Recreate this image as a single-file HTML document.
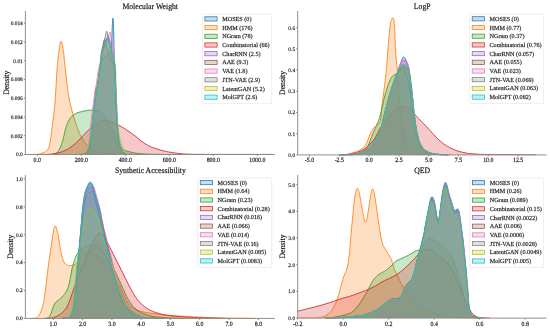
<!DOCTYPE html><html><head><meta charset="utf-8"><style>html,body{margin:0;padding:0;background:#fff;}svg{display:block;}</style></head><body>
<svg width="550" height="329" viewBox="0 0 550 329">
<defs><filter id="gs" x="0" y="0" width="1" height="1"><feColorMatrix type="identity"/></filter></defs>
<rect width="550" height="329" fill="#fff"/>
<clipPath id="c0"><rect x="25.40" y="-9.10" width="249.60" height="164.10"/></clipPath>
<g clip-path="url(#c0)">
<path d="M80.00,154.50 L80.00,154.50 C80.67,154.45 82.83,154.57 84.00,154.20 C85.17,153.83 86.07,153.67 87.00,152.30 C87.93,150.93 88.87,149.55 89.60,146.00 C90.33,142.45 90.83,135.83 91.40,131.00 C91.97,126.17 92.50,121.50 93.00,117.00 C93.50,112.50 94.05,107.67 94.40,104.00 C94.75,100.33 94.93,97.53 95.10,95.00 C95.27,92.47 95.12,90.03 95.40,88.80 C95.68,87.57 96.30,89.07 96.80,87.60 C97.30,86.13 97.90,82.93 98.40,80.00 C98.90,77.07 99.28,73.00 99.80,70.00 C100.32,67.00 100.80,64.17 101.50,62.00 C102.20,59.83 103.00,58.08 104.00,57.00 C105.00,55.92 106.42,56.33 107.50,55.50 C108.58,54.67 109.80,54.25 110.50,52.00 C111.20,49.75 111.42,46.00 111.70,42.00 C111.98,38.00 112.02,31.97 112.20,28.00 C112.38,24.03 112.60,18.87 112.80,18.20 C113.00,17.53 113.23,20.70 113.40,24.00 C113.57,27.30 113.67,32.83 113.80,38.00 C113.93,43.17 114.03,49.67 114.20,55.00 C114.37,60.33 114.62,65.83 114.80,70.00 C114.98,74.17 115.08,75.00 115.30,80.00 C115.52,85.00 115.77,92.50 116.10,100.00 C116.43,107.50 116.87,118.33 117.30,125.00 C117.73,131.67 118.00,135.83 118.70,140.00 C119.40,144.17 120.62,147.83 121.50,150.00 C122.38,152.17 122.92,152.28 124.00,153.00 C125.08,153.72 126.33,154.05 128.00,154.30 C129.67,154.55 133.00,154.47 134.00,154.50 L134.00,154.50 Z" fill="#1f77b4" fill-opacity="0.250" stroke="none"/>
<path d="M80.00,154.50 C80.67,154.45 82.83,154.57 84.00,154.20 C85.17,153.83 86.07,153.67 87.00,152.30 C87.93,150.93 88.87,149.55 89.60,146.00 C90.33,142.45 90.83,135.83 91.40,131.00 C91.97,126.17 92.50,121.50 93.00,117.00 C93.50,112.50 94.05,107.67 94.40,104.00 C94.75,100.33 94.93,97.53 95.10,95.00 C95.27,92.47 95.12,90.03 95.40,88.80 C95.68,87.57 96.30,89.07 96.80,87.60 C97.30,86.13 97.90,82.93 98.40,80.00 C98.90,77.07 99.28,73.00 99.80,70.00 C100.32,67.00 100.80,64.17 101.50,62.00 C102.20,59.83 103.00,58.08 104.00,57.00 C105.00,55.92 106.42,56.33 107.50,55.50 C108.58,54.67 109.80,54.25 110.50,52.00 C111.20,49.75 111.42,46.00 111.70,42.00 C111.98,38.00 112.02,31.97 112.20,28.00 C112.38,24.03 112.60,18.87 112.80,18.20 C113.00,17.53 113.23,20.70 113.40,24.00 C113.57,27.30 113.67,32.83 113.80,38.00 C113.93,43.17 114.03,49.67 114.20,55.00 C114.37,60.33 114.62,65.83 114.80,70.00 C114.98,74.17 115.08,75.00 115.30,80.00 C115.52,85.00 115.77,92.50 116.10,100.00 C116.43,107.50 116.87,118.33 117.30,125.00 C117.73,131.67 118.00,135.83 118.70,140.00 C119.40,144.17 120.62,147.83 121.50,150.00 C122.38,152.17 122.92,152.28 124.00,153.00 C125.08,153.72 126.33,154.05 128.00,154.30 C129.67,154.55 133.00,154.47 134.00,154.50" fill="none" stroke="#1f77b4" stroke-width="0.85" stroke-linejoin="round"/>
<path d="M28.00,154.50 L28.00,154.50 C28.83,154.48 31.27,154.45 33.00,154.40 C34.73,154.35 36.90,154.40 38.40,154.20 C39.90,154.00 40.82,153.60 42.00,153.20 C43.18,152.80 44.63,152.30 45.50,151.80 C46.37,151.30 46.62,151.00 47.20,150.20 C47.78,149.40 48.45,148.70 49.00,147.00 C49.55,145.30 50.03,142.83 50.50,140.00 C50.97,137.17 51.37,133.33 51.80,130.00 C52.23,126.67 52.68,123.33 53.10,120.00 C53.52,116.67 53.95,113.33 54.30,110.00 C54.65,106.67 54.90,104.17 55.20,100.00 C55.50,95.83 55.80,90.00 56.10,85.00 C56.40,80.00 56.67,74.50 57.00,70.00 C57.33,65.50 57.75,61.33 58.10,58.00 C58.45,54.67 58.77,52.33 59.10,50.00 C59.43,47.67 59.80,45.45 60.10,44.00 C60.40,42.55 60.60,41.47 60.90,41.30 C61.20,41.13 61.58,42.05 61.90,43.00 C62.22,43.95 62.50,45.33 62.80,47.00 C63.10,48.67 63.37,50.17 63.70,53.00 C64.03,55.83 64.40,60.17 64.80,64.00 C65.20,67.83 65.65,72.00 66.10,76.00 C66.55,80.00 66.95,84.00 67.50,88.00 C68.05,92.00 68.68,96.33 69.40,100.00 C70.12,103.67 70.87,106.50 71.80,110.00 C72.73,113.50 73.88,117.50 75.00,121.00 C76.12,124.50 77.33,128.08 78.50,131.00 C79.67,133.92 80.83,136.42 82.00,138.50 C83.17,140.58 84.42,142.12 85.50,143.50 C86.58,144.88 87.25,145.77 88.50,146.80 C89.75,147.83 91.08,148.80 93.00,149.70 C94.92,150.60 97.17,151.52 100.00,152.20 C102.83,152.88 105.83,153.43 110.00,153.80 C114.17,154.17 120.00,154.28 125.00,154.40 C130.00,154.52 137.50,154.48 140.00,154.50 L140.00,154.50 Z" fill="#ff7f0e" fill-opacity="0.250" stroke="none"/>
<path d="M28.00,154.50 C28.83,154.48 31.27,154.45 33.00,154.40 C34.73,154.35 36.90,154.40 38.40,154.20 C39.90,154.00 40.82,153.60 42.00,153.20 C43.18,152.80 44.63,152.30 45.50,151.80 C46.37,151.30 46.62,151.00 47.20,150.20 C47.78,149.40 48.45,148.70 49.00,147.00 C49.55,145.30 50.03,142.83 50.50,140.00 C50.97,137.17 51.37,133.33 51.80,130.00 C52.23,126.67 52.68,123.33 53.10,120.00 C53.52,116.67 53.95,113.33 54.30,110.00 C54.65,106.67 54.90,104.17 55.20,100.00 C55.50,95.83 55.80,90.00 56.10,85.00 C56.40,80.00 56.67,74.50 57.00,70.00 C57.33,65.50 57.75,61.33 58.10,58.00 C58.45,54.67 58.77,52.33 59.10,50.00 C59.43,47.67 59.80,45.45 60.10,44.00 C60.40,42.55 60.60,41.47 60.90,41.30 C61.20,41.13 61.58,42.05 61.90,43.00 C62.22,43.95 62.50,45.33 62.80,47.00 C63.10,48.67 63.37,50.17 63.70,53.00 C64.03,55.83 64.40,60.17 64.80,64.00 C65.20,67.83 65.65,72.00 66.10,76.00 C66.55,80.00 66.95,84.00 67.50,88.00 C68.05,92.00 68.68,96.33 69.40,100.00 C70.12,103.67 70.87,106.50 71.80,110.00 C72.73,113.50 73.88,117.50 75.00,121.00 C76.12,124.50 77.33,128.08 78.50,131.00 C79.67,133.92 80.83,136.42 82.00,138.50 C83.17,140.58 84.42,142.12 85.50,143.50 C86.58,144.88 87.25,145.77 88.50,146.80 C89.75,147.83 91.08,148.80 93.00,149.70 C94.92,150.60 97.17,151.52 100.00,152.20 C102.83,152.88 105.83,153.43 110.00,153.80 C114.17,154.17 120.00,154.28 125.00,154.40 C130.00,154.52 137.50,154.48 140.00,154.50" fill="none" stroke="#ff7f0e" stroke-width="0.85" stroke-linejoin="round"/>
<path d="M48.00,154.50 L48.00,154.50 C48.83,154.45 51.67,154.38 53.00,154.20 C54.33,154.02 55.17,153.85 56.00,153.40 C56.83,152.95 57.33,152.35 58.00,151.50 C58.67,150.65 59.35,149.65 60.00,148.30 C60.65,146.95 61.23,145.53 61.90,143.40 C62.57,141.27 63.23,138.48 64.00,135.50 C64.77,132.52 65.50,128.33 66.50,125.50 C67.50,122.67 68.75,120.32 70.00,118.50 C71.25,116.68 72.67,115.58 74.00,114.60 C75.33,113.62 76.72,113.10 78.00,112.60 C79.28,112.10 80.37,111.92 81.70,111.60 C83.03,111.28 84.62,110.93 86.00,110.70 C87.38,110.47 88.50,110.23 90.00,110.20 C91.50,110.17 93.33,110.12 95.00,110.50 C96.67,110.88 98.17,111.25 100.00,112.50 C101.83,113.75 104.17,115.42 106.00,118.00 C107.83,120.58 109.50,124.67 111.00,128.00 C112.50,131.33 113.72,135.12 115.00,138.00 C116.28,140.88 117.53,143.55 118.70,145.30 C119.87,147.05 120.78,147.58 122.00,148.50 C123.22,149.42 123.83,150.05 126.00,150.80 C128.17,151.55 131.83,152.47 135.00,153.00 C138.17,153.53 140.83,153.77 145.00,154.00 C149.17,154.23 154.17,154.32 160.00,154.40 C165.83,154.48 176.67,154.48 180.00,154.50 L180.00,154.50 Z" fill="#2ca02c" fill-opacity="0.250" stroke="none"/>
<path d="M48.00,154.50 C48.83,154.45 51.67,154.38 53.00,154.20 C54.33,154.02 55.17,153.85 56.00,153.40 C56.83,152.95 57.33,152.35 58.00,151.50 C58.67,150.65 59.35,149.65 60.00,148.30 C60.65,146.95 61.23,145.53 61.90,143.40 C62.57,141.27 63.23,138.48 64.00,135.50 C64.77,132.52 65.50,128.33 66.50,125.50 C67.50,122.67 68.75,120.32 70.00,118.50 C71.25,116.68 72.67,115.58 74.00,114.60 C75.33,113.62 76.72,113.10 78.00,112.60 C79.28,112.10 80.37,111.92 81.70,111.60 C83.03,111.28 84.62,110.93 86.00,110.70 C87.38,110.47 88.50,110.23 90.00,110.20 C91.50,110.17 93.33,110.12 95.00,110.50 C96.67,110.88 98.17,111.25 100.00,112.50 C101.83,113.75 104.17,115.42 106.00,118.00 C107.83,120.58 109.50,124.67 111.00,128.00 C112.50,131.33 113.72,135.12 115.00,138.00 C116.28,140.88 117.53,143.55 118.70,145.30 C119.87,147.05 120.78,147.58 122.00,148.50 C123.22,149.42 123.83,150.05 126.00,150.80 C128.17,151.55 131.83,152.47 135.00,153.00 C138.17,153.53 140.83,153.77 145.00,154.00 C149.17,154.23 154.17,154.32 160.00,154.40 C165.83,154.48 176.67,154.48 180.00,154.50" fill="none" stroke="#2ca02c" stroke-width="0.85" stroke-linejoin="round"/>
<path d="M40.00,154.50 L40.00,154.50 C41.17,154.48 44.87,154.48 47.00,154.40 C49.13,154.32 50.63,154.33 52.80,154.00 C54.97,153.67 57.97,152.97 60.00,152.40 C62.03,151.83 63.42,151.33 65.00,150.60 C66.58,149.87 67.83,149.13 69.50,148.00 C71.17,146.87 73.22,145.32 75.00,143.80 C76.78,142.28 78.53,140.60 80.20,138.90 C81.87,137.20 83.37,135.30 85.00,133.60 C86.63,131.90 88.33,130.20 90.00,128.70 C91.67,127.20 93.33,125.78 95.00,124.60 C96.67,123.42 98.40,122.27 100.00,121.60 C101.60,120.93 103.10,120.67 104.60,120.60 C106.10,120.53 107.52,120.87 109.00,121.20 C110.48,121.53 112.00,121.98 113.50,122.60 C115.00,123.22 116.25,123.97 118.00,124.90 C119.75,125.83 122.00,126.98 124.00,128.20 C126.00,129.42 128.00,130.80 130.00,132.20 C132.00,133.60 134.33,135.28 136.00,136.60 C137.67,137.92 138.50,138.93 140.00,140.10 C141.50,141.27 143.33,142.53 145.00,143.60 C146.67,144.67 148.33,145.72 150.00,146.50 C151.67,147.28 153.33,147.73 155.00,148.30 C156.67,148.87 158.33,149.42 160.00,149.90 C161.67,150.38 163.33,150.82 165.00,151.20 C166.67,151.58 167.50,151.80 170.00,152.20 C172.50,152.60 176.67,153.27 180.00,153.60 C183.33,153.93 185.83,154.07 190.00,154.20 C194.17,154.32 198.33,154.32 205.00,154.35 C211.67,154.38 219.50,154.39 230.00,154.40 C240.50,154.41 261.33,154.38 268.00,154.40 C274.67,154.42 269.67,154.48 270.00,154.50 L270.00,154.50 Z" fill="#d62728" fill-opacity="0.250" stroke="none"/>
<path d="M40.00,154.50 C41.17,154.48 44.87,154.48 47.00,154.40 C49.13,154.32 50.63,154.33 52.80,154.00 C54.97,153.67 57.97,152.97 60.00,152.40 C62.03,151.83 63.42,151.33 65.00,150.60 C66.58,149.87 67.83,149.13 69.50,148.00 C71.17,146.87 73.22,145.32 75.00,143.80 C76.78,142.28 78.53,140.60 80.20,138.90 C81.87,137.20 83.37,135.30 85.00,133.60 C86.63,131.90 88.33,130.20 90.00,128.70 C91.67,127.20 93.33,125.78 95.00,124.60 C96.67,123.42 98.40,122.27 100.00,121.60 C101.60,120.93 103.10,120.67 104.60,120.60 C106.10,120.53 107.52,120.87 109.00,121.20 C110.48,121.53 112.00,121.98 113.50,122.60 C115.00,123.22 116.25,123.97 118.00,124.90 C119.75,125.83 122.00,126.98 124.00,128.20 C126.00,129.42 128.00,130.80 130.00,132.20 C132.00,133.60 134.33,135.28 136.00,136.60 C137.67,137.92 138.50,138.93 140.00,140.10 C141.50,141.27 143.33,142.53 145.00,143.60 C146.67,144.67 148.33,145.72 150.00,146.50 C151.67,147.28 153.33,147.73 155.00,148.30 C156.67,148.87 158.33,149.42 160.00,149.90 C161.67,150.38 163.33,150.82 165.00,151.20 C166.67,151.58 167.50,151.80 170.00,152.20 C172.50,152.60 176.67,153.27 180.00,153.60 C183.33,153.93 185.83,154.07 190.00,154.20 C194.17,154.32 198.33,154.32 205.00,154.35 C211.67,154.38 219.50,154.39 230.00,154.40 C240.50,154.41 261.33,154.38 268.00,154.40 C274.67,154.42 269.67,154.48 270.00,154.50" fill="none" stroke="#d62728" stroke-width="0.85" stroke-linejoin="round"/>
<path d="M80.00,154.50 L80.00,154.50 C80.67,154.45 82.83,154.57 84.00,154.20 C85.17,153.83 86.07,153.67 87.00,152.30 C87.93,150.93 88.87,149.55 89.60,146.00 C90.33,142.45 90.83,135.83 91.40,131.00 C91.97,126.17 92.47,121.50 93.00,117.00 C93.53,112.50 94.05,108.17 94.60,104.00 C95.15,99.83 95.68,96.00 96.30,92.00 C96.92,88.00 97.75,83.67 98.30,80.00 C98.85,76.33 99.07,73.67 99.60,70.00 C100.13,66.33 100.68,62.00 101.50,58.00 C102.32,54.00 103.62,49.17 104.50,46.00 C105.38,42.83 106.15,40.58 106.80,39.00 C107.45,37.42 107.90,36.33 108.40,36.50 C108.90,36.67 109.28,38.08 109.80,40.00 C110.32,41.92 110.97,45.33 111.50,48.00 C112.03,50.67 112.50,53.33 113.00,56.00 C113.50,58.67 114.15,61.67 114.50,64.00 C114.85,66.33 114.97,67.33 115.10,70.00 C115.23,72.67 115.15,75.00 115.30,80.00 C115.45,85.00 115.67,92.50 116.00,100.00 C116.33,107.50 116.85,118.33 117.30,125.00 C117.75,131.67 118.00,135.83 118.70,140.00 C119.40,144.17 120.62,147.83 121.50,150.00 C122.38,152.17 122.92,152.28 124.00,153.00 C125.08,153.72 126.33,154.05 128.00,154.30 C129.67,154.55 133.00,154.47 134.00,154.50 L134.00,154.50 Z" fill="#9467bd" fill-opacity="0.250" stroke="none"/>
<path d="M80.00,154.50 C80.67,154.45 82.83,154.57 84.00,154.20 C85.17,153.83 86.07,153.67 87.00,152.30 C87.93,150.93 88.87,149.55 89.60,146.00 C90.33,142.45 90.83,135.83 91.40,131.00 C91.97,126.17 92.47,121.50 93.00,117.00 C93.53,112.50 94.05,108.17 94.60,104.00 C95.15,99.83 95.68,96.00 96.30,92.00 C96.92,88.00 97.75,83.67 98.30,80.00 C98.85,76.33 99.07,73.67 99.60,70.00 C100.13,66.33 100.68,62.00 101.50,58.00 C102.32,54.00 103.62,49.17 104.50,46.00 C105.38,42.83 106.15,40.58 106.80,39.00 C107.45,37.42 107.90,36.33 108.40,36.50 C108.90,36.67 109.28,38.08 109.80,40.00 C110.32,41.92 110.97,45.33 111.50,48.00 C112.03,50.67 112.50,53.33 113.00,56.00 C113.50,58.67 114.15,61.67 114.50,64.00 C114.85,66.33 114.97,67.33 115.10,70.00 C115.23,72.67 115.15,75.00 115.30,80.00 C115.45,85.00 115.67,92.50 116.00,100.00 C116.33,107.50 116.85,118.33 117.30,125.00 C117.75,131.67 118.00,135.83 118.70,140.00 C119.40,144.17 120.62,147.83 121.50,150.00 C122.38,152.17 122.92,152.28 124.00,153.00 C125.08,153.72 126.33,154.05 128.00,154.30 C129.67,154.55 133.00,154.47 134.00,154.50" fill="none" stroke="#9467bd" stroke-width="0.85" stroke-linejoin="round"/>
<path d="M80.00,154.50 L80.00,154.50 C80.67,154.45 82.83,154.57 84.00,154.20 C85.17,153.83 86.07,153.67 87.00,152.30 C87.93,150.93 88.87,149.55 89.60,146.00 C90.33,142.45 90.83,135.83 91.40,131.00 C91.97,126.17 92.47,121.50 93.00,117.00 C93.53,112.50 94.05,108.17 94.60,104.00 C95.15,99.83 95.68,96.00 96.30,92.00 C96.92,88.00 97.75,83.67 98.30,80.00 C98.85,76.33 99.15,74.17 99.60,70.00 C100.05,65.83 100.43,59.17 101.00,55.00 C101.57,50.83 102.42,47.63 103.00,45.00 C103.58,42.37 104.00,39.37 104.50,39.20 C105.00,39.03 105.33,41.87 106.00,44.00 C106.67,46.13 107.58,49.33 108.50,52.00 C109.42,54.67 110.58,57.67 111.50,60.00 C112.42,62.33 113.40,64.33 114.00,66.00 C114.60,67.67 114.88,67.67 115.10,70.00 C115.32,72.33 115.15,75.00 115.30,80.00 C115.45,85.00 115.67,92.50 116.00,100.00 C116.33,107.50 116.85,118.33 117.30,125.00 C117.75,131.67 118.00,135.83 118.70,140.00 C119.40,144.17 120.62,147.83 121.50,150.00 C122.38,152.17 122.92,152.28 124.00,153.00 C125.08,153.72 126.33,154.05 128.00,154.30 C129.67,154.55 133.00,154.47 134.00,154.50 L134.00,154.50 Z" fill="#8c564b" fill-opacity="0.250" stroke="none"/>
<path d="M80.00,154.50 C80.67,154.45 82.83,154.57 84.00,154.20 C85.17,153.83 86.07,153.67 87.00,152.30 C87.93,150.93 88.87,149.55 89.60,146.00 C90.33,142.45 90.83,135.83 91.40,131.00 C91.97,126.17 92.47,121.50 93.00,117.00 C93.53,112.50 94.05,108.17 94.60,104.00 C95.15,99.83 95.68,96.00 96.30,92.00 C96.92,88.00 97.75,83.67 98.30,80.00 C98.85,76.33 99.15,74.17 99.60,70.00 C100.05,65.83 100.43,59.17 101.00,55.00 C101.57,50.83 102.42,47.63 103.00,45.00 C103.58,42.37 104.00,39.37 104.50,39.20 C105.00,39.03 105.33,41.87 106.00,44.00 C106.67,46.13 107.58,49.33 108.50,52.00 C109.42,54.67 110.58,57.67 111.50,60.00 C112.42,62.33 113.40,64.33 114.00,66.00 C114.60,67.67 114.88,67.67 115.10,70.00 C115.32,72.33 115.15,75.00 115.30,80.00 C115.45,85.00 115.67,92.50 116.00,100.00 C116.33,107.50 116.85,118.33 117.30,125.00 C117.75,131.67 118.00,135.83 118.70,140.00 C119.40,144.17 120.62,147.83 121.50,150.00 C122.38,152.17 122.92,152.28 124.00,153.00 C125.08,153.72 126.33,154.05 128.00,154.30 C129.67,154.55 133.00,154.47 134.00,154.50" fill="none" stroke="#8c564b" stroke-width="0.85" stroke-linejoin="round"/>
<path d="M78.70,154.50 L78.70,154.50 C79.37,154.45 81.53,154.57 82.70,154.20 C83.87,153.83 84.77,153.67 85.70,152.30 C86.63,150.93 87.57,149.55 88.30,146.00 C89.03,142.45 89.53,135.83 90.10,131.00 C90.67,126.17 91.17,121.50 91.70,117.00 C92.23,112.50 92.75,108.17 93.30,104.00 C93.85,99.83 94.38,96.00 95.00,92.00 C95.62,88.00 96.45,83.67 97.00,80.00 C97.55,76.33 97.47,73.67 98.30,70.00 C99.13,66.33 100.88,61.67 102.00,58.00 C103.12,54.33 104.08,51.17 105.00,48.00 C105.92,44.83 106.72,41.62 107.50,39.00 C108.28,36.38 109.12,32.80 109.70,32.30 C110.28,31.80 110.53,33.88 111.00,36.00 C111.47,38.12 112.00,41.83 112.50,45.00 C113.00,48.17 113.62,52.00 114.00,55.00 C114.38,58.00 114.55,60.50 114.80,63.00 C115.05,65.50 115.35,67.17 115.50,70.00 C115.65,72.83 115.55,75.00 115.70,80.00 C115.85,85.00 116.07,92.50 116.40,100.00 C116.73,107.50 117.25,118.33 117.70,125.00 C118.15,131.67 118.40,135.83 119.10,140.00 C119.80,144.17 121.02,147.83 121.90,150.00 C122.78,152.17 123.32,152.28 124.40,153.00 C125.48,153.72 126.73,154.05 128.40,154.30 C130.07,154.55 133.40,154.47 134.40,154.50 L134.40,154.50 Z" fill="#e377c2" fill-opacity="0.250" stroke="none"/>
<path d="M78.70,154.50 C79.37,154.45 81.53,154.57 82.70,154.20 C83.87,153.83 84.77,153.67 85.70,152.30 C86.63,150.93 87.57,149.55 88.30,146.00 C89.03,142.45 89.53,135.83 90.10,131.00 C90.67,126.17 91.17,121.50 91.70,117.00 C92.23,112.50 92.75,108.17 93.30,104.00 C93.85,99.83 94.38,96.00 95.00,92.00 C95.62,88.00 96.45,83.67 97.00,80.00 C97.55,76.33 97.47,73.67 98.30,70.00 C99.13,66.33 100.88,61.67 102.00,58.00 C103.12,54.33 104.08,51.17 105.00,48.00 C105.92,44.83 106.72,41.62 107.50,39.00 C108.28,36.38 109.12,32.80 109.70,32.30 C110.28,31.80 110.53,33.88 111.00,36.00 C111.47,38.12 112.00,41.83 112.50,45.00 C113.00,48.17 113.62,52.00 114.00,55.00 C114.38,58.00 114.55,60.50 114.80,63.00 C115.05,65.50 115.35,67.17 115.50,70.00 C115.65,72.83 115.55,75.00 115.70,80.00 C115.85,85.00 116.07,92.50 116.40,100.00 C116.73,107.50 117.25,118.33 117.70,125.00 C118.15,131.67 118.40,135.83 119.10,140.00 C119.80,144.17 121.02,147.83 121.90,150.00 C122.78,152.17 123.32,152.28 124.40,153.00 C125.48,153.72 126.73,154.05 128.40,154.30 C130.07,154.55 133.40,154.47 134.40,154.50" fill="none" stroke="#e377c2" stroke-width="0.85" stroke-linejoin="round"/>
<path d="M80.00,154.50 L80.00,154.50 C80.67,154.45 82.83,154.57 84.00,154.20 C85.17,153.83 86.07,153.67 87.00,152.30 C87.93,150.93 88.87,149.55 89.60,146.00 C90.33,142.45 90.83,135.83 91.40,131.00 C91.97,126.17 92.47,121.50 93.00,117.00 C93.53,112.50 94.05,108.17 94.60,104.00 C95.15,99.83 95.68,96.00 96.30,92.00 C96.92,88.00 97.75,83.67 98.30,80.00 C98.85,76.33 98.92,74.50 99.60,70.00 C100.28,65.50 101.55,58.08 102.40,53.00 C103.25,47.92 104.02,43.13 104.70,39.50 C105.38,35.87 105.98,31.78 106.50,31.20 C107.02,30.62 107.30,33.70 107.80,36.00 C108.30,38.30 108.88,42.17 109.50,45.00 C110.12,47.83 110.83,50.33 111.50,53.00 C112.17,55.67 112.90,58.17 113.50,61.00 C114.10,63.83 114.80,66.83 115.10,70.00 C115.40,73.17 115.15,75.00 115.30,80.00 C115.45,85.00 115.67,92.50 116.00,100.00 C116.33,107.50 116.85,118.33 117.30,125.00 C117.75,131.67 118.00,135.83 118.70,140.00 C119.40,144.17 120.62,147.83 121.50,150.00 C122.38,152.17 122.92,152.28 124.00,153.00 C125.08,153.72 126.33,154.05 128.00,154.30 C129.67,154.55 133.00,154.47 134.00,154.50 L134.00,154.50 Z" fill="#7f7f7f" fill-opacity="0.250" stroke="none"/>
<path d="M80.00,154.50 C80.67,154.45 82.83,154.57 84.00,154.20 C85.17,153.83 86.07,153.67 87.00,152.30 C87.93,150.93 88.87,149.55 89.60,146.00 C90.33,142.45 90.83,135.83 91.40,131.00 C91.97,126.17 92.47,121.50 93.00,117.00 C93.53,112.50 94.05,108.17 94.60,104.00 C95.15,99.83 95.68,96.00 96.30,92.00 C96.92,88.00 97.75,83.67 98.30,80.00 C98.85,76.33 98.92,74.50 99.60,70.00 C100.28,65.50 101.55,58.08 102.40,53.00 C103.25,47.92 104.02,43.13 104.70,39.50 C105.38,35.87 105.98,31.78 106.50,31.20 C107.02,30.62 107.30,33.70 107.80,36.00 C108.30,38.30 108.88,42.17 109.50,45.00 C110.12,47.83 110.83,50.33 111.50,53.00 C112.17,55.67 112.90,58.17 113.50,61.00 C114.10,63.83 114.80,66.83 115.10,70.00 C115.40,73.17 115.15,75.00 115.30,80.00 C115.45,85.00 115.67,92.50 116.00,100.00 C116.33,107.50 116.85,118.33 117.30,125.00 C117.75,131.67 118.00,135.83 118.70,140.00 C119.40,144.17 120.62,147.83 121.50,150.00 C122.38,152.17 122.92,152.28 124.00,153.00 C125.08,153.72 126.33,154.05 128.00,154.30 C129.67,154.55 133.00,154.47 134.00,154.50" fill="none" stroke="#7f7f7f" stroke-width="0.85" stroke-linejoin="round"/>
<path d="M77.76,154.50 L77.76,154.50 C78.43,154.45 80.59,154.57 81.78,154.20 C82.98,153.83 83.89,153.67 84.94,152.30 C85.99,150.93 87.04,149.55 88.08,146.00 C89.11,142.45 90.33,135.83 91.15,131.00 C91.97,126.17 92.42,121.50 93.00,117.00 C93.58,112.50 94.05,108.17 94.60,104.00 C95.15,99.83 95.68,96.00 96.30,92.00 C96.92,88.00 97.75,83.67 98.30,80.00 C98.85,76.33 99.15,73.33 99.60,70.00 C100.05,66.67 100.27,63.33 101.00,60.00 C101.73,56.67 102.92,52.92 104.00,50.00 C105.08,47.08 106.50,43.08 107.50,42.50 C108.50,41.92 109.17,44.58 110.00,46.50 C110.83,48.42 111.78,51.42 112.50,54.00 C113.22,56.58 113.78,59.33 114.30,62.00 C114.82,64.67 115.35,67.00 115.60,70.00 C115.85,73.00 115.65,75.00 115.80,80.00 C115.95,85.00 116.17,92.50 116.50,100.00 C116.83,107.50 117.18,118.33 117.80,125.00 C118.42,131.67 119.21,135.83 120.22,140.00 C121.23,144.17 122.79,147.83 123.86,150.00 C124.93,152.17 125.47,152.28 126.62,153.00 C127.76,153.72 129.04,154.05 130.73,154.30 C132.41,154.55 135.74,154.47 136.74,154.50 L136.74,154.50 Z" fill="#bcbd22" fill-opacity="0.250" stroke="none"/>
<path d="M77.76,154.50 C78.43,154.45 80.59,154.57 81.78,154.20 C82.98,153.83 83.89,153.67 84.94,152.30 C85.99,150.93 87.04,149.55 88.08,146.00 C89.11,142.45 90.33,135.83 91.15,131.00 C91.97,126.17 92.42,121.50 93.00,117.00 C93.58,112.50 94.05,108.17 94.60,104.00 C95.15,99.83 95.68,96.00 96.30,92.00 C96.92,88.00 97.75,83.67 98.30,80.00 C98.85,76.33 99.15,73.33 99.60,70.00 C100.05,66.67 100.27,63.33 101.00,60.00 C101.73,56.67 102.92,52.92 104.00,50.00 C105.08,47.08 106.50,43.08 107.50,42.50 C108.50,41.92 109.17,44.58 110.00,46.50 C110.83,48.42 111.78,51.42 112.50,54.00 C113.22,56.58 113.78,59.33 114.30,62.00 C114.82,64.67 115.35,67.00 115.60,70.00 C115.85,73.00 115.65,75.00 115.80,80.00 C115.95,85.00 116.17,92.50 116.50,100.00 C116.83,107.50 117.18,118.33 117.80,125.00 C118.42,131.67 119.21,135.83 120.22,140.00 C121.23,144.17 122.79,147.83 123.86,150.00 C124.93,152.17 125.47,152.28 126.62,153.00 C127.76,153.72 129.04,154.05 130.73,154.30 C132.41,154.55 135.74,154.47 136.74,154.50" fill="none" stroke="#bcbd22" stroke-width="0.85" stroke-linejoin="round"/>
<path d="M80.30,154.50 L80.30,154.50 C80.97,154.45 83.13,154.57 84.30,154.20 C85.47,153.83 86.37,153.67 87.30,152.30 C88.23,150.93 89.17,149.55 89.90,146.00 C90.63,142.45 91.13,135.83 91.70,131.00 C92.27,126.17 92.77,121.50 93.30,117.00 C93.83,112.50 94.35,108.17 94.90,104.00 C95.45,99.83 95.98,96.00 96.60,92.00 C97.22,88.00 98.05,83.67 98.60,80.00 C99.15,76.33 99.42,74.00 99.90,70.00 C100.38,66.00 100.73,60.17 101.50,56.00 C102.27,51.83 103.58,48.08 104.50,45.00 C105.42,41.92 106.28,38.17 107.00,37.50 C107.72,36.83 108.13,39.08 108.80,41.00 C109.47,42.92 110.27,46.33 111.00,49.00 C111.73,51.67 112.58,54.50 113.20,57.00 C113.82,59.50 114.38,61.83 114.70,64.00 C115.02,66.17 115.00,67.33 115.10,70.00 C115.20,72.67 115.15,75.00 115.30,80.00 C115.45,85.00 115.67,92.50 116.00,100.00 C116.33,107.50 116.85,118.33 117.30,125.00 C117.75,131.67 118.00,135.83 118.70,140.00 C119.40,144.17 120.62,147.83 121.50,150.00 C122.38,152.17 122.92,152.28 124.00,153.00 C125.08,153.72 126.33,154.05 128.00,154.30 C129.67,154.55 133.00,154.47 134.00,154.50 L134.00,154.50 Z" fill="#17becf" fill-opacity="0.250" stroke="none"/>
<path d="M80.30,154.50 C80.97,154.45 83.13,154.57 84.30,154.20 C85.47,153.83 86.37,153.67 87.30,152.30 C88.23,150.93 89.17,149.55 89.90,146.00 C90.63,142.45 91.13,135.83 91.70,131.00 C92.27,126.17 92.77,121.50 93.30,117.00 C93.83,112.50 94.35,108.17 94.90,104.00 C95.45,99.83 95.98,96.00 96.60,92.00 C97.22,88.00 98.05,83.67 98.60,80.00 C99.15,76.33 99.42,74.00 99.90,70.00 C100.38,66.00 100.73,60.17 101.50,56.00 C102.27,51.83 103.58,48.08 104.50,45.00 C105.42,41.92 106.28,38.17 107.00,37.50 C107.72,36.83 108.13,39.08 108.80,41.00 C109.47,42.92 110.27,46.33 111.00,49.00 C111.73,51.67 112.58,54.50 113.20,57.00 C113.82,59.50 114.38,61.83 114.70,64.00 C115.02,66.17 115.00,67.33 115.10,70.00 C115.20,72.67 115.15,75.00 115.30,80.00 C115.45,85.00 115.67,92.50 116.00,100.00 C116.33,107.50 116.85,118.33 117.30,125.00 C117.75,131.67 118.00,135.83 118.70,140.00 C119.40,144.17 120.62,147.83 121.50,150.00 C122.38,152.17 122.92,152.28 124.00,153.00 C125.08,153.72 126.33,154.05 128.00,154.30 C129.67,154.55 133.00,154.47 134.00,154.50" fill="none" stroke="#17becf" stroke-width="0.85" stroke-linejoin="round"/>
</g>
<line x1="25.40" y1="10.90" x2="25.40" y2="154.50" stroke="#8a8a8a" stroke-width="0.95"/>
<line x1="25.40" y1="154.50" x2="275.00" y2="154.50" stroke="#8a8a8a" stroke-width="0.95"/>
<line x1="23.80" y1="154.50" x2="25.40" y2="154.50" stroke="#8a8a8a" stroke-width="0.95"/>
<line x1="23.80" y1="135.74" x2="25.40" y2="135.74" stroke="#8a8a8a" stroke-width="0.95"/>
<line x1="23.80" y1="116.98" x2="25.40" y2="116.98" stroke="#8a8a8a" stroke-width="0.95"/>
<line x1="23.80" y1="98.22" x2="25.40" y2="98.22" stroke="#8a8a8a" stroke-width="0.95"/>
<line x1="23.80" y1="79.46" x2="25.40" y2="79.46" stroke="#8a8a8a" stroke-width="0.95"/>
<line x1="23.80" y1="60.70" x2="25.40" y2="60.70" stroke="#8a8a8a" stroke-width="0.95"/>
<line x1="23.80" y1="41.94" x2="25.40" y2="41.94" stroke="#8a8a8a" stroke-width="0.95"/>
<line x1="23.80" y1="23.18" x2="25.40" y2="23.18" stroke="#8a8a8a" stroke-width="0.95"/>
<line x1="37.30" y1="154.50" x2="37.30" y2="156.10" stroke="#8a8a8a" stroke-width="0.95"/>
<line x1="81.30" y1="154.50" x2="81.30" y2="156.10" stroke="#8a8a8a" stroke-width="0.95"/>
<line x1="125.30" y1="154.50" x2="125.30" y2="156.10" stroke="#8a8a8a" stroke-width="0.95"/>
<line x1="169.30" y1="154.50" x2="169.30" y2="156.10" stroke="#8a8a8a" stroke-width="0.95"/>
<line x1="213.30" y1="154.50" x2="213.30" y2="156.10" stroke="#8a8a8a" stroke-width="0.95"/>
<line x1="257.30" y1="154.50" x2="257.30" y2="156.10" stroke="#8a8a8a" stroke-width="0.95"/>
<rect x="202.30" y="14.20" width="69.40" height="89.40" rx="1.2" ry="1.2" fill="#fff" fill-opacity="0.8" stroke="#d4d4d4" stroke-opacity="0.8" stroke-width="0.5"/>
<rect x="204.90" y="16.80" width="12.2" height="4.2" fill="#1f77b4" fill-opacity="0.25" stroke="#1f77b4" stroke-width="0.75"/>
<rect x="204.90" y="25.50" width="12.2" height="4.2" fill="#ff7f0e" fill-opacity="0.25" stroke="#ff7f0e" stroke-width="0.75"/>
<rect x="204.90" y="34.20" width="12.2" height="4.2" fill="#2ca02c" fill-opacity="0.25" stroke="#2ca02c" stroke-width="0.75"/>
<rect x="204.90" y="42.90" width="12.2" height="4.2" fill="#d62728" fill-opacity="0.25" stroke="#d62728" stroke-width="0.75"/>
<rect x="204.90" y="51.60" width="12.2" height="4.2" fill="#9467bd" fill-opacity="0.25" stroke="#9467bd" stroke-width="0.75"/>
<rect x="204.90" y="60.30" width="12.2" height="4.2" fill="#8c564b" fill-opacity="0.25" stroke="#8c564b" stroke-width="0.75"/>
<rect x="204.90" y="69.00" width="12.2" height="4.2" fill="#e377c2" fill-opacity="0.25" stroke="#e377c2" stroke-width="0.75"/>
<rect x="204.90" y="77.70" width="12.2" height="4.2" fill="#7f7f7f" fill-opacity="0.25" stroke="#7f7f7f" stroke-width="0.75"/>
<rect x="204.90" y="86.40" width="12.2" height="4.2" fill="#bcbd22" fill-opacity="0.25" stroke="#bcbd22" stroke-width="0.75"/>
<rect x="204.90" y="95.10" width="12.2" height="4.2" fill="#17becf" fill-opacity="0.25" stroke="#17becf" stroke-width="0.75"/>
<clipPath id="c1"><rect x="297.70" y="-9.10" width="248.90" height="164.50"/></clipPath>
<g clip-path="url(#c1)">
<path d="M340.00,154.90 L340.00,154.90 C342.00,154.85 349.00,154.75 352.00,154.60 C355.00,154.45 356.67,154.28 358.00,154.00 C359.33,153.72 358.93,153.37 360.00,152.90 C361.07,152.43 362.93,151.93 364.40,151.20 C365.87,150.47 367.35,149.68 368.80,148.50 C370.25,147.32 371.83,145.75 373.10,144.10 C374.37,142.45 375.30,140.62 376.40,138.60 C377.50,136.58 378.78,134.00 379.70,132.00 C380.62,130.00 381.27,128.60 381.90,126.60 C382.53,124.60 382.90,122.43 383.50,120.00 C384.10,117.57 384.78,114.83 385.50,112.00 C386.22,109.17 387.00,106.00 387.80,103.00 C388.60,100.00 389.40,97.00 390.30,94.00 C391.20,91.00 392.33,87.50 393.20,85.00 C394.07,82.50 394.73,81.08 395.50,79.00 C396.27,76.92 397.07,74.70 397.80,72.50 C398.53,70.30 399.27,67.83 399.90,65.80 C400.53,63.77 401.17,61.57 401.60,60.30 C402.03,59.03 402.20,58.75 402.50,58.20 C402.80,57.65 403.03,57.07 403.40,57.00 C403.77,56.93 404.23,57.22 404.70,57.80 C405.17,58.38 405.68,59.30 406.20,60.50 C406.72,61.70 407.30,63.25 407.80,65.00 C408.30,66.75 408.75,68.50 409.20,71.00 C409.65,73.50 410.07,76.83 410.50,80.00 C410.93,83.17 411.40,86.67 411.80,90.00 C412.20,93.33 412.57,96.67 412.90,100.00 C413.23,103.33 413.48,107.00 413.80,110.00 C414.12,113.00 414.43,115.17 414.80,118.00 C415.17,120.83 415.60,124.50 416.00,127.00 C416.40,129.50 416.77,131.00 417.20,133.00 C417.63,135.00 418.10,137.25 418.60,139.00 C419.10,140.75 419.63,142.20 420.20,143.50 C420.77,144.80 421.37,145.85 422.00,146.80 C422.63,147.75 423.25,148.47 424.00,149.20 C424.75,149.93 425.58,150.62 426.50,151.20 C427.42,151.78 428.42,152.28 429.50,152.70 C430.58,153.12 431.58,153.42 433.00,153.70 C434.42,153.98 435.50,154.20 438.00,154.40 C440.50,154.60 446.33,154.82 448.00,154.90 L448.00,154.90 Z" fill="#1f77b4" fill-opacity="0.250" stroke="none"/>
<path d="M340.00,154.90 C342.00,154.85 349.00,154.75 352.00,154.60 C355.00,154.45 356.67,154.28 358.00,154.00 C359.33,153.72 358.93,153.37 360.00,152.90 C361.07,152.43 362.93,151.93 364.40,151.20 C365.87,150.47 367.35,149.68 368.80,148.50 C370.25,147.32 371.83,145.75 373.10,144.10 C374.37,142.45 375.30,140.62 376.40,138.60 C377.50,136.58 378.78,134.00 379.70,132.00 C380.62,130.00 381.27,128.60 381.90,126.60 C382.53,124.60 382.90,122.43 383.50,120.00 C384.10,117.57 384.78,114.83 385.50,112.00 C386.22,109.17 387.00,106.00 387.80,103.00 C388.60,100.00 389.40,97.00 390.30,94.00 C391.20,91.00 392.33,87.50 393.20,85.00 C394.07,82.50 394.73,81.08 395.50,79.00 C396.27,76.92 397.07,74.70 397.80,72.50 C398.53,70.30 399.27,67.83 399.90,65.80 C400.53,63.77 401.17,61.57 401.60,60.30 C402.03,59.03 402.20,58.75 402.50,58.20 C402.80,57.65 403.03,57.07 403.40,57.00 C403.77,56.93 404.23,57.22 404.70,57.80 C405.17,58.38 405.68,59.30 406.20,60.50 C406.72,61.70 407.30,63.25 407.80,65.00 C408.30,66.75 408.75,68.50 409.20,71.00 C409.65,73.50 410.07,76.83 410.50,80.00 C410.93,83.17 411.40,86.67 411.80,90.00 C412.20,93.33 412.57,96.67 412.90,100.00 C413.23,103.33 413.48,107.00 413.80,110.00 C414.12,113.00 414.43,115.17 414.80,118.00 C415.17,120.83 415.60,124.50 416.00,127.00 C416.40,129.50 416.77,131.00 417.20,133.00 C417.63,135.00 418.10,137.25 418.60,139.00 C419.10,140.75 419.63,142.20 420.20,143.50 C420.77,144.80 421.37,145.85 422.00,146.80 C422.63,147.75 423.25,148.47 424.00,149.20 C424.75,149.93 425.58,150.62 426.50,151.20 C427.42,151.78 428.42,152.28 429.50,152.70 C430.58,153.12 431.58,153.42 433.00,153.70 C434.42,153.98 435.50,154.20 438.00,154.40 C440.50,154.60 446.33,154.82 448.00,154.90" fill="none" stroke="#1f77b4" stroke-width="0.85" stroke-linejoin="round"/>
<path d="M342.00,154.90 L342.00,154.90 C342.67,154.85 344.60,154.83 346.00,154.60 C347.40,154.37 348.90,153.90 350.40,153.50 C351.90,153.10 353.48,152.72 355.00,152.20 C356.52,151.68 358.17,151.10 359.50,150.40 C360.83,149.70 361.98,148.90 363.00,148.00 C364.02,147.10 364.85,146.17 365.60,145.00 C366.35,143.83 366.95,142.33 367.50,141.00 C368.05,139.67 368.40,138.33 368.90,137.00 C369.40,135.67 369.92,134.20 370.50,133.00 C371.08,131.80 371.73,130.80 372.40,129.80 C373.07,128.80 373.80,127.80 374.50,127.00 C375.20,126.20 375.85,125.62 376.60,125.00 C377.35,124.38 378.35,124.13 379.00,123.30 C379.65,122.47 380.08,122.22 380.50,120.00 C380.92,117.78 381.13,113.33 381.50,110.00 C381.87,106.67 382.28,103.33 382.70,100.00 C383.12,96.67 383.57,93.33 384.00,90.00 C384.43,86.67 384.88,83.67 385.30,80.00 C385.72,76.33 386.10,72.67 386.50,68.00 C386.90,63.33 387.33,56.67 387.70,52.00 C388.07,47.33 388.37,43.67 388.70,40.00 C389.03,36.33 389.38,32.92 389.70,30.00 C390.02,27.08 390.25,24.33 390.60,22.50 C390.95,20.67 391.42,19.75 391.80,19.00 C392.18,18.25 392.57,17.92 392.90,18.00 C393.23,18.08 393.53,18.33 393.80,19.50 C394.07,20.67 394.30,22.42 394.50,25.00 C394.70,27.58 394.83,30.83 395.00,35.00 C395.17,39.17 395.28,45.83 395.50,50.00 C395.72,54.17 396.00,56.67 396.30,60.00 C396.60,63.33 396.97,65.83 397.30,70.00 C397.63,74.17 397.97,80.00 398.30,85.00 C398.63,90.00 398.93,95.50 399.30,100.00 C399.67,104.50 400.02,107.83 400.50,112.00 C400.98,116.17 401.53,120.83 402.20,125.00 C402.87,129.17 403.62,133.50 404.50,137.00 C405.38,140.50 406.42,143.70 407.50,146.00 C408.58,148.30 409.58,149.57 411.00,150.80 C412.42,152.03 414.00,152.77 416.00,153.40 C418.00,154.03 420.33,154.35 423.00,154.60 C425.67,154.85 430.50,154.85 432.00,154.90 L432.00,154.90 Z" fill="#ff7f0e" fill-opacity="0.250" stroke="none"/>
<path d="M342.00,154.90 C342.67,154.85 344.60,154.83 346.00,154.60 C347.40,154.37 348.90,153.90 350.40,153.50 C351.90,153.10 353.48,152.72 355.00,152.20 C356.52,151.68 358.17,151.10 359.50,150.40 C360.83,149.70 361.98,148.90 363.00,148.00 C364.02,147.10 364.85,146.17 365.60,145.00 C366.35,143.83 366.95,142.33 367.50,141.00 C368.05,139.67 368.40,138.33 368.90,137.00 C369.40,135.67 369.92,134.20 370.50,133.00 C371.08,131.80 371.73,130.80 372.40,129.80 C373.07,128.80 373.80,127.80 374.50,127.00 C375.20,126.20 375.85,125.62 376.60,125.00 C377.35,124.38 378.35,124.13 379.00,123.30 C379.65,122.47 380.08,122.22 380.50,120.00 C380.92,117.78 381.13,113.33 381.50,110.00 C381.87,106.67 382.28,103.33 382.70,100.00 C383.12,96.67 383.57,93.33 384.00,90.00 C384.43,86.67 384.88,83.67 385.30,80.00 C385.72,76.33 386.10,72.67 386.50,68.00 C386.90,63.33 387.33,56.67 387.70,52.00 C388.07,47.33 388.37,43.67 388.70,40.00 C389.03,36.33 389.38,32.92 389.70,30.00 C390.02,27.08 390.25,24.33 390.60,22.50 C390.95,20.67 391.42,19.75 391.80,19.00 C392.18,18.25 392.57,17.92 392.90,18.00 C393.23,18.08 393.53,18.33 393.80,19.50 C394.07,20.67 394.30,22.42 394.50,25.00 C394.70,27.58 394.83,30.83 395.00,35.00 C395.17,39.17 395.28,45.83 395.50,50.00 C395.72,54.17 396.00,56.67 396.30,60.00 C396.60,63.33 396.97,65.83 397.30,70.00 C397.63,74.17 397.97,80.00 398.30,85.00 C398.63,90.00 398.93,95.50 399.30,100.00 C399.67,104.50 400.02,107.83 400.50,112.00 C400.98,116.17 401.53,120.83 402.20,125.00 C402.87,129.17 403.62,133.50 404.50,137.00 C405.38,140.50 406.42,143.70 407.50,146.00 C408.58,148.30 409.58,149.57 411.00,150.80 C412.42,152.03 414.00,152.77 416.00,153.40 C418.00,154.03 420.33,154.35 423.00,154.60 C425.67,154.85 430.50,154.85 432.00,154.90" fill="none" stroke="#ff7f0e" stroke-width="0.85" stroke-linejoin="round"/>
<path d="M350.00,154.90 L350.00,154.90 C351.17,154.80 355.00,154.70 357.00,154.30 C359.00,153.90 360.50,153.45 362.00,152.50 C363.50,151.55 364.83,150.08 366.00,148.60 C367.17,147.12 368.05,145.62 369.00,143.60 C369.95,141.58 370.87,138.60 371.70,136.50 C372.53,134.40 373.25,132.67 374.00,131.00 C374.75,129.33 375.50,128.08 376.20,126.50 C376.90,124.92 377.57,123.25 378.20,121.50 C378.83,119.75 379.33,118.42 380.00,116.00 C380.67,113.58 381.45,110.17 382.20,107.00 C382.95,103.83 383.73,100.00 384.50,97.00 C385.27,94.00 386.05,91.42 386.80,89.00 C387.55,86.58 388.23,84.42 389.00,82.50 C389.77,80.58 390.65,78.70 391.40,77.50 C392.15,76.30 392.73,75.85 393.50,75.30 C394.27,74.75 395.18,74.65 396.00,74.20 C396.82,73.75 397.63,73.43 398.40,72.60 C399.17,71.77 400.00,70.03 400.60,69.20 C401.20,68.37 401.52,67.77 402.00,67.60 C402.48,67.43 402.95,67.55 403.50,68.20 C404.05,68.85 404.68,70.03 405.30,71.50 C405.92,72.97 406.55,74.75 407.20,77.00 C407.85,79.25 408.60,82.00 409.20,85.00 C409.80,88.00 410.28,91.50 410.80,95.00 C411.32,98.50 411.83,102.50 412.30,106.00 C412.77,109.50 413.15,112.67 413.60,116.00 C414.05,119.33 414.48,122.83 415.00,126.00 C415.52,129.17 416.07,132.17 416.70,135.00 C417.33,137.83 418.00,140.73 418.80,143.00 C419.60,145.27 420.47,147.10 421.50,148.60 C422.53,150.10 423.58,151.13 425.00,152.00 C426.42,152.87 427.83,153.37 430.00,153.80 C432.17,154.23 434.67,154.42 438.00,154.60 C441.33,154.78 448.00,154.85 450.00,154.90 L450.00,154.90 Z" fill="#2ca02c" fill-opacity="0.250" stroke="none"/>
<path d="M350.00,154.90 C351.17,154.80 355.00,154.70 357.00,154.30 C359.00,153.90 360.50,153.45 362.00,152.50 C363.50,151.55 364.83,150.08 366.00,148.60 C367.17,147.12 368.05,145.62 369.00,143.60 C369.95,141.58 370.87,138.60 371.70,136.50 C372.53,134.40 373.25,132.67 374.00,131.00 C374.75,129.33 375.50,128.08 376.20,126.50 C376.90,124.92 377.57,123.25 378.20,121.50 C378.83,119.75 379.33,118.42 380.00,116.00 C380.67,113.58 381.45,110.17 382.20,107.00 C382.95,103.83 383.73,100.00 384.50,97.00 C385.27,94.00 386.05,91.42 386.80,89.00 C387.55,86.58 388.23,84.42 389.00,82.50 C389.77,80.58 390.65,78.70 391.40,77.50 C392.15,76.30 392.73,75.85 393.50,75.30 C394.27,74.75 395.18,74.65 396.00,74.20 C396.82,73.75 397.63,73.43 398.40,72.60 C399.17,71.77 400.00,70.03 400.60,69.20 C401.20,68.37 401.52,67.77 402.00,67.60 C402.48,67.43 402.95,67.55 403.50,68.20 C404.05,68.85 404.68,70.03 405.30,71.50 C405.92,72.97 406.55,74.75 407.20,77.00 C407.85,79.25 408.60,82.00 409.20,85.00 C409.80,88.00 410.28,91.50 410.80,95.00 C411.32,98.50 411.83,102.50 412.30,106.00 C412.77,109.50 413.15,112.67 413.60,116.00 C414.05,119.33 414.48,122.83 415.00,126.00 C415.52,129.17 416.07,132.17 416.70,135.00 C417.33,137.83 418.00,140.73 418.80,143.00 C419.60,145.27 420.47,147.10 421.50,148.60 C422.53,150.10 423.58,151.13 425.00,152.00 C426.42,152.87 427.83,153.37 430.00,153.80 C432.17,154.23 434.67,154.42 438.00,154.60 C441.33,154.78 448.00,154.85 450.00,154.90" fill="none" stroke="#2ca02c" stroke-width="0.85" stroke-linejoin="round"/>
<path d="M340.00,154.90 L340.00,154.90 C341.00,154.85 344.17,154.77 346.00,154.60 C347.83,154.43 349.25,154.23 351.00,153.90 C352.75,153.57 355.25,152.95 356.50,152.60 C357.75,152.25 357.55,152.20 358.50,151.80 C359.45,151.40 360.85,150.93 362.20,150.20 C363.55,149.47 365.13,148.60 366.60,147.40 C368.07,146.20 369.55,144.63 371.00,143.00 C372.45,141.37 373.85,139.90 375.30,137.60 C376.75,135.30 378.25,131.70 379.70,129.20 C381.15,126.70 382.62,124.60 384.00,122.60 C385.38,120.60 386.67,118.88 388.00,117.20 C389.33,115.52 390.67,113.83 392.00,112.50 C393.33,111.17 394.67,110.08 396.00,109.20 C397.33,108.32 398.70,107.65 400.00,107.20 C401.30,106.75 402.55,106.50 403.80,106.50 C405.05,106.50 406.30,106.70 407.50,107.20 C408.70,107.70 410.00,108.65 411.00,109.50 C412.00,110.35 412.83,111.45 413.50,112.30 C414.17,113.15 414.33,113.75 415.00,114.60 C415.67,115.45 416.67,116.50 417.50,117.40 C418.33,118.30 419.03,119.02 420.00,120.00 C420.97,120.98 422.18,122.17 423.30,123.30 C424.42,124.43 425.58,125.60 426.70,126.80 C427.82,128.00 428.88,129.27 430.00,130.50 C431.12,131.73 432.28,132.98 433.40,134.20 C434.52,135.42 435.60,136.68 436.70,137.80 C437.80,138.92 438.90,139.93 440.00,140.90 C441.10,141.87 442.18,142.77 443.30,143.60 C444.42,144.43 445.58,145.20 446.70,145.90 C447.82,146.60 448.88,147.23 450.00,147.80 C451.12,148.37 452.28,148.83 453.40,149.30 C454.52,149.77 455.58,150.20 456.70,150.60 C457.82,151.00 458.88,151.37 460.10,151.70 C461.32,152.03 462.62,152.32 464.00,152.60 C465.38,152.88 466.73,153.18 468.40,153.40 C470.07,153.62 472.07,153.76 474.00,153.90 C475.93,154.04 477.33,154.14 480.00,154.25 C482.67,154.36 485.83,154.47 490.00,154.55 C494.17,154.63 500.00,154.68 505.00,154.72 C510.00,154.76 514.83,154.79 520.00,154.82 C525.17,154.85 533.33,154.89 536.00,154.90 L536.00,154.90 Z" fill="#d62728" fill-opacity="0.250" stroke="none"/>
<path d="M340.00,154.90 C341.00,154.85 344.17,154.77 346.00,154.60 C347.83,154.43 349.25,154.23 351.00,153.90 C352.75,153.57 355.25,152.95 356.50,152.60 C357.75,152.25 357.55,152.20 358.50,151.80 C359.45,151.40 360.85,150.93 362.20,150.20 C363.55,149.47 365.13,148.60 366.60,147.40 C368.07,146.20 369.55,144.63 371.00,143.00 C372.45,141.37 373.85,139.90 375.30,137.60 C376.75,135.30 378.25,131.70 379.70,129.20 C381.15,126.70 382.62,124.60 384.00,122.60 C385.38,120.60 386.67,118.88 388.00,117.20 C389.33,115.52 390.67,113.83 392.00,112.50 C393.33,111.17 394.67,110.08 396.00,109.20 C397.33,108.32 398.70,107.65 400.00,107.20 C401.30,106.75 402.55,106.50 403.80,106.50 C405.05,106.50 406.30,106.70 407.50,107.20 C408.70,107.70 410.00,108.65 411.00,109.50 C412.00,110.35 412.83,111.45 413.50,112.30 C414.17,113.15 414.33,113.75 415.00,114.60 C415.67,115.45 416.67,116.50 417.50,117.40 C418.33,118.30 419.03,119.02 420.00,120.00 C420.97,120.98 422.18,122.17 423.30,123.30 C424.42,124.43 425.58,125.60 426.70,126.80 C427.82,128.00 428.88,129.27 430.00,130.50 C431.12,131.73 432.28,132.98 433.40,134.20 C434.52,135.42 435.60,136.68 436.70,137.80 C437.80,138.92 438.90,139.93 440.00,140.90 C441.10,141.87 442.18,142.77 443.30,143.60 C444.42,144.43 445.58,145.20 446.70,145.90 C447.82,146.60 448.88,147.23 450.00,147.80 C451.12,148.37 452.28,148.83 453.40,149.30 C454.52,149.77 455.58,150.20 456.70,150.60 C457.82,151.00 458.88,151.37 460.10,151.70 C461.32,152.03 462.62,152.32 464.00,152.60 C465.38,152.88 466.73,153.18 468.40,153.40 C470.07,153.62 472.07,153.76 474.00,153.90 C475.93,154.04 477.33,154.14 480.00,154.25 C482.67,154.36 485.83,154.47 490.00,154.55 C494.17,154.63 500.00,154.68 505.00,154.72 C510.00,154.76 514.83,154.79 520.00,154.82 C525.17,154.85 533.33,154.89 536.00,154.90" fill="none" stroke="#d62728" stroke-width="0.85" stroke-linejoin="round"/>
<path d="M339.80,154.90 L339.80,154.90 C341.80,154.85 348.80,154.75 351.80,154.60 C354.80,154.45 356.47,154.28 357.80,154.00 C359.13,153.72 358.73,153.37 359.80,152.90 C360.87,152.43 362.73,151.93 364.20,151.20 C365.67,150.47 367.15,149.68 368.60,148.50 C370.05,147.32 371.63,145.75 372.90,144.10 C374.17,142.45 375.10,140.62 376.20,138.60 C377.30,136.58 378.58,134.00 379.50,132.00 C380.42,130.00 381.07,128.60 381.70,126.60 C382.33,124.60 382.70,122.43 383.30,120.00 C383.90,117.57 384.58,114.83 385.30,112.00 C386.02,109.17 386.80,106.00 387.60,103.00 C388.40,100.00 389.20,97.00 390.10,94.00 C391.00,91.00 392.13,87.53 393.00,85.00 C393.87,82.47 394.53,81.10 395.30,78.85 C396.07,76.60 396.87,73.70 397.60,71.50 C398.33,69.29 399.07,67.14 399.70,65.61 C400.33,64.09 400.97,63.06 401.40,62.36 C401.83,61.67 402.00,61.68 402.30,61.45 C402.60,61.22 402.83,61.03 403.20,61.00 C403.57,60.97 404.03,61.05 404.50,61.30 C404.97,61.54 405.48,61.83 406.00,62.46 C406.52,63.08 407.10,63.80 407.60,65.06 C408.10,66.31 408.55,67.51 409.00,70.00 C409.45,72.49 409.87,76.67 410.30,80.00 C410.73,83.33 411.20,86.67 411.60,90.00 C412.00,93.33 412.37,96.67 412.70,100.00 C413.03,103.33 413.28,107.00 413.60,110.00 C413.92,113.00 414.23,115.17 414.60,118.00 C414.97,120.83 415.40,124.50 415.80,127.00 C416.20,129.50 416.57,131.00 417.00,133.00 C417.43,135.00 417.90,137.25 418.40,139.00 C418.90,140.75 419.43,142.20 420.00,143.50 C420.57,144.80 421.17,145.85 421.80,146.80 C422.43,147.75 423.05,148.47 423.80,149.20 C424.55,149.93 425.38,150.62 426.30,151.20 C427.22,151.78 428.22,152.28 429.30,152.70 C430.38,153.12 431.38,153.42 432.80,153.70 C434.22,153.98 435.30,154.20 437.80,154.40 C440.30,154.60 446.13,154.82 447.80,154.90 L447.80,154.90 Z" fill="#9467bd" fill-opacity="0.250" stroke="none"/>
<path d="M339.80,154.90 C341.80,154.85 348.80,154.75 351.80,154.60 C354.80,154.45 356.47,154.28 357.80,154.00 C359.13,153.72 358.73,153.37 359.80,152.90 C360.87,152.43 362.73,151.93 364.20,151.20 C365.67,150.47 367.15,149.68 368.60,148.50 C370.05,147.32 371.63,145.75 372.90,144.10 C374.17,142.45 375.10,140.62 376.20,138.60 C377.30,136.58 378.58,134.00 379.50,132.00 C380.42,130.00 381.07,128.60 381.70,126.60 C382.33,124.60 382.70,122.43 383.30,120.00 C383.90,117.57 384.58,114.83 385.30,112.00 C386.02,109.17 386.80,106.00 387.60,103.00 C388.40,100.00 389.20,97.00 390.10,94.00 C391.00,91.00 392.13,87.53 393.00,85.00 C393.87,82.47 394.53,81.10 395.30,78.85 C396.07,76.60 396.87,73.70 397.60,71.50 C398.33,69.29 399.07,67.14 399.70,65.61 C400.33,64.09 400.97,63.06 401.40,62.36 C401.83,61.67 402.00,61.68 402.30,61.45 C402.60,61.22 402.83,61.03 403.20,61.00 C403.57,60.97 404.03,61.05 404.50,61.30 C404.97,61.54 405.48,61.83 406.00,62.46 C406.52,63.08 407.10,63.80 407.60,65.06 C408.10,66.31 408.55,67.51 409.00,70.00 C409.45,72.49 409.87,76.67 410.30,80.00 C410.73,83.33 411.20,86.67 411.60,90.00 C412.00,93.33 412.37,96.67 412.70,100.00 C413.03,103.33 413.28,107.00 413.60,110.00 C413.92,113.00 414.23,115.17 414.60,118.00 C414.97,120.83 415.40,124.50 415.80,127.00 C416.20,129.50 416.57,131.00 417.00,133.00 C417.43,135.00 417.90,137.25 418.40,139.00 C418.90,140.75 419.43,142.20 420.00,143.50 C420.57,144.80 421.17,145.85 421.80,146.80 C422.43,147.75 423.05,148.47 423.80,149.20 C424.55,149.93 425.38,150.62 426.30,151.20 C427.22,151.78 428.22,152.28 429.30,152.70 C430.38,153.12 431.38,153.42 432.80,153.70 C434.22,153.98 435.30,154.20 437.80,154.40 C440.30,154.60 446.13,154.82 447.80,154.90" fill="none" stroke="#9467bd" stroke-width="0.85" stroke-linejoin="round"/>
<path d="M339.60,154.90 L339.60,154.90 C341.60,154.85 348.60,154.75 351.60,154.60 C354.60,154.45 356.27,154.28 357.60,154.00 C358.93,153.72 358.53,153.37 359.60,152.90 C360.67,152.43 362.53,151.93 364.00,151.20 C365.47,150.47 366.95,149.68 368.40,148.50 C369.85,147.32 371.43,145.75 372.70,144.10 C373.97,142.45 374.90,140.62 376.00,138.60 C377.10,136.58 378.38,134.00 379.30,132.00 C380.22,130.00 380.87,128.60 381.50,126.60 C382.13,124.60 382.50,122.43 383.10,120.00 C383.70,117.57 384.38,114.83 385.10,112.00 C385.82,109.17 386.60,106.00 387.40,103.00 C388.20,100.00 389.00,97.00 389.90,94.00 C390.80,91.00 391.93,87.56 392.80,85.00 C393.67,82.44 394.33,80.66 395.10,78.66 C395.87,76.65 396.67,74.55 397.40,72.96 C398.13,71.36 398.87,70.05 399.50,69.10 C400.13,68.14 400.77,67.62 401.20,67.23 C401.63,66.83 401.80,66.86 402.10,66.74 C402.40,66.62 402.63,66.51 403.00,66.50 C403.37,66.49 403.83,66.52 404.30,66.65 C404.77,66.78 405.28,66.93 405.80,67.28 C406.32,67.63 406.90,67.99 407.40,68.76 C407.90,69.54 408.35,70.10 408.80,71.92 C409.25,73.73 409.67,76.66 410.10,79.68 C410.53,82.69 411.00,86.61 411.40,90.00 C411.80,93.39 412.17,96.67 412.50,100.00 C412.83,103.33 413.08,107.00 413.40,110.00 C413.72,113.00 414.03,115.17 414.40,118.00 C414.77,120.83 415.20,124.50 415.60,127.00 C416.00,129.50 416.37,131.00 416.80,133.00 C417.23,135.00 417.70,137.25 418.20,139.00 C418.70,140.75 419.23,142.20 419.80,143.50 C420.37,144.80 420.97,145.85 421.60,146.80 C422.23,147.75 422.85,148.47 423.60,149.20 C424.35,149.93 425.18,150.62 426.10,151.20 C427.02,151.78 428.02,152.28 429.10,152.70 C430.18,153.12 431.18,153.42 432.60,153.70 C434.02,153.98 435.10,154.20 437.60,154.40 C440.10,154.60 445.93,154.82 447.60,154.90 L447.60,154.90 Z" fill="#8c564b" fill-opacity="0.250" stroke="none"/>
<path d="M339.60,154.90 C341.60,154.85 348.60,154.75 351.60,154.60 C354.60,154.45 356.27,154.28 357.60,154.00 C358.93,153.72 358.53,153.37 359.60,152.90 C360.67,152.43 362.53,151.93 364.00,151.20 C365.47,150.47 366.95,149.68 368.40,148.50 C369.85,147.32 371.43,145.75 372.70,144.10 C373.97,142.45 374.90,140.62 376.00,138.60 C377.10,136.58 378.38,134.00 379.30,132.00 C380.22,130.00 380.87,128.60 381.50,126.60 C382.13,124.60 382.50,122.43 383.10,120.00 C383.70,117.57 384.38,114.83 385.10,112.00 C385.82,109.17 386.60,106.00 387.40,103.00 C388.20,100.00 389.00,97.00 389.90,94.00 C390.80,91.00 391.93,87.56 392.80,85.00 C393.67,82.44 394.33,80.66 395.10,78.66 C395.87,76.65 396.67,74.55 397.40,72.96 C398.13,71.36 398.87,70.05 399.50,69.10 C400.13,68.14 400.77,67.62 401.20,67.23 C401.63,66.83 401.80,66.86 402.10,66.74 C402.40,66.62 402.63,66.51 403.00,66.50 C403.37,66.49 403.83,66.52 404.30,66.65 C404.77,66.78 405.28,66.93 405.80,67.28 C406.32,67.63 406.90,67.99 407.40,68.76 C407.90,69.54 408.35,70.10 408.80,71.92 C409.25,73.73 409.67,76.66 410.10,79.68 C410.53,82.69 411.00,86.61 411.40,90.00 C411.80,93.39 412.17,96.67 412.50,100.00 C412.83,103.33 413.08,107.00 413.40,110.00 C413.72,113.00 414.03,115.17 414.40,118.00 C414.77,120.83 415.20,124.50 415.60,127.00 C416.00,129.50 416.37,131.00 416.80,133.00 C417.23,135.00 417.70,137.25 418.20,139.00 C418.70,140.75 419.23,142.20 419.80,143.50 C420.37,144.80 420.97,145.85 421.60,146.80 C422.23,147.75 422.85,148.47 423.60,149.20 C424.35,149.93 425.18,150.62 426.10,151.20 C427.02,151.78 428.02,152.28 429.10,152.70 C430.18,153.12 431.18,153.42 432.60,153.70 C434.02,153.98 435.10,154.20 437.60,154.40 C440.10,154.60 445.93,154.82 447.60,154.90" fill="none" stroke="#8c564b" stroke-width="0.85" stroke-linejoin="round"/>
<path d="M340.00,154.90 L340.00,154.90 C342.00,154.85 349.00,154.75 352.00,154.60 C355.00,154.45 356.67,154.28 358.00,154.00 C359.33,153.72 358.93,153.37 360.00,152.90 C361.07,152.43 362.93,151.93 364.40,151.20 C365.87,150.47 367.35,149.68 368.80,148.50 C370.25,147.32 371.83,145.75 373.10,144.10 C374.37,142.45 375.30,140.62 376.40,138.60 C377.50,136.58 378.78,134.00 379.70,132.00 C380.62,130.00 381.27,128.60 381.90,126.60 C382.53,124.60 382.90,122.43 383.50,120.00 C384.10,117.57 384.78,114.83 385.50,112.00 C386.22,109.17 387.00,106.00 387.80,103.00 C388.60,100.00 389.40,97.00 390.30,94.00 C391.20,91.00 392.33,87.50 393.20,85.00 C394.07,82.50 394.73,81.27 395.50,79.00 C396.27,76.73 397.07,73.69 397.80,71.36 C398.53,69.02 399.27,66.65 399.90,64.98 C400.53,63.31 401.17,62.13 401.60,61.35 C402.03,60.57 402.20,60.57 402.50,60.31 C402.80,60.06 403.03,59.83 403.40,59.80 C403.77,59.77 404.23,59.86 404.70,60.14 C405.17,60.41 405.68,60.75 406.20,61.46 C406.72,62.16 407.30,62.98 407.80,64.36 C408.30,65.74 408.75,67.15 409.20,69.75 C409.65,72.36 410.07,76.63 410.50,80.00 C410.93,83.37 411.40,86.67 411.80,90.00 C412.20,93.33 412.57,96.67 412.90,100.00 C413.23,103.33 413.48,107.00 413.80,110.00 C414.12,113.00 414.43,115.17 414.80,118.00 C415.17,120.83 415.60,124.50 416.00,127.00 C416.40,129.50 416.77,131.00 417.20,133.00 C417.63,135.00 418.10,137.25 418.60,139.00 C419.10,140.75 419.63,142.20 420.20,143.50 C420.77,144.80 421.37,145.85 422.00,146.80 C422.63,147.75 423.25,148.47 424.00,149.20 C424.75,149.93 425.58,150.62 426.50,151.20 C427.42,151.78 428.42,152.28 429.50,152.70 C430.58,153.12 431.58,153.42 433.00,153.70 C434.42,153.98 435.50,154.20 438.00,154.40 C440.50,154.60 446.33,154.82 448.00,154.90 L448.00,154.90 Z" fill="#e377c2" fill-opacity="0.250" stroke="none"/>
<path d="M340.00,154.90 C342.00,154.85 349.00,154.75 352.00,154.60 C355.00,154.45 356.67,154.28 358.00,154.00 C359.33,153.72 358.93,153.37 360.00,152.90 C361.07,152.43 362.93,151.93 364.40,151.20 C365.87,150.47 367.35,149.68 368.80,148.50 C370.25,147.32 371.83,145.75 373.10,144.10 C374.37,142.45 375.30,140.62 376.40,138.60 C377.50,136.58 378.78,134.00 379.70,132.00 C380.62,130.00 381.27,128.60 381.90,126.60 C382.53,124.60 382.90,122.43 383.50,120.00 C384.10,117.57 384.78,114.83 385.50,112.00 C386.22,109.17 387.00,106.00 387.80,103.00 C388.60,100.00 389.40,97.00 390.30,94.00 C391.20,91.00 392.33,87.50 393.20,85.00 C394.07,82.50 394.73,81.27 395.50,79.00 C396.27,76.73 397.07,73.69 397.80,71.36 C398.53,69.02 399.27,66.65 399.90,64.98 C400.53,63.31 401.17,62.13 401.60,61.35 C402.03,60.57 402.20,60.57 402.50,60.31 C402.80,60.06 403.03,59.83 403.40,59.80 C403.77,59.77 404.23,59.86 404.70,60.14 C405.17,60.41 405.68,60.75 406.20,61.46 C406.72,62.16 407.30,62.98 407.80,64.36 C408.30,65.74 408.75,67.15 409.20,69.75 C409.65,72.36 410.07,76.63 410.50,80.00 C410.93,83.37 411.40,86.67 411.80,90.00 C412.20,93.33 412.57,96.67 412.90,100.00 C413.23,103.33 413.48,107.00 413.80,110.00 C414.12,113.00 414.43,115.17 414.80,118.00 C415.17,120.83 415.60,124.50 416.00,127.00 C416.40,129.50 416.77,131.00 417.20,133.00 C417.63,135.00 418.10,137.25 418.60,139.00 C419.10,140.75 419.63,142.20 420.20,143.50 C420.77,144.80 421.37,145.85 422.00,146.80 C422.63,147.75 423.25,148.47 424.00,149.20 C424.75,149.93 425.58,150.62 426.50,151.20 C427.42,151.78 428.42,152.28 429.50,152.70 C430.58,153.12 431.58,153.42 433.00,153.70 C434.42,153.98 435.50,154.20 438.00,154.40 C440.50,154.60 446.33,154.82 448.00,154.90" fill="none" stroke="#e377c2" stroke-width="0.85" stroke-linejoin="round"/>
<path d="M339.40,154.90 L339.40,154.90 C341.40,154.85 348.40,154.75 351.40,154.60 C354.40,154.45 356.07,154.28 357.40,154.00 C358.73,153.72 358.33,153.37 359.40,152.90 C360.47,152.43 362.33,151.93 363.80,151.20 C365.27,150.47 366.75,149.68 368.20,148.50 C369.65,147.32 371.23,145.75 372.50,144.10 C373.77,142.45 374.70,140.62 375.80,138.60 C376.90,136.58 378.18,134.00 379.10,132.00 C380.02,130.00 380.67,128.60 381.30,126.60 C381.93,124.60 382.30,122.43 382.90,120.00 C383.50,117.57 384.18,114.83 384.90,112.00 C385.62,109.17 386.40,106.00 387.20,103.00 C388.00,100.00 388.80,97.00 389.70,94.00 C390.60,91.00 391.73,87.54 392.60,85.00 C393.47,82.46 394.13,80.68 394.90,78.73 C395.67,76.79 396.47,74.84 397.20,73.35 C397.93,71.87 398.67,70.69 399.30,69.82 C399.93,68.95 400.57,68.49 401.00,68.14 C401.43,67.79 401.60,67.82 401.90,67.71 C402.20,67.60 402.43,67.51 402.80,67.50 C403.17,67.49 403.63,67.52 404.10,67.64 C404.57,67.75 405.08,67.88 405.60,68.19 C406.12,68.50 406.70,68.82 407.20,69.52 C407.70,70.22 408.15,70.69 408.60,72.39 C409.05,74.09 409.47,76.78 409.90,79.72 C410.33,82.65 410.80,86.62 411.20,90.00 C411.60,93.38 411.97,96.67 412.30,100.00 C412.63,103.33 412.88,107.00 413.20,110.00 C413.52,113.00 413.83,115.17 414.20,118.00 C414.57,120.83 415.00,124.50 415.40,127.00 C415.80,129.50 416.17,131.00 416.60,133.00 C417.03,135.00 417.50,137.25 418.00,139.00 C418.50,140.75 419.03,142.20 419.60,143.50 C420.17,144.80 420.77,145.85 421.40,146.80 C422.03,147.75 422.65,148.47 423.40,149.20 C424.15,149.93 424.98,150.62 425.90,151.20 C426.82,151.78 427.82,152.28 428.90,152.70 C429.98,153.12 430.98,153.42 432.40,153.70 C433.82,153.98 434.90,154.20 437.40,154.40 C439.90,154.60 445.73,154.82 447.40,154.90 L447.40,154.90 Z" fill="#7f7f7f" fill-opacity="0.250" stroke="none"/>
<path d="M339.40,154.90 C341.40,154.85 348.40,154.75 351.40,154.60 C354.40,154.45 356.07,154.28 357.40,154.00 C358.73,153.72 358.33,153.37 359.40,152.90 C360.47,152.43 362.33,151.93 363.80,151.20 C365.27,150.47 366.75,149.68 368.20,148.50 C369.65,147.32 371.23,145.75 372.50,144.10 C373.77,142.45 374.70,140.62 375.80,138.60 C376.90,136.58 378.18,134.00 379.10,132.00 C380.02,130.00 380.67,128.60 381.30,126.60 C381.93,124.60 382.30,122.43 382.90,120.00 C383.50,117.57 384.18,114.83 384.90,112.00 C385.62,109.17 386.40,106.00 387.20,103.00 C388.00,100.00 388.80,97.00 389.70,94.00 C390.60,91.00 391.73,87.54 392.60,85.00 C393.47,82.46 394.13,80.68 394.90,78.73 C395.67,76.79 396.47,74.84 397.20,73.35 C397.93,71.87 398.67,70.69 399.30,69.82 C399.93,68.95 400.57,68.49 401.00,68.14 C401.43,67.79 401.60,67.82 401.90,67.71 C402.20,67.60 402.43,67.51 402.80,67.50 C403.17,67.49 403.63,67.52 404.10,67.64 C404.57,67.75 405.08,67.88 405.60,68.19 C406.12,68.50 406.70,68.82 407.20,69.52 C407.70,70.22 408.15,70.69 408.60,72.39 C409.05,74.09 409.47,76.78 409.90,79.72 C410.33,82.65 410.80,86.62 411.20,90.00 C411.60,93.38 411.97,96.67 412.30,100.00 C412.63,103.33 412.88,107.00 413.20,110.00 C413.52,113.00 413.83,115.17 414.20,118.00 C414.57,120.83 415.00,124.50 415.40,127.00 C415.80,129.50 416.17,131.00 416.60,133.00 C417.03,135.00 417.50,137.25 418.00,139.00 C418.50,140.75 419.03,142.20 419.60,143.50 C420.17,144.80 420.77,145.85 421.40,146.80 C422.03,147.75 422.65,148.47 423.40,149.20 C424.15,149.93 424.98,150.62 425.90,151.20 C426.82,151.78 427.82,152.28 428.90,152.70 C429.98,153.12 430.98,153.42 432.40,153.70 C433.82,153.98 434.90,154.20 437.40,154.40 C439.90,154.60 445.73,154.82 447.40,154.90" fill="none" stroke="#7f7f7f" stroke-width="0.85" stroke-linejoin="round"/>
<path d="M339.80,154.90 L339.80,154.90 C341.80,154.85 348.80,154.75 351.80,154.60 C354.80,154.45 356.47,154.28 357.80,154.00 C359.13,153.72 358.73,153.37 359.80,152.90 C360.87,152.43 362.73,151.93 364.20,151.20 C365.67,150.47 367.15,149.68 368.60,148.50 C370.05,147.32 371.63,145.75 372.90,144.10 C374.17,142.45 375.10,140.62 376.20,138.60 C377.30,136.58 378.58,134.00 379.50,132.00 C380.42,130.00 381.07,128.60 381.70,126.60 C382.33,124.60 382.70,122.43 383.30,120.00 C383.90,117.57 384.58,114.83 385.30,112.00 C386.02,109.17 386.80,106.00 387.60,103.00 C388.40,100.00 389.20,97.00 390.10,94.00 C391.00,91.00 392.13,87.56 393.00,85.00 C393.87,82.44 394.53,80.68 395.30,78.61 C396.07,76.54 396.87,74.30 397.60,72.60 C398.33,70.90 399.07,69.45 399.70,68.40 C400.33,67.35 400.97,66.76 401.40,66.32 C401.83,65.88 402.00,65.90 402.30,65.77 C402.60,65.63 402.83,65.52 403.20,65.50 C403.57,65.48 404.03,65.53 404.50,65.67 C404.97,65.82 405.48,65.98 406.00,66.38 C406.52,66.77 407.10,67.18 407.60,68.03 C408.10,68.88 408.55,69.54 409.00,71.48 C409.45,73.42 409.87,76.58 410.30,79.67 C410.73,82.76 411.20,86.61 411.60,90.00 C412.00,93.39 412.37,96.67 412.70,100.00 C413.03,103.33 413.28,107.00 413.60,110.00 C413.92,113.00 414.23,115.17 414.60,118.00 C414.97,120.83 415.40,124.50 415.80,127.00 C416.20,129.50 416.57,131.00 417.00,133.00 C417.43,135.00 417.90,137.25 418.40,139.00 C418.90,140.75 419.43,142.20 420.00,143.50 C420.57,144.80 421.17,145.85 421.80,146.80 C422.43,147.75 423.05,148.47 423.80,149.20 C424.55,149.93 425.38,150.62 426.30,151.20 C427.22,151.78 428.22,152.28 429.30,152.70 C430.38,153.12 431.38,153.42 432.80,153.70 C434.22,153.98 435.30,154.20 437.80,154.40 C440.30,154.60 446.13,154.82 447.80,154.90 L447.80,154.90 Z" fill="#bcbd22" fill-opacity="0.250" stroke="none"/>
<path d="M339.80,154.90 C341.80,154.85 348.80,154.75 351.80,154.60 C354.80,154.45 356.47,154.28 357.80,154.00 C359.13,153.72 358.73,153.37 359.80,152.90 C360.87,152.43 362.73,151.93 364.20,151.20 C365.67,150.47 367.15,149.68 368.60,148.50 C370.05,147.32 371.63,145.75 372.90,144.10 C374.17,142.45 375.10,140.62 376.20,138.60 C377.30,136.58 378.58,134.00 379.50,132.00 C380.42,130.00 381.07,128.60 381.70,126.60 C382.33,124.60 382.70,122.43 383.30,120.00 C383.90,117.57 384.58,114.83 385.30,112.00 C386.02,109.17 386.80,106.00 387.60,103.00 C388.40,100.00 389.20,97.00 390.10,94.00 C391.00,91.00 392.13,87.56 393.00,85.00 C393.87,82.44 394.53,80.68 395.30,78.61 C396.07,76.54 396.87,74.30 397.60,72.60 C398.33,70.90 399.07,69.45 399.70,68.40 C400.33,67.35 400.97,66.76 401.40,66.32 C401.83,65.88 402.00,65.90 402.30,65.77 C402.60,65.63 402.83,65.52 403.20,65.50 C403.57,65.48 404.03,65.53 404.50,65.67 C404.97,65.82 405.48,65.98 406.00,66.38 C406.52,66.77 407.10,67.18 407.60,68.03 C408.10,68.88 408.55,69.54 409.00,71.48 C409.45,73.42 409.87,76.58 410.30,79.67 C410.73,82.76 411.20,86.61 411.60,90.00 C412.00,93.39 412.37,96.67 412.70,100.00 C413.03,103.33 413.28,107.00 413.60,110.00 C413.92,113.00 414.23,115.17 414.60,118.00 C414.97,120.83 415.40,124.50 415.80,127.00 C416.20,129.50 416.57,131.00 417.00,133.00 C417.43,135.00 417.90,137.25 418.40,139.00 C418.90,140.75 419.43,142.20 420.00,143.50 C420.57,144.80 421.17,145.85 421.80,146.80 C422.43,147.75 423.05,148.47 423.80,149.20 C424.55,149.93 425.38,150.62 426.30,151.20 C427.22,151.78 428.22,152.28 429.30,152.70 C430.38,153.12 431.38,153.42 432.80,153.70 C434.22,153.98 435.30,154.20 437.80,154.40 C440.30,154.60 446.13,154.82 447.80,154.90" fill="none" stroke="#bcbd22" stroke-width="0.85" stroke-linejoin="round"/>
<path d="M339.70,154.90 L339.70,154.90 C341.70,154.85 348.70,154.75 351.70,154.60 C354.70,154.45 356.37,154.28 357.70,154.00 C359.03,153.72 358.63,153.37 359.70,152.90 C360.77,152.43 362.63,151.93 364.10,151.20 C365.57,150.47 367.05,149.68 368.50,148.50 C369.95,147.32 371.53,145.75 372.80,144.10 C374.07,142.45 375.00,140.62 376.10,138.60 C377.20,136.58 378.48,134.00 379.40,132.00 C380.32,130.00 380.97,128.60 381.60,126.60 C382.23,124.60 382.60,122.43 383.20,120.00 C383.80,117.57 384.48,114.83 385.20,112.00 C385.92,109.17 386.70,106.00 387.50,103.00 C388.30,100.00 389.10,97.00 390.00,94.00 C390.90,91.00 392.03,87.57 392.90,85.00 C393.77,82.43 394.43,80.72 395.20,78.60 C395.97,76.48 396.77,74.09 397.50,72.28 C398.23,70.47 398.97,68.87 399.60,67.73 C400.23,66.59 400.87,65.91 401.30,65.42 C401.73,64.93 401.90,64.96 402.20,64.80 C402.50,64.65 402.73,64.52 403.10,64.50 C403.47,64.48 403.93,64.53 404.40,64.70 C404.87,64.86 405.38,65.05 405.90,65.49 C406.42,65.92 407.00,66.39 407.50,67.32 C408.00,68.26 408.45,69.02 408.90,71.08 C409.35,73.14 409.77,76.54 410.20,79.70 C410.63,82.85 411.10,86.62 411.50,90.00 C411.90,93.38 412.27,96.67 412.60,100.00 C412.93,103.33 413.18,107.00 413.50,110.00 C413.82,113.00 414.13,115.17 414.50,118.00 C414.87,120.83 415.30,124.50 415.70,127.00 C416.10,129.50 416.47,131.00 416.90,133.00 C417.33,135.00 417.80,137.25 418.30,139.00 C418.80,140.75 419.33,142.20 419.90,143.50 C420.47,144.80 421.07,145.85 421.70,146.80 C422.33,147.75 422.95,148.47 423.70,149.20 C424.45,149.93 425.28,150.62 426.20,151.20 C427.12,151.78 428.12,152.28 429.20,152.70 C430.28,153.12 431.28,153.42 432.70,153.70 C434.12,153.98 435.20,154.20 437.70,154.40 C440.20,154.60 446.03,154.82 447.70,154.90 L447.70,154.90 Z" fill="#17becf" fill-opacity="0.250" stroke="none"/>
<path d="M339.70,154.90 C341.70,154.85 348.70,154.75 351.70,154.60 C354.70,154.45 356.37,154.28 357.70,154.00 C359.03,153.72 358.63,153.37 359.70,152.90 C360.77,152.43 362.63,151.93 364.10,151.20 C365.57,150.47 367.05,149.68 368.50,148.50 C369.95,147.32 371.53,145.75 372.80,144.10 C374.07,142.45 375.00,140.62 376.10,138.60 C377.20,136.58 378.48,134.00 379.40,132.00 C380.32,130.00 380.97,128.60 381.60,126.60 C382.23,124.60 382.60,122.43 383.20,120.00 C383.80,117.57 384.48,114.83 385.20,112.00 C385.92,109.17 386.70,106.00 387.50,103.00 C388.30,100.00 389.10,97.00 390.00,94.00 C390.90,91.00 392.03,87.57 392.90,85.00 C393.77,82.43 394.43,80.72 395.20,78.60 C395.97,76.48 396.77,74.09 397.50,72.28 C398.23,70.47 398.97,68.87 399.60,67.73 C400.23,66.59 400.87,65.91 401.30,65.42 C401.73,64.93 401.90,64.96 402.20,64.80 C402.50,64.65 402.73,64.52 403.10,64.50 C403.47,64.48 403.93,64.53 404.40,64.70 C404.87,64.86 405.38,65.05 405.90,65.49 C406.42,65.92 407.00,66.39 407.50,67.32 C408.00,68.26 408.45,69.02 408.90,71.08 C409.35,73.14 409.77,76.54 410.20,79.70 C410.63,82.85 411.10,86.62 411.50,90.00 C411.90,93.38 412.27,96.67 412.60,100.00 C412.93,103.33 413.18,107.00 413.50,110.00 C413.82,113.00 414.13,115.17 414.50,118.00 C414.87,120.83 415.30,124.50 415.70,127.00 C416.10,129.50 416.47,131.00 416.90,133.00 C417.33,135.00 417.80,137.25 418.30,139.00 C418.80,140.75 419.33,142.20 419.90,143.50 C420.47,144.80 421.07,145.85 421.70,146.80 C422.33,147.75 422.95,148.47 423.70,149.20 C424.45,149.93 425.28,150.62 426.20,151.20 C427.12,151.78 428.12,152.28 429.20,152.70 C430.28,153.12 431.28,153.42 432.70,153.70 C434.12,153.98 435.20,154.20 437.70,154.40 C440.20,154.60 446.03,154.82 447.70,154.90" fill="none" stroke="#17becf" stroke-width="0.85" stroke-linejoin="round"/>
</g>
<line x1="297.70" y1="10.90" x2="297.70" y2="154.90" stroke="#8a8a8a" stroke-width="0.95"/>
<line x1="297.70" y1="154.90" x2="546.60" y2="154.90" stroke="#8a8a8a" stroke-width="0.95"/>
<line x1="296.10" y1="154.90" x2="297.70" y2="154.90" stroke="#8a8a8a" stroke-width="0.95"/>
<line x1="296.10" y1="133.70" x2="297.70" y2="133.70" stroke="#8a8a8a" stroke-width="0.95"/>
<line x1="296.10" y1="112.50" x2="297.70" y2="112.50" stroke="#8a8a8a" stroke-width="0.95"/>
<line x1="296.10" y1="91.30" x2="297.70" y2="91.30" stroke="#8a8a8a" stroke-width="0.95"/>
<line x1="296.10" y1="70.10" x2="297.70" y2="70.10" stroke="#8a8a8a" stroke-width="0.95"/>
<line x1="296.10" y1="48.90" x2="297.70" y2="48.90" stroke="#8a8a8a" stroke-width="0.95"/>
<line x1="296.10" y1="27.70" x2="297.70" y2="27.70" stroke="#8a8a8a" stroke-width="0.95"/>
<line x1="309.50" y1="154.90" x2="309.50" y2="156.50" stroke="#8a8a8a" stroke-width="0.95"/>
<line x1="339.30" y1="154.90" x2="339.30" y2="156.50" stroke="#8a8a8a" stroke-width="0.95"/>
<line x1="369.10" y1="154.90" x2="369.10" y2="156.50" stroke="#8a8a8a" stroke-width="0.95"/>
<line x1="398.90" y1="154.90" x2="398.90" y2="156.50" stroke="#8a8a8a" stroke-width="0.95"/>
<line x1="428.70" y1="154.90" x2="428.70" y2="156.50" stroke="#8a8a8a" stroke-width="0.95"/>
<line x1="458.50" y1="154.90" x2="458.50" y2="156.50" stroke="#8a8a8a" stroke-width="0.95"/>
<line x1="488.30" y1="154.90" x2="488.30" y2="156.50" stroke="#8a8a8a" stroke-width="0.95"/>
<line x1="518.10" y1="154.90" x2="518.10" y2="156.50" stroke="#8a8a8a" stroke-width="0.95"/>
<rect x="469.60" y="14.10" width="74.00" height="89.30" rx="1.2" ry="1.2" fill="#fff" fill-opacity="0.8" stroke="#d4d4d4" stroke-opacity="0.8" stroke-width="0.5"/>
<rect x="472.20" y="16.70" width="12.2" height="4.2" fill="#1f77b4" fill-opacity="0.25" stroke="#1f77b4" stroke-width="0.75"/>
<rect x="472.20" y="25.40" width="12.2" height="4.2" fill="#ff7f0e" fill-opacity="0.25" stroke="#ff7f0e" stroke-width="0.75"/>
<rect x="472.20" y="34.10" width="12.2" height="4.2" fill="#2ca02c" fill-opacity="0.25" stroke="#2ca02c" stroke-width="0.75"/>
<rect x="472.20" y="42.80" width="12.2" height="4.2" fill="#d62728" fill-opacity="0.25" stroke="#d62728" stroke-width="0.75"/>
<rect x="472.20" y="51.50" width="12.2" height="4.2" fill="#9467bd" fill-opacity="0.25" stroke="#9467bd" stroke-width="0.75"/>
<rect x="472.20" y="60.20" width="12.2" height="4.2" fill="#8c564b" fill-opacity="0.25" stroke="#8c564b" stroke-width="0.75"/>
<rect x="472.20" y="68.90" width="12.2" height="4.2" fill="#e377c2" fill-opacity="0.25" stroke="#e377c2" stroke-width="0.75"/>
<rect x="472.20" y="77.60" width="12.2" height="4.2" fill="#7f7f7f" fill-opacity="0.25" stroke="#7f7f7f" stroke-width="0.75"/>
<rect x="472.20" y="86.30" width="12.2" height="4.2" fill="#bcbd22" fill-opacity="0.25" stroke="#bcbd22" stroke-width="0.75"/>
<rect x="472.20" y="95.00" width="12.2" height="4.2" fill="#17becf" fill-opacity="0.25" stroke="#17becf" stroke-width="0.75"/>
<clipPath id="c2"><rect x="25.40" y="154.90" width="249.60" height="164.00"/></clipPath>
<g clip-path="url(#c2)">
<path d="M62.00,318.40 L62.00,318.40 C62.67,318.35 65.03,318.18 66.00,318.10 C66.97,318.02 67.22,318.12 67.80,317.90 C68.38,317.68 68.92,317.38 69.50,316.80 C70.08,316.22 70.82,315.37 71.30,314.40 C71.78,313.43 72.07,312.30 72.40,311.00 C72.73,309.70 73.03,308.27 73.30,306.60 C73.57,304.93 73.78,302.95 74.00,301.00 C74.22,299.05 74.38,297.07 74.60,294.90 C74.82,292.73 75.07,290.27 75.30,288.00 C75.53,285.73 75.78,283.55 76.00,281.30 C76.22,279.05 76.40,276.77 76.60,274.50 C76.80,272.23 77.00,269.78 77.20,267.70 C77.40,265.62 77.60,263.95 77.80,262.00 C78.00,260.05 78.18,258.17 78.40,256.00 C78.62,253.83 78.88,251.27 79.10,249.00 C79.32,246.73 79.50,244.65 79.70,242.40 C79.90,240.15 80.10,237.78 80.30,235.50 C80.50,233.22 80.70,231.03 80.90,228.70 C81.10,226.37 81.28,223.87 81.50,221.50 C81.72,219.13 81.92,217.08 82.20,214.50 C82.48,211.92 82.83,208.67 83.20,206.00 C83.57,203.33 84.00,200.67 84.40,198.50 C84.80,196.33 85.20,194.48 85.60,193.00 C86.00,191.52 86.42,190.77 86.80,189.60 C87.18,188.43 87.53,187.07 87.90,186.00 C88.27,184.93 88.63,183.85 89.00,183.20 C89.37,182.55 89.72,182.13 90.10,182.10 C90.48,182.07 90.92,182.35 91.30,183.00 C91.68,183.65 92.08,184.83 92.40,186.00 C92.72,187.17 92.90,188.50 93.20,190.00 C93.50,191.50 93.85,193.33 94.20,195.00 C94.55,196.67 94.92,198.33 95.30,200.00 C95.68,201.67 96.07,203.33 96.50,205.00 C96.93,206.67 97.47,208.33 97.90,210.00 C98.33,211.67 98.72,213.33 99.10,215.00 C99.48,216.67 99.82,218.33 100.20,220.00 C100.58,221.67 101.02,223.33 101.40,225.00 C101.78,226.67 102.12,228.33 102.50,230.00 C102.88,231.67 103.32,233.33 103.70,235.00 C104.08,236.67 104.42,238.33 104.80,240.00 C105.18,241.67 105.60,243.33 106.00,245.00 C106.40,246.67 106.78,248.33 107.20,250.00 C107.62,251.67 108.08,253.33 108.50,255.00 C108.92,256.67 109.30,258.33 109.70,260.00 C110.10,261.67 110.48,263.33 110.90,265.00 C111.32,266.67 111.78,268.33 112.20,270.00 C112.62,271.67 112.90,273.33 113.40,275.00 C113.90,276.67 114.68,278.33 115.20,280.00 C115.72,281.67 115.98,283.33 116.50,285.00 C117.02,286.67 117.73,288.33 118.30,290.00 C118.87,291.67 119.32,293.33 119.90,295.00 C120.48,296.67 121.08,298.42 121.80,300.00 C122.52,301.58 123.33,303.08 124.20,304.50 C125.07,305.92 126.03,307.37 127.00,308.50 C127.97,309.63 128.83,310.38 130.00,311.30 C131.17,312.22 132.67,313.18 134.00,314.00 C135.33,314.82 136.50,315.60 138.00,316.20 C139.50,316.80 141.00,317.25 143.00,317.60 C145.00,317.95 147.17,318.17 150.00,318.30 C152.83,318.43 158.33,318.38 160.00,318.40 L160.00,318.40 Z" fill="#1f77b4" fill-opacity="0.250" stroke="none"/>
<path d="M62.00,318.40 C62.67,318.35 65.03,318.18 66.00,318.10 C66.97,318.02 67.22,318.12 67.80,317.90 C68.38,317.68 68.92,317.38 69.50,316.80 C70.08,316.22 70.82,315.37 71.30,314.40 C71.78,313.43 72.07,312.30 72.40,311.00 C72.73,309.70 73.03,308.27 73.30,306.60 C73.57,304.93 73.78,302.95 74.00,301.00 C74.22,299.05 74.38,297.07 74.60,294.90 C74.82,292.73 75.07,290.27 75.30,288.00 C75.53,285.73 75.78,283.55 76.00,281.30 C76.22,279.05 76.40,276.77 76.60,274.50 C76.80,272.23 77.00,269.78 77.20,267.70 C77.40,265.62 77.60,263.95 77.80,262.00 C78.00,260.05 78.18,258.17 78.40,256.00 C78.62,253.83 78.88,251.27 79.10,249.00 C79.32,246.73 79.50,244.65 79.70,242.40 C79.90,240.15 80.10,237.78 80.30,235.50 C80.50,233.22 80.70,231.03 80.90,228.70 C81.10,226.37 81.28,223.87 81.50,221.50 C81.72,219.13 81.92,217.08 82.20,214.50 C82.48,211.92 82.83,208.67 83.20,206.00 C83.57,203.33 84.00,200.67 84.40,198.50 C84.80,196.33 85.20,194.48 85.60,193.00 C86.00,191.52 86.42,190.77 86.80,189.60 C87.18,188.43 87.53,187.07 87.90,186.00 C88.27,184.93 88.63,183.85 89.00,183.20 C89.37,182.55 89.72,182.13 90.10,182.10 C90.48,182.07 90.92,182.35 91.30,183.00 C91.68,183.65 92.08,184.83 92.40,186.00 C92.72,187.17 92.90,188.50 93.20,190.00 C93.50,191.50 93.85,193.33 94.20,195.00 C94.55,196.67 94.92,198.33 95.30,200.00 C95.68,201.67 96.07,203.33 96.50,205.00 C96.93,206.67 97.47,208.33 97.90,210.00 C98.33,211.67 98.72,213.33 99.10,215.00 C99.48,216.67 99.82,218.33 100.20,220.00 C100.58,221.67 101.02,223.33 101.40,225.00 C101.78,226.67 102.12,228.33 102.50,230.00 C102.88,231.67 103.32,233.33 103.70,235.00 C104.08,236.67 104.42,238.33 104.80,240.00 C105.18,241.67 105.60,243.33 106.00,245.00 C106.40,246.67 106.78,248.33 107.20,250.00 C107.62,251.67 108.08,253.33 108.50,255.00 C108.92,256.67 109.30,258.33 109.70,260.00 C110.10,261.67 110.48,263.33 110.90,265.00 C111.32,266.67 111.78,268.33 112.20,270.00 C112.62,271.67 112.90,273.33 113.40,275.00 C113.90,276.67 114.68,278.33 115.20,280.00 C115.72,281.67 115.98,283.33 116.50,285.00 C117.02,286.67 117.73,288.33 118.30,290.00 C118.87,291.67 119.32,293.33 119.90,295.00 C120.48,296.67 121.08,298.42 121.80,300.00 C122.52,301.58 123.33,303.08 124.20,304.50 C125.07,305.92 126.03,307.37 127.00,308.50 C127.97,309.63 128.83,310.38 130.00,311.30 C131.17,312.22 132.67,313.18 134.00,314.00 C135.33,314.82 136.50,315.60 138.00,316.20 C139.50,316.80 141.00,317.25 143.00,317.60 C145.00,317.95 147.17,318.17 150.00,318.30 C152.83,318.43 158.33,318.38 160.00,318.40" fill="none" stroke="#1f77b4" stroke-width="0.85" stroke-linejoin="round"/>
<path d="M30.00,318.40 L30.00,318.40 C30.67,318.38 32.83,318.45 34.00,318.30 C35.17,318.15 36.00,318.30 37.00,317.50 C38.00,316.70 39.17,315.00 40.00,313.50 C40.83,312.00 41.43,310.18 42.00,308.50 C42.57,306.82 42.93,305.65 43.40,303.40 C43.87,301.15 44.38,297.78 44.80,295.00 C45.22,292.22 45.55,289.53 45.90,286.70 C46.25,283.87 46.58,280.78 46.90,278.00 C47.22,275.22 47.40,273.17 47.80,270.00 C48.20,266.83 48.80,262.50 49.30,259.00 C49.80,255.50 50.32,252.33 50.80,249.00 C51.28,245.67 51.75,242.00 52.20,239.00 C52.65,236.00 53.13,233.00 53.50,231.00 C53.87,229.00 54.13,227.85 54.40,227.00 C54.67,226.15 54.85,225.97 55.10,225.90 C55.35,225.83 55.60,226.00 55.90,226.60 C56.20,227.20 56.55,228.27 56.90,229.50 C57.25,230.73 57.62,232.03 58.00,234.00 C58.38,235.97 58.78,238.72 59.20,241.30 C59.62,243.88 60.05,247.05 60.50,249.50 C60.95,251.95 61.43,254.17 61.90,256.00 C62.37,257.83 62.82,259.28 63.30,260.50 C63.78,261.72 64.23,262.57 64.80,263.30 C65.37,264.03 66.07,264.53 66.70,264.90 C67.33,265.27 67.95,265.38 68.60,265.50 C69.25,265.62 69.77,265.70 70.60,265.60 C71.43,265.50 72.65,265.28 73.60,264.90 C74.55,264.52 75.23,264.37 76.30,263.30 C77.37,262.23 78.55,260.05 80.00,258.50 C81.45,256.95 83.33,255.08 85.00,254.00 C86.67,252.92 88.33,252.00 90.00,252.00 C91.67,252.00 93.33,252.83 95.00,254.00 C96.67,255.17 98.33,257.25 100.00,259.00 C101.67,260.75 103.33,262.67 105.00,264.50 C106.67,266.33 108.40,268.30 110.00,270.00 C111.60,271.70 113.35,272.95 114.60,274.70 C115.85,276.45 116.52,278.45 117.50,280.50 C118.48,282.55 119.50,284.67 120.50,287.00 C121.50,289.33 122.43,292.08 123.50,294.50 C124.57,296.92 125.73,299.58 126.90,301.50 C128.07,303.42 128.82,304.58 130.50,306.00 C132.18,307.42 134.58,308.93 137.00,310.00 C139.42,311.07 142.02,311.78 145.00,312.40 C147.98,313.02 151.18,313.22 154.90,313.70 C158.62,314.18 163.12,314.90 167.30,315.30 C171.48,315.70 175.38,315.83 180.00,316.10 C184.62,316.37 190.00,316.65 195.00,316.90 C200.00,317.15 204.17,317.40 210.00,317.60 C215.83,317.80 222.50,317.97 230.00,318.10 C237.50,318.23 250.83,318.35 255.00,318.40 L255.00,318.40 Z" fill="#ff7f0e" fill-opacity="0.250" stroke="none"/>
<path d="M30.00,318.40 C30.67,318.38 32.83,318.45 34.00,318.30 C35.17,318.15 36.00,318.30 37.00,317.50 C38.00,316.70 39.17,315.00 40.00,313.50 C40.83,312.00 41.43,310.18 42.00,308.50 C42.57,306.82 42.93,305.65 43.40,303.40 C43.87,301.15 44.38,297.78 44.80,295.00 C45.22,292.22 45.55,289.53 45.90,286.70 C46.25,283.87 46.58,280.78 46.90,278.00 C47.22,275.22 47.40,273.17 47.80,270.00 C48.20,266.83 48.80,262.50 49.30,259.00 C49.80,255.50 50.32,252.33 50.80,249.00 C51.28,245.67 51.75,242.00 52.20,239.00 C52.65,236.00 53.13,233.00 53.50,231.00 C53.87,229.00 54.13,227.85 54.40,227.00 C54.67,226.15 54.85,225.97 55.10,225.90 C55.35,225.83 55.60,226.00 55.90,226.60 C56.20,227.20 56.55,228.27 56.90,229.50 C57.25,230.73 57.62,232.03 58.00,234.00 C58.38,235.97 58.78,238.72 59.20,241.30 C59.62,243.88 60.05,247.05 60.50,249.50 C60.95,251.95 61.43,254.17 61.90,256.00 C62.37,257.83 62.82,259.28 63.30,260.50 C63.78,261.72 64.23,262.57 64.80,263.30 C65.37,264.03 66.07,264.53 66.70,264.90 C67.33,265.27 67.95,265.38 68.60,265.50 C69.25,265.62 69.77,265.70 70.60,265.60 C71.43,265.50 72.65,265.28 73.60,264.90 C74.55,264.52 75.23,264.37 76.30,263.30 C77.37,262.23 78.55,260.05 80.00,258.50 C81.45,256.95 83.33,255.08 85.00,254.00 C86.67,252.92 88.33,252.00 90.00,252.00 C91.67,252.00 93.33,252.83 95.00,254.00 C96.67,255.17 98.33,257.25 100.00,259.00 C101.67,260.75 103.33,262.67 105.00,264.50 C106.67,266.33 108.40,268.30 110.00,270.00 C111.60,271.70 113.35,272.95 114.60,274.70 C115.85,276.45 116.52,278.45 117.50,280.50 C118.48,282.55 119.50,284.67 120.50,287.00 C121.50,289.33 122.43,292.08 123.50,294.50 C124.57,296.92 125.73,299.58 126.90,301.50 C128.07,303.42 128.82,304.58 130.50,306.00 C132.18,307.42 134.58,308.93 137.00,310.00 C139.42,311.07 142.02,311.78 145.00,312.40 C147.98,313.02 151.18,313.22 154.90,313.70 C158.62,314.18 163.12,314.90 167.30,315.30 C171.48,315.70 175.38,315.83 180.00,316.10 C184.62,316.37 190.00,316.65 195.00,316.90 C200.00,317.15 204.17,317.40 210.00,317.60 C215.83,317.80 222.50,317.97 230.00,318.10 C237.50,318.23 250.83,318.35 255.00,318.40" fill="none" stroke="#ff7f0e" stroke-width="0.85" stroke-linejoin="round"/>
<path d="M44.00,318.40 L44.00,318.40 C44.42,318.37 45.77,318.35 46.50,318.20 C47.23,318.05 47.82,317.95 48.40,317.50 C48.98,317.05 49.45,316.45 50.00,315.50 C50.55,314.55 51.15,313.28 51.70,311.80 C52.25,310.32 52.73,308.03 53.30,306.60 C53.87,305.17 54.48,304.10 55.10,303.20 C55.72,302.30 56.30,301.83 57.00,301.20 C57.70,300.57 58.47,300.10 59.30,299.40 C60.13,298.70 61.03,298.00 62.00,297.00 C62.97,296.00 64.18,294.73 65.10,293.40 C66.02,292.07 66.80,290.67 67.50,289.00 C68.20,287.33 68.77,285.57 69.30,283.40 C69.83,281.23 70.28,278.23 70.70,276.00 C71.12,273.77 71.43,271.73 71.80,270.00 C72.17,268.27 72.45,267.27 72.90,265.60 C73.35,263.93 73.90,261.77 74.50,260.00 C75.10,258.23 75.70,256.47 76.50,255.00 C77.30,253.53 78.22,252.33 79.30,251.20 C80.38,250.07 81.72,249.03 83.00,248.20 C84.28,247.37 85.37,246.75 87.00,246.20 C88.63,245.65 91.13,244.93 92.80,244.90 C94.47,244.87 95.63,245.23 97.00,246.00 C98.37,246.77 99.67,248.00 101.00,249.50 C102.33,251.00 103.67,252.83 105.00,255.00 C106.33,257.17 107.75,260.42 109.00,262.50 C110.25,264.58 111.42,265.92 112.50,267.50 C113.58,269.08 114.58,270.33 115.50,272.00 C116.42,273.67 117.17,275.67 118.00,277.50 C118.83,279.33 119.67,281.17 120.50,283.00 C121.33,284.83 122.17,286.67 123.00,288.50 C123.83,290.33 124.67,292.25 125.50,294.00 C126.33,295.75 127.17,297.50 128.00,299.00 C128.83,300.50 129.50,301.58 130.50,303.00 C131.50,304.42 132.58,306.08 134.00,307.50 C135.42,308.92 137.17,310.37 139.00,311.50 C140.83,312.63 142.83,313.50 145.00,314.30 C147.17,315.10 148.67,315.72 152.00,316.30 C155.33,316.88 159.50,317.45 165.00,317.80 C170.50,318.15 181.67,318.30 185.00,318.40 L185.00,318.40 Z" fill="#2ca02c" fill-opacity="0.250" stroke="none"/>
<path d="M44.00,318.40 C44.42,318.37 45.77,318.35 46.50,318.20 C47.23,318.05 47.82,317.95 48.40,317.50 C48.98,317.05 49.45,316.45 50.00,315.50 C50.55,314.55 51.15,313.28 51.70,311.80 C52.25,310.32 52.73,308.03 53.30,306.60 C53.87,305.17 54.48,304.10 55.10,303.20 C55.72,302.30 56.30,301.83 57.00,301.20 C57.70,300.57 58.47,300.10 59.30,299.40 C60.13,298.70 61.03,298.00 62.00,297.00 C62.97,296.00 64.18,294.73 65.10,293.40 C66.02,292.07 66.80,290.67 67.50,289.00 C68.20,287.33 68.77,285.57 69.30,283.40 C69.83,281.23 70.28,278.23 70.70,276.00 C71.12,273.77 71.43,271.73 71.80,270.00 C72.17,268.27 72.45,267.27 72.90,265.60 C73.35,263.93 73.90,261.77 74.50,260.00 C75.10,258.23 75.70,256.47 76.50,255.00 C77.30,253.53 78.22,252.33 79.30,251.20 C80.38,250.07 81.72,249.03 83.00,248.20 C84.28,247.37 85.37,246.75 87.00,246.20 C88.63,245.65 91.13,244.93 92.80,244.90 C94.47,244.87 95.63,245.23 97.00,246.00 C98.37,246.77 99.67,248.00 101.00,249.50 C102.33,251.00 103.67,252.83 105.00,255.00 C106.33,257.17 107.75,260.42 109.00,262.50 C110.25,264.58 111.42,265.92 112.50,267.50 C113.58,269.08 114.58,270.33 115.50,272.00 C116.42,273.67 117.17,275.67 118.00,277.50 C118.83,279.33 119.67,281.17 120.50,283.00 C121.33,284.83 122.17,286.67 123.00,288.50 C123.83,290.33 124.67,292.25 125.50,294.00 C126.33,295.75 127.17,297.50 128.00,299.00 C128.83,300.50 129.50,301.58 130.50,303.00 C131.50,304.42 132.58,306.08 134.00,307.50 C135.42,308.92 137.17,310.37 139.00,311.50 C140.83,312.63 142.83,313.50 145.00,314.30 C147.17,315.10 148.67,315.72 152.00,316.30 C155.33,316.88 159.50,317.45 165.00,317.80 C170.50,318.15 181.67,318.30 185.00,318.40" fill="none" stroke="#2ca02c" stroke-width="0.85" stroke-linejoin="round"/>
<path d="M46.00,318.40 L46.00,318.40 C46.67,318.37 48.77,318.33 50.00,318.20 C51.23,318.07 52.23,317.92 53.40,317.60 C54.57,317.28 55.88,316.83 57.00,316.30 C58.12,315.77 59.10,315.12 60.10,314.40 C61.10,313.68 62.02,312.98 63.00,312.00 C63.98,311.02 65.08,309.90 66.00,308.50 C66.92,307.10 67.67,305.52 68.50,303.60 C69.33,301.68 70.17,299.37 71.00,297.00 C71.83,294.63 72.58,292.07 73.50,289.40 C74.42,286.73 75.42,283.80 76.50,281.00 C77.58,278.20 78.75,275.60 80.00,272.60 C81.25,269.60 82.67,266.27 84.00,263.00 C85.33,259.73 86.67,256.25 88.00,253.00 C89.33,249.75 90.75,246.17 92.00,243.50 C93.25,240.83 94.30,238.70 95.50,237.00 C96.70,235.30 98.03,233.67 99.20,233.30 C100.37,232.93 101.37,233.68 102.50,234.80 C103.63,235.92 104.75,237.88 106.00,240.00 C107.25,242.12 108.30,244.17 110.00,247.50 C111.70,250.83 114.12,255.85 116.20,260.00 C118.28,264.15 120.42,268.25 122.50,272.40 C124.58,276.55 126.63,280.95 128.70,284.90 C130.77,288.85 133.27,293.43 134.90,296.10 C136.53,298.77 137.25,299.45 138.50,300.90 C139.75,302.35 140.98,303.55 142.40,304.80 C143.82,306.05 145.33,307.33 147.00,308.40 C148.67,309.47 150.57,310.40 152.40,311.20 C154.23,312.00 155.92,312.58 158.00,313.20 C160.08,313.82 162.57,314.45 164.90,314.90 C167.23,315.35 169.52,315.62 172.00,315.90 C174.48,316.18 176.80,316.37 179.80,316.60 C182.80,316.83 185.80,317.08 190.00,317.30 C194.20,317.52 199.17,317.72 205.00,317.90 C210.83,318.08 221.67,318.32 225.00,318.40 L225.00,318.40 Z" fill="#d62728" fill-opacity="0.250" stroke="none"/>
<path d="M46.00,318.40 C46.67,318.37 48.77,318.33 50.00,318.20 C51.23,318.07 52.23,317.92 53.40,317.60 C54.57,317.28 55.88,316.83 57.00,316.30 C58.12,315.77 59.10,315.12 60.10,314.40 C61.10,313.68 62.02,312.98 63.00,312.00 C63.98,311.02 65.08,309.90 66.00,308.50 C66.92,307.10 67.67,305.52 68.50,303.60 C69.33,301.68 70.17,299.37 71.00,297.00 C71.83,294.63 72.58,292.07 73.50,289.40 C74.42,286.73 75.42,283.80 76.50,281.00 C77.58,278.20 78.75,275.60 80.00,272.60 C81.25,269.60 82.67,266.27 84.00,263.00 C85.33,259.73 86.67,256.25 88.00,253.00 C89.33,249.75 90.75,246.17 92.00,243.50 C93.25,240.83 94.30,238.70 95.50,237.00 C96.70,235.30 98.03,233.67 99.20,233.30 C100.37,232.93 101.37,233.68 102.50,234.80 C103.63,235.92 104.75,237.88 106.00,240.00 C107.25,242.12 108.30,244.17 110.00,247.50 C111.70,250.83 114.12,255.85 116.20,260.00 C118.28,264.15 120.42,268.25 122.50,272.40 C124.58,276.55 126.63,280.95 128.70,284.90 C130.77,288.85 133.27,293.43 134.90,296.10 C136.53,298.77 137.25,299.45 138.50,300.90 C139.75,302.35 140.98,303.55 142.40,304.80 C143.82,306.05 145.33,307.33 147.00,308.40 C148.67,309.47 150.57,310.40 152.40,311.20 C154.23,312.00 155.92,312.58 158.00,313.20 C160.08,313.82 162.57,314.45 164.90,314.90 C167.23,315.35 169.52,315.62 172.00,315.90 C174.48,316.18 176.80,316.37 179.80,316.60 C182.80,316.83 185.80,317.08 190.00,317.30 C194.20,317.52 199.17,317.72 205.00,317.90 C210.83,318.08 221.67,318.32 225.00,318.40" fill="none" stroke="#d62728" stroke-width="0.85" stroke-linejoin="round"/>
<path d="M62.20,318.40 L62.20,318.40 C62.87,318.35 65.23,318.18 66.20,318.10 C67.17,318.02 67.42,318.12 68.00,317.90 C68.58,317.68 69.12,317.38 69.70,316.80 C70.28,316.22 71.02,315.37 71.50,314.40 C71.98,313.43 72.27,312.30 72.60,311.00 C72.93,309.70 73.23,308.27 73.50,306.60 C73.77,304.93 73.98,302.95 74.20,301.00 C74.42,299.05 74.58,297.07 74.80,294.90 C75.02,292.73 75.27,290.27 75.50,288.00 C75.73,285.73 75.98,283.55 76.20,281.30 C76.42,279.05 76.60,276.77 76.80,274.50 C77.00,272.23 77.20,269.78 77.40,267.70 C77.60,265.62 77.80,263.95 78.00,262.00 C78.20,260.05 78.38,258.17 78.60,256.00 C78.82,253.83 79.08,251.27 79.30,249.00 C79.52,246.73 79.70,244.65 79.90,242.40 C80.10,240.15 80.30,237.78 80.50,235.50 C80.70,233.22 80.90,231.16 81.10,228.70 C81.30,226.24 81.48,223.53 81.70,220.74 C81.92,217.96 82.12,215.06 82.40,211.98 C82.68,208.91 83.03,205.12 83.40,202.29 C83.77,199.47 84.20,196.98 84.60,195.03 C85.00,193.08 85.40,191.71 85.80,190.57 C86.20,189.43 86.62,188.95 87.00,188.17 C87.38,187.40 87.73,186.56 88.10,185.92 C88.47,185.29 88.83,184.72 89.20,184.37 C89.57,184.01 89.92,183.82 90.30,183.80 C90.68,183.78 91.12,183.91 91.50,184.26 C91.88,184.62 92.28,185.23 92.60,185.92 C92.92,186.62 93.10,187.41 93.40,188.44 C93.70,189.47 94.05,190.78 94.40,192.11 C94.75,193.43 95.12,194.85 95.50,196.38 C95.88,197.90 96.27,199.53 96.70,201.25 C97.13,202.97 97.67,204.79 98.10,206.68 C98.53,208.57 98.92,210.57 99.30,212.59 C99.68,214.61 100.02,216.76 100.40,218.83 C100.78,220.90 101.22,223.14 101.60,225.00 C101.98,226.86 102.32,228.33 102.70,230.00 C103.08,231.67 103.52,233.33 103.90,235.00 C104.28,236.67 104.62,238.33 105.00,240.00 C105.38,241.67 105.80,243.33 106.20,245.00 C106.60,246.67 106.98,248.33 107.40,250.00 C107.82,251.67 108.28,253.33 108.70,255.00 C109.12,256.67 109.50,258.33 109.90,260.00 C110.30,261.67 110.68,263.33 111.10,265.00 C111.52,266.67 111.98,268.33 112.40,270.00 C112.82,271.67 113.10,273.33 113.60,275.00 C114.10,276.67 114.88,278.33 115.40,280.00 C115.92,281.67 116.18,283.33 116.70,285.00 C117.22,286.67 117.93,288.33 118.50,290.00 C119.07,291.67 119.52,293.33 120.10,295.00 C120.68,296.67 121.28,298.42 122.00,300.00 C122.72,301.58 123.53,303.08 124.40,304.50 C125.27,305.92 126.23,307.37 127.20,308.50 C128.17,309.63 129.03,310.38 130.20,311.30 C131.37,312.22 132.87,313.18 134.20,314.00 C135.53,314.82 136.70,315.60 138.20,316.20 C139.70,316.80 141.20,317.25 143.20,317.60 C145.20,317.95 147.37,318.17 150.20,318.30 C153.03,318.43 158.53,318.38 160.20,318.40 L160.20,318.40 Z" fill="#9467bd" fill-opacity="0.250" stroke="none"/>
<path d="M62.20,318.40 C62.87,318.35 65.23,318.18 66.20,318.10 C67.17,318.02 67.42,318.12 68.00,317.90 C68.58,317.68 69.12,317.38 69.70,316.80 C70.28,316.22 71.02,315.37 71.50,314.40 C71.98,313.43 72.27,312.30 72.60,311.00 C72.93,309.70 73.23,308.27 73.50,306.60 C73.77,304.93 73.98,302.95 74.20,301.00 C74.42,299.05 74.58,297.07 74.80,294.90 C75.02,292.73 75.27,290.27 75.50,288.00 C75.73,285.73 75.98,283.55 76.20,281.30 C76.42,279.05 76.60,276.77 76.80,274.50 C77.00,272.23 77.20,269.78 77.40,267.70 C77.60,265.62 77.80,263.95 78.00,262.00 C78.20,260.05 78.38,258.17 78.60,256.00 C78.82,253.83 79.08,251.27 79.30,249.00 C79.52,246.73 79.70,244.65 79.90,242.40 C80.10,240.15 80.30,237.78 80.50,235.50 C80.70,233.22 80.90,231.16 81.10,228.70 C81.30,226.24 81.48,223.53 81.70,220.74 C81.92,217.96 82.12,215.06 82.40,211.98 C82.68,208.91 83.03,205.12 83.40,202.29 C83.77,199.47 84.20,196.98 84.60,195.03 C85.00,193.08 85.40,191.71 85.80,190.57 C86.20,189.43 86.62,188.95 87.00,188.17 C87.38,187.40 87.73,186.56 88.10,185.92 C88.47,185.29 88.83,184.72 89.20,184.37 C89.57,184.01 89.92,183.82 90.30,183.80 C90.68,183.78 91.12,183.91 91.50,184.26 C91.88,184.62 92.28,185.23 92.60,185.92 C92.92,186.62 93.10,187.41 93.40,188.44 C93.70,189.47 94.05,190.78 94.40,192.11 C94.75,193.43 95.12,194.85 95.50,196.38 C95.88,197.90 96.27,199.53 96.70,201.25 C97.13,202.97 97.67,204.79 98.10,206.68 C98.53,208.57 98.92,210.57 99.30,212.59 C99.68,214.61 100.02,216.76 100.40,218.83 C100.78,220.90 101.22,223.14 101.60,225.00 C101.98,226.86 102.32,228.33 102.70,230.00 C103.08,231.67 103.52,233.33 103.90,235.00 C104.28,236.67 104.62,238.33 105.00,240.00 C105.38,241.67 105.80,243.33 106.20,245.00 C106.60,246.67 106.98,248.33 107.40,250.00 C107.82,251.67 108.28,253.33 108.70,255.00 C109.12,256.67 109.50,258.33 109.90,260.00 C110.30,261.67 110.68,263.33 111.10,265.00 C111.52,266.67 111.98,268.33 112.40,270.00 C112.82,271.67 113.10,273.33 113.60,275.00 C114.10,276.67 114.88,278.33 115.40,280.00 C115.92,281.67 116.18,283.33 116.70,285.00 C117.22,286.67 117.93,288.33 118.50,290.00 C119.07,291.67 119.52,293.33 120.10,295.00 C120.68,296.67 121.28,298.42 122.00,300.00 C122.72,301.58 123.53,303.08 124.40,304.50 C125.27,305.92 126.23,307.37 127.20,308.50 C128.17,309.63 129.03,310.38 130.20,311.30 C131.37,312.22 132.87,313.18 134.20,314.00 C135.53,314.82 136.70,315.60 138.20,316.20 C139.70,316.80 141.20,317.25 143.20,317.60 C145.20,317.95 147.37,318.17 150.20,318.30 C153.03,318.43 158.53,318.38 160.20,318.40" fill="none" stroke="#9467bd" stroke-width="0.85" stroke-linejoin="round"/>
<path d="M61.68,318.40 L61.68,318.40 C62.37,318.35 64.83,318.18 65.84,318.10 C66.85,318.02 67.11,318.12 67.71,317.90 C68.32,317.68 68.87,317.38 69.48,316.80 C70.09,316.22 70.85,315.37 71.35,314.40 C71.85,313.43 72.15,312.30 72.50,311.00 C72.84,309.70 73.15,308.27 73.43,306.60 C73.71,304.93 73.93,302.95 74.16,301.00 C74.39,299.05 74.56,297.07 74.78,294.90 C75.01,292.73 75.27,290.27 75.51,288.00 C75.75,285.73 76.01,283.55 76.24,281.30 C76.47,279.05 76.66,276.77 76.86,274.50 C77.07,272.23 77.28,269.78 77.49,267.70 C77.70,265.62 77.90,263.95 78.11,262.00 C78.32,260.05 78.51,258.17 78.74,256.00 C78.96,253.83 79.24,251.27 79.46,249.00 C79.69,246.73 79.88,244.65 80.09,242.40 C80.30,240.15 80.50,237.78 80.71,235.50 C80.92,233.22 81.13,231.22 81.34,228.70 C81.54,226.18 81.73,223.13 81.96,220.37 C82.19,217.61 82.39,214.98 82.69,212.12 C82.98,209.26 83.35,205.79 83.73,203.22 C84.11,200.65 84.56,198.45 84.98,196.72 C85.39,194.98 85.81,193.80 86.22,192.81 C86.64,191.81 87.07,191.40 87.47,190.73 C87.87,190.06 88.23,189.35 88.62,188.80 C89.00,188.26 89.38,187.78 89.76,187.48 C90.14,187.18 90.51,187.01 90.90,187.00 C91.30,186.99 91.75,187.09 92.15,187.39 C92.55,187.69 92.97,188.21 93.30,188.80 C93.63,189.40 93.82,190.07 94.13,190.96 C94.44,191.85 94.80,192.99 95.17,194.15 C95.53,195.30 95.91,196.56 96.31,197.91 C96.71,199.27 97.11,200.72 97.56,202.28 C98.01,203.83 98.57,205.49 99.02,207.22 C99.47,208.96 99.87,210.80 100.26,212.69 C100.66,214.58 101.01,216.56 101.41,218.55 C101.81,220.55 102.26,222.76 102.66,224.67 C103.05,226.57 103.40,228.28 103.80,230.00 C104.20,231.72 104.65,233.33 105.05,235.00 C105.45,236.67 105.79,238.33 106.19,240.00 C106.59,241.67 107.02,243.33 107.44,245.00 C107.86,246.67 108.25,248.33 108.69,250.00 C109.12,251.67 109.61,253.33 110.04,255.00 C110.47,256.67 110.87,258.33 111.29,260.00 C111.70,261.67 112.10,263.33 112.54,265.00 C112.97,266.67 113.45,268.33 113.89,270.00 C114.32,271.67 114.62,273.33 115.14,275.00 C115.66,276.67 116.47,278.33 117.01,280.00 C117.55,281.67 117.82,283.33 118.36,285.00 C118.90,286.67 119.64,288.33 120.23,290.00 C120.82,291.67 121.29,293.33 121.90,295.00 C122.50,296.67 123.13,298.42 123.87,300.00 C124.62,301.58 125.47,303.08 126.37,304.50 C127.27,305.92 128.27,307.37 129.28,308.50 C130.29,309.63 131.19,310.38 132.40,311.30 C133.61,312.22 135.17,313.18 136.56,314.00 C137.95,314.82 139.16,315.60 140.72,316.20 C142.28,316.80 143.84,317.25 145.92,317.60 C148.00,317.95 150.25,318.17 153.20,318.30 C156.15,318.43 161.87,318.38 163.60,318.40 L163.60,318.40 Z" fill="#8c564b" fill-opacity="0.250" stroke="none"/>
<path d="M61.68,318.40 C62.37,318.35 64.83,318.18 65.84,318.10 C66.85,318.02 67.11,318.12 67.71,317.90 C68.32,317.68 68.87,317.38 69.48,316.80 C70.09,316.22 70.85,315.37 71.35,314.40 C71.85,313.43 72.15,312.30 72.50,311.00 C72.84,309.70 73.15,308.27 73.43,306.60 C73.71,304.93 73.93,302.95 74.16,301.00 C74.39,299.05 74.56,297.07 74.78,294.90 C75.01,292.73 75.27,290.27 75.51,288.00 C75.75,285.73 76.01,283.55 76.24,281.30 C76.47,279.05 76.66,276.77 76.86,274.50 C77.07,272.23 77.28,269.78 77.49,267.70 C77.70,265.62 77.90,263.95 78.11,262.00 C78.32,260.05 78.51,258.17 78.74,256.00 C78.96,253.83 79.24,251.27 79.46,249.00 C79.69,246.73 79.88,244.65 80.09,242.40 C80.30,240.15 80.50,237.78 80.71,235.50 C80.92,233.22 81.13,231.22 81.34,228.70 C81.54,226.18 81.73,223.13 81.96,220.37 C82.19,217.61 82.39,214.98 82.69,212.12 C82.98,209.26 83.35,205.79 83.73,203.22 C84.11,200.65 84.56,198.45 84.98,196.72 C85.39,194.98 85.81,193.80 86.22,192.81 C86.64,191.81 87.07,191.40 87.47,190.73 C87.87,190.06 88.23,189.35 88.62,188.80 C89.00,188.26 89.38,187.78 89.76,187.48 C90.14,187.18 90.51,187.01 90.90,187.00 C91.30,186.99 91.75,187.09 92.15,187.39 C92.55,187.69 92.97,188.21 93.30,188.80 C93.63,189.40 93.82,190.07 94.13,190.96 C94.44,191.85 94.80,192.99 95.17,194.15 C95.53,195.30 95.91,196.56 96.31,197.91 C96.71,199.27 97.11,200.72 97.56,202.28 C98.01,203.83 98.57,205.49 99.02,207.22 C99.47,208.96 99.87,210.80 100.26,212.69 C100.66,214.58 101.01,216.56 101.41,218.55 C101.81,220.55 102.26,222.76 102.66,224.67 C103.05,226.57 103.40,228.28 103.80,230.00 C104.20,231.72 104.65,233.33 105.05,235.00 C105.45,236.67 105.79,238.33 106.19,240.00 C106.59,241.67 107.02,243.33 107.44,245.00 C107.86,246.67 108.25,248.33 108.69,250.00 C109.12,251.67 109.61,253.33 110.04,255.00 C110.47,256.67 110.87,258.33 111.29,260.00 C111.70,261.67 112.10,263.33 112.54,265.00 C112.97,266.67 113.45,268.33 113.89,270.00 C114.32,271.67 114.62,273.33 115.14,275.00 C115.66,276.67 116.47,278.33 117.01,280.00 C117.55,281.67 117.82,283.33 118.36,285.00 C118.90,286.67 119.64,288.33 120.23,290.00 C120.82,291.67 121.29,293.33 121.90,295.00 C122.50,296.67 123.13,298.42 123.87,300.00 C124.62,301.58 125.47,303.08 126.37,304.50 C127.27,305.92 128.27,307.37 129.28,308.50 C130.29,309.63 131.19,310.38 132.40,311.30 C133.61,312.22 135.17,313.18 136.56,314.00 C137.95,314.82 139.16,315.60 140.72,316.20 C142.28,316.80 143.84,317.25 145.92,317.60 C148.00,317.95 150.25,318.17 153.20,318.30 C156.15,318.43 161.87,318.38 163.60,318.40" fill="none" stroke="#8c564b" stroke-width="0.85" stroke-linejoin="round"/>
<path d="M61.80,318.40 L61.80,318.40 C62.50,318.35 64.98,318.18 66.00,318.10 C67.02,318.02 67.28,318.12 67.89,317.90 C68.50,317.68 69.06,317.38 69.67,316.80 C70.29,316.22 71.06,315.37 71.56,314.40 C72.07,313.43 72.37,312.30 72.72,311.00 C73.07,309.70 73.39,308.27 73.67,306.60 C73.95,304.93 74.17,302.95 74.40,301.00 C74.63,299.05 74.80,297.07 75.03,294.90 C75.26,292.73 75.52,290.27 75.77,288.00 C76.01,285.73 76.27,283.55 76.50,281.30 C76.73,279.05 76.92,276.77 77.13,274.50 C77.34,272.23 77.55,269.78 77.76,267.70 C77.97,265.62 78.18,263.95 78.39,262.00 C78.60,260.05 78.79,258.17 79.02,256.00 C79.25,253.83 79.53,251.27 79.75,249.00 C79.98,246.73 80.18,244.65 80.39,242.40 C80.59,240.15 80.81,237.78 81.02,235.50 C81.22,233.22 81.44,231.18 81.65,228.70 C81.86,226.22 82.05,223.43 82.28,220.64 C82.50,217.86 82.71,215.02 83.01,211.99 C83.31,208.97 83.67,205.25 84.06,202.48 C84.45,199.71 84.90,197.29 85.32,195.39 C85.74,193.48 86.16,192.16 86.58,191.05 C87.00,189.94 87.44,189.48 87.84,188.73 C88.24,187.98 88.61,187.16 89.00,186.55 C89.38,185.94 89.77,185.39 90.15,185.05 C90.53,184.71 90.90,184.52 91.30,184.50 C91.71,184.48 92.16,184.60 92.56,184.95 C92.97,185.29 93.39,185.88 93.72,186.55 C94.05,187.22 94.25,187.99 94.56,188.99 C94.88,189.98 95.24,191.26 95.61,192.54 C95.98,193.83 96.36,195.21 96.77,196.70 C97.17,198.18 97.57,199.78 98.03,201.46 C98.48,203.14 99.04,204.93 99.50,206.78 C99.95,208.64 100.35,210.60 100.75,212.59 C101.16,214.59 101.51,216.68 101.91,218.75 C102.31,220.82 102.77,223.13 103.17,225.00 C103.57,226.87 103.92,228.33 104.33,230.00 C104.73,231.67 105.18,233.33 105.59,235.00 C105.99,236.67 106.34,238.33 106.74,240.00 C107.14,241.67 107.58,243.33 108.00,245.00 C108.42,246.67 108.82,248.33 109.26,250.00 C109.70,251.67 110.19,253.33 110.62,255.00 C111.06,256.67 111.47,258.33 111.89,260.00 C112.31,261.67 112.71,263.33 113.15,265.00 C113.58,266.67 114.07,268.33 114.51,270.00 C114.95,271.67 115.25,273.33 115.77,275.00 C116.30,276.67 117.12,278.33 117.66,280.00 C118.20,281.67 118.48,283.33 119.03,285.00 C119.57,286.67 120.32,288.33 120.92,290.00 C121.51,291.67 121.98,293.33 122.60,295.00 C123.21,296.67 123.84,298.42 124.59,300.00 C125.34,301.58 126.20,303.08 127.11,304.50 C128.02,305.92 129.03,307.37 130.05,308.50 C131.06,309.63 131.97,310.38 133.20,311.30 C134.42,312.22 136.00,313.18 137.40,314.00 C138.80,314.82 140.02,315.60 141.60,316.20 C143.18,316.80 144.75,317.25 146.85,317.60 C148.95,317.95 151.22,318.17 154.20,318.30 C157.17,318.43 162.95,318.38 164.70,318.40 L164.70,318.40 Z" fill="#e377c2" fill-opacity="0.250" stroke="none"/>
<path d="M61.80,318.40 C62.50,318.35 64.98,318.18 66.00,318.10 C67.02,318.02 67.28,318.12 67.89,317.90 C68.50,317.68 69.06,317.38 69.67,316.80 C70.29,316.22 71.06,315.37 71.56,314.40 C72.07,313.43 72.37,312.30 72.72,311.00 C73.07,309.70 73.39,308.27 73.67,306.60 C73.95,304.93 74.17,302.95 74.40,301.00 C74.63,299.05 74.80,297.07 75.03,294.90 C75.26,292.73 75.52,290.27 75.77,288.00 C76.01,285.73 76.27,283.55 76.50,281.30 C76.73,279.05 76.92,276.77 77.13,274.50 C77.34,272.23 77.55,269.78 77.76,267.70 C77.97,265.62 78.18,263.95 78.39,262.00 C78.60,260.05 78.79,258.17 79.02,256.00 C79.25,253.83 79.53,251.27 79.75,249.00 C79.98,246.73 80.18,244.65 80.39,242.40 C80.59,240.15 80.81,237.78 81.02,235.50 C81.22,233.22 81.44,231.18 81.65,228.70 C81.86,226.22 82.05,223.43 82.28,220.64 C82.50,217.86 82.71,215.02 83.01,211.99 C83.31,208.97 83.67,205.25 84.06,202.48 C84.45,199.71 84.90,197.29 85.32,195.39 C85.74,193.48 86.16,192.16 86.58,191.05 C87.00,189.94 87.44,189.48 87.84,188.73 C88.24,187.98 88.61,187.16 89.00,186.55 C89.38,185.94 89.77,185.39 90.15,185.05 C90.53,184.71 90.90,184.52 91.30,184.50 C91.71,184.48 92.16,184.60 92.56,184.95 C92.97,185.29 93.39,185.88 93.72,186.55 C94.05,187.22 94.25,187.99 94.56,188.99 C94.88,189.98 95.24,191.26 95.61,192.54 C95.98,193.83 96.36,195.21 96.77,196.70 C97.17,198.18 97.57,199.78 98.03,201.46 C98.48,203.14 99.04,204.93 99.50,206.78 C99.95,208.64 100.35,210.60 100.75,212.59 C101.16,214.59 101.51,216.68 101.91,218.75 C102.31,220.82 102.77,223.13 103.17,225.00 C103.57,226.87 103.92,228.33 104.33,230.00 C104.73,231.67 105.18,233.33 105.59,235.00 C105.99,236.67 106.34,238.33 106.74,240.00 C107.14,241.67 107.58,243.33 108.00,245.00 C108.42,246.67 108.82,248.33 109.26,250.00 C109.70,251.67 110.19,253.33 110.62,255.00 C111.06,256.67 111.47,258.33 111.89,260.00 C112.31,261.67 112.71,263.33 113.15,265.00 C113.58,266.67 114.07,268.33 114.51,270.00 C114.95,271.67 115.25,273.33 115.77,275.00 C116.30,276.67 117.12,278.33 117.66,280.00 C118.20,281.67 118.48,283.33 119.03,285.00 C119.57,286.67 120.32,288.33 120.92,290.00 C121.51,291.67 121.98,293.33 122.60,295.00 C123.21,296.67 123.84,298.42 124.59,300.00 C125.34,301.58 126.20,303.08 127.11,304.50 C128.02,305.92 129.03,307.37 130.05,308.50 C131.06,309.63 131.97,310.38 133.20,311.30 C134.42,312.22 136.00,313.18 137.40,314.00 C138.80,314.82 140.02,315.60 141.60,316.20 C143.18,316.80 144.75,317.25 146.85,317.60 C148.95,317.95 151.22,318.17 154.20,318.30 C157.17,318.43 162.95,318.38 164.70,318.40" fill="none" stroke="#e377c2" stroke-width="0.85" stroke-linejoin="round"/>
<path d="M63.20,318.40 L63.20,318.40 C63.87,318.35 66.23,318.18 67.20,318.10 C68.17,318.02 68.42,318.12 69.00,317.90 C69.58,317.68 70.12,317.38 70.70,316.80 C71.28,316.22 72.02,315.37 72.50,314.40 C72.98,313.43 73.27,312.30 73.60,311.00 C73.93,309.70 74.23,308.27 74.50,306.60 C74.77,304.93 74.98,302.95 75.20,301.00 C75.42,299.05 75.58,297.07 75.80,294.90 C76.02,292.73 76.27,290.27 76.50,288.00 C76.73,285.73 76.98,283.55 77.20,281.30 C77.42,279.05 77.60,276.77 77.80,274.50 C78.00,272.23 78.20,269.78 78.40,267.70 C78.60,265.62 78.80,263.95 79.00,262.00 C79.20,260.05 79.38,258.17 79.60,256.00 C79.82,253.83 80.08,251.27 80.30,249.00 C80.52,246.73 80.70,244.65 80.90,242.40 C81.10,240.15 81.30,237.80 81.50,235.50 C81.70,233.20 81.90,231.18 82.10,228.63 C82.30,226.08 82.48,222.87 82.70,220.19 C82.92,217.51 83.12,215.16 83.40,212.55 C83.68,209.95 84.03,206.84 84.40,204.56 C84.77,202.29 85.20,200.41 85.60,198.91 C86.00,197.42 86.40,196.43 86.80,195.59 C87.20,194.75 87.62,194.42 88.00,193.86 C88.38,193.31 88.73,192.72 89.10,192.27 C89.47,191.83 89.83,191.44 90.20,191.19 C90.57,190.94 90.92,190.81 91.30,190.80 C91.68,190.79 92.12,190.87 92.50,191.12 C92.88,191.36 93.28,191.78 93.60,192.27 C93.92,192.76 94.10,193.31 94.40,194.05 C94.70,194.80 95.05,195.74 95.40,196.72 C95.75,197.70 96.12,198.77 96.50,199.94 C96.88,201.10 97.27,202.37 97.70,203.73 C98.13,205.10 98.67,206.57 99.10,208.12 C99.53,209.68 99.92,211.34 100.30,213.07 C100.68,214.80 101.02,216.63 101.40,218.49 C101.78,220.35 102.22,222.33 102.60,224.25 C102.98,226.17 103.32,228.21 103.70,230.00 C104.08,231.79 104.52,233.33 104.90,235.00 C105.28,236.67 105.62,238.33 106.00,240.00 C106.38,241.67 106.80,243.33 107.20,245.00 C107.60,246.67 107.98,248.33 108.40,250.00 C108.82,251.67 109.28,253.33 109.70,255.00 C110.12,256.67 110.50,258.33 110.90,260.00 C111.30,261.67 111.68,263.33 112.10,265.00 C112.52,266.67 112.98,268.33 113.40,270.00 C113.82,271.67 114.10,273.33 114.60,275.00 C115.10,276.67 115.88,278.33 116.40,280.00 C116.92,281.67 117.18,283.33 117.70,285.00 C118.22,286.67 118.93,288.33 119.50,290.00 C120.07,291.67 120.52,293.33 121.10,295.00 C121.68,296.67 122.28,298.42 123.00,300.00 C123.72,301.58 124.53,303.08 125.40,304.50 C126.27,305.92 127.23,307.37 128.20,308.50 C129.17,309.63 130.03,310.38 131.20,311.30 C132.37,312.22 133.87,313.18 135.20,314.00 C136.53,314.82 137.70,315.60 139.20,316.20 C140.70,316.80 142.20,317.25 144.20,317.60 C146.20,317.95 148.37,318.17 151.20,318.30 C154.03,318.43 159.53,318.38 161.20,318.40 L161.20,318.40 Z" fill="#7f7f7f" fill-opacity="0.250" stroke="none"/>
<path d="M63.20,318.40 C63.87,318.35 66.23,318.18 67.20,318.10 C68.17,318.02 68.42,318.12 69.00,317.90 C69.58,317.68 70.12,317.38 70.70,316.80 C71.28,316.22 72.02,315.37 72.50,314.40 C72.98,313.43 73.27,312.30 73.60,311.00 C73.93,309.70 74.23,308.27 74.50,306.60 C74.77,304.93 74.98,302.95 75.20,301.00 C75.42,299.05 75.58,297.07 75.80,294.90 C76.02,292.73 76.27,290.27 76.50,288.00 C76.73,285.73 76.98,283.55 77.20,281.30 C77.42,279.05 77.60,276.77 77.80,274.50 C78.00,272.23 78.20,269.78 78.40,267.70 C78.60,265.62 78.80,263.95 79.00,262.00 C79.20,260.05 79.38,258.17 79.60,256.00 C79.82,253.83 80.08,251.27 80.30,249.00 C80.52,246.73 80.70,244.65 80.90,242.40 C81.10,240.15 81.30,237.80 81.50,235.50 C81.70,233.20 81.90,231.18 82.10,228.63 C82.30,226.08 82.48,222.87 82.70,220.19 C82.92,217.51 83.12,215.16 83.40,212.55 C83.68,209.95 84.03,206.84 84.40,204.56 C84.77,202.29 85.20,200.41 85.60,198.91 C86.00,197.42 86.40,196.43 86.80,195.59 C87.20,194.75 87.62,194.42 88.00,193.86 C88.38,193.31 88.73,192.72 89.10,192.27 C89.47,191.83 89.83,191.44 90.20,191.19 C90.57,190.94 90.92,190.81 91.30,190.80 C91.68,190.79 92.12,190.87 92.50,191.12 C92.88,191.36 93.28,191.78 93.60,192.27 C93.92,192.76 94.10,193.31 94.40,194.05 C94.70,194.80 95.05,195.74 95.40,196.72 C95.75,197.70 96.12,198.77 96.50,199.94 C96.88,201.10 97.27,202.37 97.70,203.73 C98.13,205.10 98.67,206.57 99.10,208.12 C99.53,209.68 99.92,211.34 100.30,213.07 C100.68,214.80 101.02,216.63 101.40,218.49 C101.78,220.35 102.22,222.33 102.60,224.25 C102.98,226.17 103.32,228.21 103.70,230.00 C104.08,231.79 104.52,233.33 104.90,235.00 C105.28,236.67 105.62,238.33 106.00,240.00 C106.38,241.67 106.80,243.33 107.20,245.00 C107.60,246.67 107.98,248.33 108.40,250.00 C108.82,251.67 109.28,253.33 109.70,255.00 C110.12,256.67 110.50,258.33 110.90,260.00 C111.30,261.67 111.68,263.33 112.10,265.00 C112.52,266.67 112.98,268.33 113.40,270.00 C113.82,271.67 114.10,273.33 114.60,275.00 C115.10,276.67 115.88,278.33 116.40,280.00 C116.92,281.67 117.18,283.33 117.70,285.00 C118.22,286.67 118.93,288.33 119.50,290.00 C120.07,291.67 120.52,293.33 121.10,295.00 C121.68,296.67 122.28,298.42 123.00,300.00 C123.72,301.58 124.53,303.08 125.40,304.50 C126.27,305.92 127.23,307.37 128.20,308.50 C129.17,309.63 130.03,310.38 131.20,311.30 C132.37,312.22 133.87,313.18 135.20,314.00 C136.53,314.82 137.70,315.60 139.20,316.20 C140.70,316.80 142.20,317.25 144.20,317.60 C146.20,317.95 148.37,318.17 151.20,318.30 C154.03,318.43 159.53,318.38 161.20,318.40" fill="none" stroke="#7f7f7f" stroke-width="0.85" stroke-linejoin="round"/>
<path d="M61.50,318.40 L61.50,318.40 C62.17,318.35 64.53,318.18 65.50,318.10 C66.47,318.02 66.72,318.12 67.30,317.90 C67.88,317.68 68.42,317.38 69.00,316.80 C69.58,316.22 70.32,315.37 70.80,314.40 C71.28,313.43 71.57,312.30 71.90,311.00 C72.23,309.70 72.53,308.27 72.80,306.60 C73.07,304.93 73.28,302.95 73.50,301.00 C73.72,299.05 73.88,297.07 74.10,294.90 C74.32,292.73 74.57,290.27 74.80,288.00 C75.03,285.73 75.28,283.55 75.50,281.30 C75.72,279.05 75.90,276.77 76.10,274.50 C76.30,272.23 76.50,269.78 76.70,267.70 C76.90,265.62 77.10,263.95 77.30,262.00 C77.50,260.05 77.55,258.00 77.90,256.00 C78.25,254.00 79.00,251.83 79.40,250.00 C79.80,248.17 79.97,246.67 80.30,245.00 C80.63,243.33 81.07,242.23 81.40,240.00 C81.73,237.77 81.95,234.22 82.30,231.60 C82.65,228.98 83.10,226.53 83.50,224.30 C83.90,222.07 84.20,220.22 84.70,218.20 C85.20,216.18 86.02,213.60 86.50,212.20 C86.98,210.80 87.18,210.42 87.60,209.80 C88.02,209.18 88.47,208.67 89.00,208.50 C89.53,208.33 90.20,208.60 90.80,208.80 C91.40,209.00 91.98,209.20 92.60,209.70 C93.22,210.20 93.90,210.98 94.50,211.80 C95.10,212.62 95.65,213.57 96.20,214.60 C96.75,215.63 97.28,216.78 97.80,218.00 C98.32,219.22 98.88,220.65 99.30,221.90 C99.72,223.15 100.00,224.28 100.30,225.50 C100.60,226.72 100.72,227.53 101.10,229.20 C101.48,230.87 102.12,233.53 102.60,235.50 C103.08,237.47 103.52,239.25 104.00,241.00 C104.48,242.75 105.00,244.42 105.50,246.00 C106.00,247.58 106.45,248.92 107.00,250.50 C107.55,252.08 108.22,253.83 108.80,255.50 C109.38,257.17 109.97,258.92 110.50,260.50 C111.03,262.08 111.48,263.42 112.00,265.00 C112.52,266.58 113.07,268.33 113.60,270.00 C114.13,271.67 114.67,273.33 115.20,275.00 C115.73,276.67 116.30,278.33 116.80,280.00 C117.30,281.67 117.70,283.33 118.20,285.00 C118.70,286.67 119.27,288.33 119.80,290.00 C120.33,291.67 120.82,293.33 121.40,295.00 C121.98,296.67 122.57,298.42 123.30,300.00 C124.03,301.58 124.92,303.08 125.80,304.50 C126.68,305.92 127.65,307.37 128.60,308.50 C129.55,309.63 130.35,310.38 131.50,311.30 C132.65,312.22 134.17,313.18 135.50,314.00 C136.83,314.82 138.00,315.60 139.50,316.20 C141.00,316.80 142.58,317.25 144.50,317.60 C146.42,317.95 148.25,318.17 151.00,318.30 C153.75,318.43 159.33,318.38 161.00,318.40 L161.00,318.40 Z" fill="#bcbd22" fill-opacity="0.250" stroke="none"/>
<path d="M61.50,318.40 C62.17,318.35 64.53,318.18 65.50,318.10 C66.47,318.02 66.72,318.12 67.30,317.90 C67.88,317.68 68.42,317.38 69.00,316.80 C69.58,316.22 70.32,315.37 70.80,314.40 C71.28,313.43 71.57,312.30 71.90,311.00 C72.23,309.70 72.53,308.27 72.80,306.60 C73.07,304.93 73.28,302.95 73.50,301.00 C73.72,299.05 73.88,297.07 74.10,294.90 C74.32,292.73 74.57,290.27 74.80,288.00 C75.03,285.73 75.28,283.55 75.50,281.30 C75.72,279.05 75.90,276.77 76.10,274.50 C76.30,272.23 76.50,269.78 76.70,267.70 C76.90,265.62 77.10,263.95 77.30,262.00 C77.50,260.05 77.55,258.00 77.90,256.00 C78.25,254.00 79.00,251.83 79.40,250.00 C79.80,248.17 79.97,246.67 80.30,245.00 C80.63,243.33 81.07,242.23 81.40,240.00 C81.73,237.77 81.95,234.22 82.30,231.60 C82.65,228.98 83.10,226.53 83.50,224.30 C83.90,222.07 84.20,220.22 84.70,218.20 C85.20,216.18 86.02,213.60 86.50,212.20 C86.98,210.80 87.18,210.42 87.60,209.80 C88.02,209.18 88.47,208.67 89.00,208.50 C89.53,208.33 90.20,208.60 90.80,208.80 C91.40,209.00 91.98,209.20 92.60,209.70 C93.22,210.20 93.90,210.98 94.50,211.80 C95.10,212.62 95.65,213.57 96.20,214.60 C96.75,215.63 97.28,216.78 97.80,218.00 C98.32,219.22 98.88,220.65 99.30,221.90 C99.72,223.15 100.00,224.28 100.30,225.50 C100.60,226.72 100.72,227.53 101.10,229.20 C101.48,230.87 102.12,233.53 102.60,235.50 C103.08,237.47 103.52,239.25 104.00,241.00 C104.48,242.75 105.00,244.42 105.50,246.00 C106.00,247.58 106.45,248.92 107.00,250.50 C107.55,252.08 108.22,253.83 108.80,255.50 C109.38,257.17 109.97,258.92 110.50,260.50 C111.03,262.08 111.48,263.42 112.00,265.00 C112.52,266.58 113.07,268.33 113.60,270.00 C114.13,271.67 114.67,273.33 115.20,275.00 C115.73,276.67 116.30,278.33 116.80,280.00 C117.30,281.67 117.70,283.33 118.20,285.00 C118.70,286.67 119.27,288.33 119.80,290.00 C120.33,291.67 120.82,293.33 121.40,295.00 C121.98,296.67 122.57,298.42 123.30,300.00 C124.03,301.58 124.92,303.08 125.80,304.50 C126.68,305.92 127.65,307.37 128.60,308.50 C129.55,309.63 130.35,310.38 131.50,311.30 C132.65,312.22 134.17,313.18 135.50,314.00 C136.83,314.82 138.00,315.60 139.50,316.20 C141.00,316.80 142.58,317.25 144.50,317.60 C146.42,317.95 148.25,318.17 151.00,318.30 C153.75,318.43 159.33,318.38 161.00,318.40" fill="none" stroke="#bcbd22" stroke-width="0.85" stroke-linejoin="round"/>
<path d="M62.10,318.40 L62.10,318.40 C62.77,318.35 65.13,318.18 66.10,318.10 C67.07,318.02 67.32,318.12 67.90,317.90 C68.48,317.68 69.02,317.38 69.60,316.80 C70.18,316.22 70.92,315.37 71.40,314.40 C71.88,313.43 72.17,312.30 72.50,311.00 C72.83,309.70 73.13,308.27 73.40,306.60 C73.67,304.93 73.88,302.95 74.10,301.00 C74.32,299.05 74.48,297.07 74.70,294.90 C74.92,292.73 75.17,290.27 75.40,288.00 C75.63,285.73 75.88,283.55 76.10,281.30 C76.32,279.05 76.50,276.77 76.70,274.50 C76.90,272.23 77.10,269.78 77.30,267.70 C77.50,265.62 77.70,263.95 77.90,262.00 C78.10,260.05 78.28,258.17 78.50,256.00 C78.72,253.83 78.98,251.27 79.20,249.00 C79.42,246.73 79.60,244.65 79.80,242.40 C80.00,240.15 80.20,237.78 80.40,235.50 C80.60,233.22 80.80,231.13 81.00,228.70 C81.20,226.27 81.38,223.73 81.60,220.94 C81.82,218.16 82.02,215.15 82.30,211.99 C82.58,208.83 82.93,204.92 83.30,202.00 C83.67,199.07 84.10,196.48 84.50,194.44 C84.90,192.40 85.30,190.96 85.70,189.76 C86.10,188.56 86.52,188.05 86.90,187.23 C87.28,186.42 87.63,185.53 88.00,184.86 C88.37,184.18 88.73,183.58 89.10,183.20 C89.47,182.83 89.82,182.62 90.20,182.60 C90.58,182.58 91.02,182.72 91.40,183.09 C91.78,183.47 92.18,184.12 92.50,184.86 C92.82,185.59 93.00,186.43 93.30,187.52 C93.60,188.60 93.95,189.99 94.30,191.37 C94.65,192.76 95.02,194.25 95.40,195.84 C95.78,197.43 96.17,199.13 96.60,200.91 C97.03,202.70 97.57,204.59 98.00,206.54 C98.43,208.49 98.82,210.54 99.20,212.61 C99.58,214.69 99.92,216.93 100.30,218.99 C100.68,221.06 101.12,223.17 101.50,225.00 C101.88,226.83 102.22,228.33 102.60,230.00 C102.98,231.67 103.42,233.33 103.80,235.00 C104.18,236.67 104.52,238.33 104.90,240.00 C105.28,241.67 105.70,243.33 106.10,245.00 C106.50,246.67 106.88,248.33 107.30,250.00 C107.72,251.67 108.18,253.33 108.60,255.00 C109.02,256.67 109.40,258.33 109.80,260.00 C110.20,261.67 110.58,263.33 111.00,265.00 C111.42,266.67 111.88,268.33 112.30,270.00 C112.72,271.67 113.00,273.33 113.50,275.00 C114.00,276.67 114.78,278.33 115.30,280.00 C115.82,281.67 116.08,283.33 116.60,285.00 C117.12,286.67 117.83,288.33 118.40,290.00 C118.97,291.67 119.42,293.33 120.00,295.00 C120.58,296.67 121.18,298.42 121.90,300.00 C122.62,301.58 123.43,303.08 124.30,304.50 C125.17,305.92 126.13,307.37 127.10,308.50 C128.07,309.63 128.93,310.38 130.10,311.30 C131.27,312.22 132.77,313.18 134.10,314.00 C135.43,314.82 136.60,315.60 138.10,316.20 C139.60,316.80 141.10,317.25 143.10,317.60 C145.10,317.95 147.27,318.17 150.10,318.30 C152.93,318.43 158.43,318.38 160.10,318.40 L160.10,318.40 Z" fill="#17becf" fill-opacity="0.250" stroke="none"/>
<path d="M62.10,318.40 C62.77,318.35 65.13,318.18 66.10,318.10 C67.07,318.02 67.32,318.12 67.90,317.90 C68.48,317.68 69.02,317.38 69.60,316.80 C70.18,316.22 70.92,315.37 71.40,314.40 C71.88,313.43 72.17,312.30 72.50,311.00 C72.83,309.70 73.13,308.27 73.40,306.60 C73.67,304.93 73.88,302.95 74.10,301.00 C74.32,299.05 74.48,297.07 74.70,294.90 C74.92,292.73 75.17,290.27 75.40,288.00 C75.63,285.73 75.88,283.55 76.10,281.30 C76.32,279.05 76.50,276.77 76.70,274.50 C76.90,272.23 77.10,269.78 77.30,267.70 C77.50,265.62 77.70,263.95 77.90,262.00 C78.10,260.05 78.28,258.17 78.50,256.00 C78.72,253.83 78.98,251.27 79.20,249.00 C79.42,246.73 79.60,244.65 79.80,242.40 C80.00,240.15 80.20,237.78 80.40,235.50 C80.60,233.22 80.80,231.13 81.00,228.70 C81.20,226.27 81.38,223.73 81.60,220.94 C81.82,218.16 82.02,215.15 82.30,211.99 C82.58,208.83 82.93,204.92 83.30,202.00 C83.67,199.07 84.10,196.48 84.50,194.44 C84.90,192.40 85.30,190.96 85.70,189.76 C86.10,188.56 86.52,188.05 86.90,187.23 C87.28,186.42 87.63,185.53 88.00,184.86 C88.37,184.18 88.73,183.58 89.10,183.20 C89.47,182.83 89.82,182.62 90.20,182.60 C90.58,182.58 91.02,182.72 91.40,183.09 C91.78,183.47 92.18,184.12 92.50,184.86 C92.82,185.59 93.00,186.43 93.30,187.52 C93.60,188.60 93.95,189.99 94.30,191.37 C94.65,192.76 95.02,194.25 95.40,195.84 C95.78,197.43 96.17,199.13 96.60,200.91 C97.03,202.70 97.57,204.59 98.00,206.54 C98.43,208.49 98.82,210.54 99.20,212.61 C99.58,214.69 99.92,216.93 100.30,218.99 C100.68,221.06 101.12,223.17 101.50,225.00 C101.88,226.83 102.22,228.33 102.60,230.00 C102.98,231.67 103.42,233.33 103.80,235.00 C104.18,236.67 104.52,238.33 104.90,240.00 C105.28,241.67 105.70,243.33 106.10,245.00 C106.50,246.67 106.88,248.33 107.30,250.00 C107.72,251.67 108.18,253.33 108.60,255.00 C109.02,256.67 109.40,258.33 109.80,260.00 C110.20,261.67 110.58,263.33 111.00,265.00 C111.42,266.67 111.88,268.33 112.30,270.00 C112.72,271.67 113.00,273.33 113.50,275.00 C114.00,276.67 114.78,278.33 115.30,280.00 C115.82,281.67 116.08,283.33 116.60,285.00 C117.12,286.67 117.83,288.33 118.40,290.00 C118.97,291.67 119.42,293.33 120.00,295.00 C120.58,296.67 121.18,298.42 121.90,300.00 C122.62,301.58 123.43,303.08 124.30,304.50 C125.17,305.92 126.13,307.37 127.10,308.50 C128.07,309.63 128.93,310.38 130.10,311.30 C131.27,312.22 132.77,313.18 134.10,314.00 C135.43,314.82 136.60,315.60 138.10,316.20 C139.60,316.80 141.10,317.25 143.10,317.60 C145.10,317.95 147.27,318.17 150.10,318.30 C152.93,318.43 158.43,318.38 160.10,318.40" fill="none" stroke="#17becf" stroke-width="0.85" stroke-linejoin="round"/>
</g>
<line x1="25.40" y1="174.90" x2="25.40" y2="318.40" stroke="#8a8a8a" stroke-width="0.95"/>
<line x1="25.40" y1="318.40" x2="275.00" y2="318.40" stroke="#8a8a8a" stroke-width="0.95"/>
<line x1="23.80" y1="318.40" x2="25.40" y2="318.40" stroke="#8a8a8a" stroke-width="0.95"/>
<line x1="23.80" y1="290.50" x2="25.40" y2="290.50" stroke="#8a8a8a" stroke-width="0.95"/>
<line x1="23.80" y1="262.60" x2="25.40" y2="262.60" stroke="#8a8a8a" stroke-width="0.95"/>
<line x1="23.80" y1="234.70" x2="25.40" y2="234.70" stroke="#8a8a8a" stroke-width="0.95"/>
<line x1="23.80" y1="206.80" x2="25.40" y2="206.80" stroke="#8a8a8a" stroke-width="0.95"/>
<line x1="23.80" y1="178.90" x2="25.40" y2="178.90" stroke="#8a8a8a" stroke-width="0.95"/>
<line x1="53.30" y1="318.40" x2="53.30" y2="320.00" stroke="#8a8a8a" stroke-width="0.95"/>
<line x1="82.60" y1="318.40" x2="82.60" y2="320.00" stroke="#8a8a8a" stroke-width="0.95"/>
<line x1="111.90" y1="318.40" x2="111.90" y2="320.00" stroke="#8a8a8a" stroke-width="0.95"/>
<line x1="141.20" y1="318.40" x2="141.20" y2="320.00" stroke="#8a8a8a" stroke-width="0.95"/>
<line x1="170.50" y1="318.40" x2="170.50" y2="320.00" stroke="#8a8a8a" stroke-width="0.95"/>
<line x1="199.80" y1="318.40" x2="199.80" y2="320.00" stroke="#8a8a8a" stroke-width="0.95"/>
<line x1="229.10" y1="318.40" x2="229.10" y2="320.00" stroke="#8a8a8a" stroke-width="0.95"/>
<line x1="258.40" y1="318.40" x2="258.40" y2="320.00" stroke="#8a8a8a" stroke-width="0.95"/>
<rect x="197.70" y="177.90" width="74.10" height="89.50" rx="1.2" ry="1.2" fill="#fff" fill-opacity="0.8" stroke="#d4d4d4" stroke-opacity="0.8" stroke-width="0.5"/>
<rect x="200.30" y="180.50" width="12.2" height="4.2" fill="#1f77b4" fill-opacity="0.25" stroke="#1f77b4" stroke-width="0.75"/>
<rect x="200.30" y="189.20" width="12.2" height="4.2" fill="#ff7f0e" fill-opacity="0.25" stroke="#ff7f0e" stroke-width="0.75"/>
<rect x="200.30" y="197.90" width="12.2" height="4.2" fill="#2ca02c" fill-opacity="0.25" stroke="#2ca02c" stroke-width="0.75"/>
<rect x="200.30" y="206.60" width="12.2" height="4.2" fill="#d62728" fill-opacity="0.25" stroke="#d62728" stroke-width="0.75"/>
<rect x="200.30" y="215.30" width="12.2" height="4.2" fill="#9467bd" fill-opacity="0.25" stroke="#9467bd" stroke-width="0.75"/>
<rect x="200.30" y="224.00" width="12.2" height="4.2" fill="#8c564b" fill-opacity="0.25" stroke="#8c564b" stroke-width="0.75"/>
<rect x="200.30" y="232.70" width="12.2" height="4.2" fill="#e377c2" fill-opacity="0.25" stroke="#e377c2" stroke-width="0.75"/>
<rect x="200.30" y="241.40" width="12.2" height="4.2" fill="#7f7f7f" fill-opacity="0.25" stroke="#7f7f7f" stroke-width="0.75"/>
<rect x="200.30" y="250.10" width="12.2" height="4.2" fill="#bcbd22" fill-opacity="0.25" stroke="#bcbd22" stroke-width="0.75"/>
<rect x="200.30" y="258.80" width="12.2" height="4.2" fill="#17becf" fill-opacity="0.25" stroke="#17becf" stroke-width="0.75"/>
<clipPath id="c3"><rect x="297.70" y="154.90" width="248.80" height="163.70"/></clipPath>
<g clip-path="url(#c3)">
<path d="M325.00,318.10 L325.00,318.10 C326.67,318.07 331.67,318.03 335.00,317.90 C338.33,317.77 341.67,317.57 345.00,317.30 C348.33,317.03 351.98,316.63 355.00,316.30 C358.02,315.97 360.68,315.82 363.10,315.30 C365.52,314.78 367.73,313.90 369.50,313.20 C371.27,312.50 372.47,311.67 373.70,311.10 C374.93,310.53 375.83,310.43 376.90,309.80 C377.97,309.17 379.03,308.10 380.10,307.30 C381.17,306.50 382.30,305.78 383.30,305.00 C384.30,304.22 385.15,303.33 386.10,302.60 C387.05,301.87 388.08,301.17 389.00,300.60 C389.92,300.03 390.87,299.57 391.60,299.20 C392.33,298.83 392.70,298.42 393.40,298.40 C394.10,298.38 394.90,299.08 395.80,299.10 C396.70,299.12 397.88,299.00 398.80,298.50 C399.72,298.00 400.58,297.18 401.30,296.10 C402.02,295.02 402.50,293.42 403.10,292.00 C403.70,290.58 404.18,289.00 404.90,287.60 C405.62,286.20 406.58,284.62 407.40,283.60 C408.22,282.58 409.00,282.43 409.80,281.50 C410.60,280.57 411.50,279.52 412.20,278.00 C412.90,276.48 413.48,274.07 414.00,272.40 C414.52,270.73 414.92,269.57 415.30,268.00 C415.68,266.43 415.83,265.03 416.30,263.00 C416.77,260.97 417.45,258.22 418.10,255.80 C418.75,253.38 419.50,251.08 420.20,248.50 C420.90,245.92 421.62,243.05 422.30,240.30 C422.98,237.55 423.92,233.88 424.30,232.00 C424.68,230.12 424.32,230.67 424.60,229.00 C424.88,227.33 425.53,224.42 426.00,222.00 C426.47,219.58 426.95,216.83 427.40,214.50 C427.85,212.17 428.23,210.33 428.70,208.00 C429.17,205.67 429.68,202.37 430.20,200.50 C430.72,198.63 431.27,197.05 431.80,196.80 C432.33,196.55 432.87,197.47 433.40,199.00 C433.93,200.53 434.50,203.33 435.00,206.00 C435.50,208.67 435.93,212.45 436.40,215.00 C436.87,217.55 437.33,220.97 437.80,221.30 C438.27,221.63 438.70,219.72 439.20,217.00 C439.70,214.28 440.27,208.92 440.80,205.00 C441.33,201.08 441.87,196.75 442.40,193.50 C442.93,190.25 443.48,187.33 444.00,185.50 C444.52,183.67 445.00,182.42 445.50,182.50 C446.00,182.58 446.47,184.17 447.00,186.00 C447.53,187.83 448.10,191.25 448.70,193.50 C449.30,195.75 449.95,197.37 450.60,199.50 C451.25,201.63 451.97,204.42 452.60,206.30 C453.23,208.18 453.80,210.25 454.40,210.80 C455.00,211.35 455.62,209.87 456.20,209.60 C456.78,209.33 457.43,208.72 457.90,209.20 C458.37,209.68 458.70,211.20 459.00,212.50 C459.30,213.80 459.47,215.42 459.70,217.00 C459.93,218.58 460.12,219.83 460.40,222.00 C460.68,224.17 461.10,227.75 461.40,230.00 C461.70,232.25 461.95,233.67 462.20,235.50 C462.45,237.33 462.63,238.58 462.90,241.00 C463.17,243.42 463.48,246.83 463.80,250.00 C464.12,253.17 464.47,256.67 464.80,260.00 C465.13,263.33 465.50,266.67 465.80,270.00 C466.10,273.33 466.37,277.33 466.60,280.00 C466.83,282.67 467.00,283.50 467.20,286.00 C467.40,288.50 467.57,291.83 467.80,295.00 C468.03,298.17 468.35,302.50 468.60,305.00 C468.85,307.50 468.97,308.40 469.30,310.00 C469.63,311.60 470.07,313.47 470.60,314.60 C471.13,315.73 471.77,316.28 472.50,316.80 C473.23,317.32 473.75,317.48 475.00,317.70 C476.25,317.92 479.17,318.03 480.00,318.10 L480.00,318.10 Z" fill="#1f77b4" fill-opacity="0.250" stroke="none"/>
<path d="M325.00,318.10 C326.67,318.07 331.67,318.03 335.00,317.90 C338.33,317.77 341.67,317.57 345.00,317.30 C348.33,317.03 351.98,316.63 355.00,316.30 C358.02,315.97 360.68,315.82 363.10,315.30 C365.52,314.78 367.73,313.90 369.50,313.20 C371.27,312.50 372.47,311.67 373.70,311.10 C374.93,310.53 375.83,310.43 376.90,309.80 C377.97,309.17 379.03,308.10 380.10,307.30 C381.17,306.50 382.30,305.78 383.30,305.00 C384.30,304.22 385.15,303.33 386.10,302.60 C387.05,301.87 388.08,301.17 389.00,300.60 C389.92,300.03 390.87,299.57 391.60,299.20 C392.33,298.83 392.70,298.42 393.40,298.40 C394.10,298.38 394.90,299.08 395.80,299.10 C396.70,299.12 397.88,299.00 398.80,298.50 C399.72,298.00 400.58,297.18 401.30,296.10 C402.02,295.02 402.50,293.42 403.10,292.00 C403.70,290.58 404.18,289.00 404.90,287.60 C405.62,286.20 406.58,284.62 407.40,283.60 C408.22,282.58 409.00,282.43 409.80,281.50 C410.60,280.57 411.50,279.52 412.20,278.00 C412.90,276.48 413.48,274.07 414.00,272.40 C414.52,270.73 414.92,269.57 415.30,268.00 C415.68,266.43 415.83,265.03 416.30,263.00 C416.77,260.97 417.45,258.22 418.10,255.80 C418.75,253.38 419.50,251.08 420.20,248.50 C420.90,245.92 421.62,243.05 422.30,240.30 C422.98,237.55 423.92,233.88 424.30,232.00 C424.68,230.12 424.32,230.67 424.60,229.00 C424.88,227.33 425.53,224.42 426.00,222.00 C426.47,219.58 426.95,216.83 427.40,214.50 C427.85,212.17 428.23,210.33 428.70,208.00 C429.17,205.67 429.68,202.37 430.20,200.50 C430.72,198.63 431.27,197.05 431.80,196.80 C432.33,196.55 432.87,197.47 433.40,199.00 C433.93,200.53 434.50,203.33 435.00,206.00 C435.50,208.67 435.93,212.45 436.40,215.00 C436.87,217.55 437.33,220.97 437.80,221.30 C438.27,221.63 438.70,219.72 439.20,217.00 C439.70,214.28 440.27,208.92 440.80,205.00 C441.33,201.08 441.87,196.75 442.40,193.50 C442.93,190.25 443.48,187.33 444.00,185.50 C444.52,183.67 445.00,182.42 445.50,182.50 C446.00,182.58 446.47,184.17 447.00,186.00 C447.53,187.83 448.10,191.25 448.70,193.50 C449.30,195.75 449.95,197.37 450.60,199.50 C451.25,201.63 451.97,204.42 452.60,206.30 C453.23,208.18 453.80,210.25 454.40,210.80 C455.00,211.35 455.62,209.87 456.20,209.60 C456.78,209.33 457.43,208.72 457.90,209.20 C458.37,209.68 458.70,211.20 459.00,212.50 C459.30,213.80 459.47,215.42 459.70,217.00 C459.93,218.58 460.12,219.83 460.40,222.00 C460.68,224.17 461.10,227.75 461.40,230.00 C461.70,232.25 461.95,233.67 462.20,235.50 C462.45,237.33 462.63,238.58 462.90,241.00 C463.17,243.42 463.48,246.83 463.80,250.00 C464.12,253.17 464.47,256.67 464.80,260.00 C465.13,263.33 465.50,266.67 465.80,270.00 C466.10,273.33 466.37,277.33 466.60,280.00 C466.83,282.67 467.00,283.50 467.20,286.00 C467.40,288.50 467.57,291.83 467.80,295.00 C468.03,298.17 468.35,302.50 468.60,305.00 C468.85,307.50 468.97,308.40 469.30,310.00 C469.63,311.60 470.07,313.47 470.60,314.60 C471.13,315.73 471.77,316.28 472.50,316.80 C473.23,317.32 473.75,317.48 475.00,317.70 C476.25,317.92 479.17,318.03 480.00,318.10" fill="none" stroke="#1f77b4" stroke-width="0.85" stroke-linejoin="round"/>
<path d="M300.00,318.10 L300.00,318.10 C301.67,318.12 307.17,318.23 310.00,318.20 C312.83,318.17 315.17,318.05 317.00,317.90 C318.83,317.75 319.78,317.55 321.00,317.30 C322.22,317.05 323.13,316.92 324.30,316.40 C325.47,315.88 326.78,315.17 328.00,314.20 C329.22,313.23 330.55,311.93 331.60,310.60 C332.65,309.27 333.48,307.77 334.30,306.20 C335.12,304.63 335.80,303.00 336.50,301.20 C337.20,299.40 337.90,297.37 338.50,295.40 C339.10,293.43 339.60,291.30 340.10,289.40 C340.60,287.50 341.05,285.67 341.50,284.00 C341.95,282.33 342.28,281.02 342.80,279.40 C343.32,277.78 344.00,275.77 344.60,274.30 C345.20,272.83 345.87,272.15 346.40,270.60 C346.93,269.05 347.38,267.10 347.80,265.00 C348.22,262.90 348.57,260.50 348.90,258.00 C349.23,255.50 349.52,253.00 349.80,250.00 C350.08,247.00 350.30,243.67 350.60,240.00 C350.90,236.33 351.23,232.00 351.60,228.00 C351.97,224.00 352.43,219.83 352.80,216.00 C353.17,212.17 353.43,208.33 353.80,205.00 C354.17,201.67 354.60,198.47 355.00,196.00 C355.40,193.53 355.82,191.48 356.20,190.20 C356.58,188.92 356.93,188.37 357.30,188.30 C357.67,188.23 358.00,188.68 358.40,189.80 C358.80,190.92 359.23,192.72 359.70,195.00 C360.17,197.28 360.68,200.58 361.20,203.50 C361.72,206.42 362.28,209.83 362.80,212.50 C363.32,215.17 363.85,217.87 364.30,219.50 C364.75,221.13 365.10,222.22 365.50,222.30 C365.90,222.38 366.27,221.72 366.70,220.00 C367.13,218.28 367.63,214.92 368.10,212.00 C368.57,209.08 369.03,205.42 369.50,202.50 C369.97,199.58 370.48,196.58 370.90,194.50 C371.32,192.42 371.67,190.90 372.00,190.00 C372.33,189.10 372.58,188.85 372.90,189.10 C373.22,189.35 373.53,190.02 373.90,191.50 C374.27,192.98 374.68,195.42 375.10,198.00 C375.52,200.58 375.97,203.92 376.40,207.00 C376.83,210.08 377.27,213.50 377.70,216.50 C378.13,219.50 378.62,222.52 379.00,225.00 C379.38,227.48 379.67,229.27 380.00,231.40 C380.33,233.53 380.57,235.68 381.00,237.80 C381.43,239.92 381.97,242.33 382.60,244.10 C383.23,245.87 384.00,246.97 384.80,248.40 C385.60,249.83 386.52,251.28 387.40,252.70 C388.28,254.12 389.38,255.65 390.10,256.90 C390.82,258.15 391.22,258.85 391.70,260.20 C392.18,261.55 392.53,263.43 393.00,265.00 C393.47,266.57 393.75,267.82 394.50,269.60 C395.25,271.38 396.58,273.77 397.50,275.70 C398.42,277.63 399.25,279.68 400.00,281.20 C400.75,282.72 401.30,283.70 402.00,284.80 C402.70,285.90 403.20,286.50 404.20,287.80 C405.20,289.10 406.63,290.97 408.00,292.60 C409.37,294.23 410.98,296.00 412.40,297.60 C413.82,299.20 415.13,300.75 416.50,302.20 C417.87,303.65 419.18,305.10 420.60,306.30 C422.02,307.50 423.20,308.38 425.00,309.40 C426.80,310.42 428.90,311.42 431.40,312.40 C433.90,313.38 436.90,314.53 440.00,315.30 C443.10,316.07 446.33,316.57 450.00,317.00 C453.67,317.43 457.00,317.72 462.00,317.90 C467.00,318.08 477.00,318.07 480.00,318.10 L480.00,318.10 Z" fill="#ff7f0e" fill-opacity="0.250" stroke="none"/>
<path d="M300.00,318.10 C301.67,318.12 307.17,318.23 310.00,318.20 C312.83,318.17 315.17,318.05 317.00,317.90 C318.83,317.75 319.78,317.55 321.00,317.30 C322.22,317.05 323.13,316.92 324.30,316.40 C325.47,315.88 326.78,315.17 328.00,314.20 C329.22,313.23 330.55,311.93 331.60,310.60 C332.65,309.27 333.48,307.77 334.30,306.20 C335.12,304.63 335.80,303.00 336.50,301.20 C337.20,299.40 337.90,297.37 338.50,295.40 C339.10,293.43 339.60,291.30 340.10,289.40 C340.60,287.50 341.05,285.67 341.50,284.00 C341.95,282.33 342.28,281.02 342.80,279.40 C343.32,277.78 344.00,275.77 344.60,274.30 C345.20,272.83 345.87,272.15 346.40,270.60 C346.93,269.05 347.38,267.10 347.80,265.00 C348.22,262.90 348.57,260.50 348.90,258.00 C349.23,255.50 349.52,253.00 349.80,250.00 C350.08,247.00 350.30,243.67 350.60,240.00 C350.90,236.33 351.23,232.00 351.60,228.00 C351.97,224.00 352.43,219.83 352.80,216.00 C353.17,212.17 353.43,208.33 353.80,205.00 C354.17,201.67 354.60,198.47 355.00,196.00 C355.40,193.53 355.82,191.48 356.20,190.20 C356.58,188.92 356.93,188.37 357.30,188.30 C357.67,188.23 358.00,188.68 358.40,189.80 C358.80,190.92 359.23,192.72 359.70,195.00 C360.17,197.28 360.68,200.58 361.20,203.50 C361.72,206.42 362.28,209.83 362.80,212.50 C363.32,215.17 363.85,217.87 364.30,219.50 C364.75,221.13 365.10,222.22 365.50,222.30 C365.90,222.38 366.27,221.72 366.70,220.00 C367.13,218.28 367.63,214.92 368.10,212.00 C368.57,209.08 369.03,205.42 369.50,202.50 C369.97,199.58 370.48,196.58 370.90,194.50 C371.32,192.42 371.67,190.90 372.00,190.00 C372.33,189.10 372.58,188.85 372.90,189.10 C373.22,189.35 373.53,190.02 373.90,191.50 C374.27,192.98 374.68,195.42 375.10,198.00 C375.52,200.58 375.97,203.92 376.40,207.00 C376.83,210.08 377.27,213.50 377.70,216.50 C378.13,219.50 378.62,222.52 379.00,225.00 C379.38,227.48 379.67,229.27 380.00,231.40 C380.33,233.53 380.57,235.68 381.00,237.80 C381.43,239.92 381.97,242.33 382.60,244.10 C383.23,245.87 384.00,246.97 384.80,248.40 C385.60,249.83 386.52,251.28 387.40,252.70 C388.28,254.12 389.38,255.65 390.10,256.90 C390.82,258.15 391.22,258.85 391.70,260.20 C392.18,261.55 392.53,263.43 393.00,265.00 C393.47,266.57 393.75,267.82 394.50,269.60 C395.25,271.38 396.58,273.77 397.50,275.70 C398.42,277.63 399.25,279.68 400.00,281.20 C400.75,282.72 401.30,283.70 402.00,284.80 C402.70,285.90 403.20,286.50 404.20,287.80 C405.20,289.10 406.63,290.97 408.00,292.60 C409.37,294.23 410.98,296.00 412.40,297.60 C413.82,299.20 415.13,300.75 416.50,302.20 C417.87,303.65 419.18,305.10 420.60,306.30 C422.02,307.50 423.20,308.38 425.00,309.40 C426.80,310.42 428.90,311.42 431.40,312.40 C433.90,313.38 436.90,314.53 440.00,315.30 C443.10,316.07 446.33,316.57 450.00,317.00 C453.67,317.43 457.00,317.72 462.00,317.90 C467.00,318.08 477.00,318.07 480.00,318.10" fill="none" stroke="#ff7f0e" stroke-width="0.85" stroke-linejoin="round"/>
<path d="M325.00,318.10 L325.00,318.10 C326.17,318.02 329.50,317.93 332.00,317.60 C334.50,317.27 337.25,316.73 340.00,316.10 C342.75,315.47 346.50,314.48 348.50,313.80 C350.50,313.12 350.93,312.70 352.00,312.00 C353.07,311.30 353.90,310.63 354.90,309.60 C355.90,308.57 356.93,307.22 358.00,305.80 C359.07,304.38 360.30,302.60 361.30,301.10 C362.30,299.60 363.12,298.22 364.00,296.80 C364.88,295.38 365.80,294.00 366.60,292.60 C367.40,291.20 368.08,289.82 368.80,288.40 C369.52,286.98 370.20,285.42 370.90,284.10 C371.60,282.78 372.30,281.57 373.00,280.50 C373.70,279.43 374.32,278.57 375.10,277.70 C375.88,276.83 376.82,276.02 377.70,275.30 C378.58,274.58 379.23,274.08 380.40,273.40 C381.57,272.72 383.43,272.00 384.70,271.20 C385.97,270.40 386.93,269.47 388.00,268.60 C389.07,267.73 390.13,266.90 391.10,266.00 C392.07,265.10 392.92,264.07 393.80,263.20 C394.68,262.33 395.37,261.45 396.40,260.80 C397.43,260.15 398.73,259.88 400.00,259.30 C401.27,258.72 402.83,257.85 404.00,257.30 C405.17,256.75 405.83,256.58 407.00,256.00 C408.17,255.42 409.63,254.58 411.00,253.80 C412.37,253.02 413.60,252.10 415.20,251.30 C416.80,250.50 418.97,250.47 420.60,249.00 C422.23,247.53 423.43,244.27 425.00,242.50 C426.57,240.73 428.17,238.57 430.00,238.40 C431.83,238.23 433.93,240.17 436.00,241.50 C438.07,242.83 440.65,244.95 442.40,246.40 C444.15,247.85 445.13,248.83 446.50,250.20 C447.87,251.57 449.27,252.30 450.60,254.60 C451.93,256.90 453.27,260.60 454.50,264.00 C455.73,267.40 456.83,271.17 458.00,275.00 C459.17,278.83 460.47,283.25 461.50,287.00 C462.53,290.75 463.28,294.42 464.20,297.50 C465.12,300.58 466.08,303.17 467.00,305.50 C467.92,307.83 468.70,309.82 469.70,311.50 C470.70,313.18 471.62,314.58 473.00,315.60 C474.38,316.62 476.00,317.18 478.00,317.60 C480.00,318.02 483.83,318.02 485.00,318.10 L485.00,318.10 Z" fill="#2ca02c" fill-opacity="0.250" stroke="none"/>
<path d="M325.00,318.10 C326.17,318.02 329.50,317.93 332.00,317.60 C334.50,317.27 337.25,316.73 340.00,316.10 C342.75,315.47 346.50,314.48 348.50,313.80 C350.50,313.12 350.93,312.70 352.00,312.00 C353.07,311.30 353.90,310.63 354.90,309.60 C355.90,308.57 356.93,307.22 358.00,305.80 C359.07,304.38 360.30,302.60 361.30,301.10 C362.30,299.60 363.12,298.22 364.00,296.80 C364.88,295.38 365.80,294.00 366.60,292.60 C367.40,291.20 368.08,289.82 368.80,288.40 C369.52,286.98 370.20,285.42 370.90,284.10 C371.60,282.78 372.30,281.57 373.00,280.50 C373.70,279.43 374.32,278.57 375.10,277.70 C375.88,276.83 376.82,276.02 377.70,275.30 C378.58,274.58 379.23,274.08 380.40,273.40 C381.57,272.72 383.43,272.00 384.70,271.20 C385.97,270.40 386.93,269.47 388.00,268.60 C389.07,267.73 390.13,266.90 391.10,266.00 C392.07,265.10 392.92,264.07 393.80,263.20 C394.68,262.33 395.37,261.45 396.40,260.80 C397.43,260.15 398.73,259.88 400.00,259.30 C401.27,258.72 402.83,257.85 404.00,257.30 C405.17,256.75 405.83,256.58 407.00,256.00 C408.17,255.42 409.63,254.58 411.00,253.80 C412.37,253.02 413.60,252.10 415.20,251.30 C416.80,250.50 418.97,250.47 420.60,249.00 C422.23,247.53 423.43,244.27 425.00,242.50 C426.57,240.73 428.17,238.57 430.00,238.40 C431.83,238.23 433.93,240.17 436.00,241.50 C438.07,242.83 440.65,244.95 442.40,246.40 C444.15,247.85 445.13,248.83 446.50,250.20 C447.87,251.57 449.27,252.30 450.60,254.60 C451.93,256.90 453.27,260.60 454.50,264.00 C455.73,267.40 456.83,271.17 458.00,275.00 C459.17,278.83 460.47,283.25 461.50,287.00 C462.53,290.75 463.28,294.42 464.20,297.50 C465.12,300.58 466.08,303.17 467.00,305.50 C467.92,307.83 468.70,309.82 469.70,311.50 C470.70,313.18 471.62,314.58 473.00,315.60 C474.38,316.62 476.00,317.18 478.00,317.60 C480.00,318.02 483.83,318.02 485.00,318.10" fill="none" stroke="#2ca02c" stroke-width="0.85" stroke-linejoin="round"/>
<path d="M290.00,318.10 L290.00,312.80 C291.28,312.52 296.03,311.47 297.70,311.10 C299.37,310.73 298.45,310.97 300.00,310.60 C301.55,310.23 304.57,309.50 307.00,308.90 C309.43,308.30 312.10,307.65 314.60,307.00 C317.10,306.35 319.57,305.70 322.00,305.00 C324.43,304.30 326.87,303.55 329.20,302.80 C331.53,302.05 334.20,301.13 336.00,300.50 C337.80,299.87 338.33,299.52 340.00,299.00 C341.67,298.48 343.87,298.02 346.00,297.40 C348.13,296.78 350.63,296.03 352.80,295.30 C354.97,294.57 356.88,293.78 359.00,293.00 C361.12,292.22 363.35,291.47 365.50,290.60 C367.65,289.73 369.98,288.73 371.90,287.80 C373.82,286.87 375.27,286.00 377.00,285.00 C378.73,284.00 380.20,282.92 382.30,281.80 C384.40,280.68 387.17,279.52 389.60,278.30 C392.03,277.08 394.67,275.92 396.90,274.50 C399.13,273.08 401.18,271.32 403.00,269.80 C404.82,268.28 406.18,266.93 407.80,265.40 C409.42,263.87 411.27,262.10 412.70,260.60 C414.13,259.10 415.15,257.78 416.40,256.40 C417.65,255.02 419.02,253.33 420.20,252.30 C421.38,251.27 422.70,250.67 423.50,250.20 C424.30,249.73 424.33,249.70 425.00,249.50 C425.67,249.30 426.58,248.92 427.50,249.00 C428.42,249.08 429.33,249.40 430.50,250.00 C431.67,250.60 432.98,251.40 434.50,252.60 C436.02,253.80 438.02,255.92 439.60,257.20 C441.18,258.48 442.63,259.33 444.00,260.30 C445.37,261.27 446.67,261.80 447.80,263.00 C448.93,264.20 449.80,265.78 450.80,267.50 C451.80,269.22 452.85,271.30 453.80,273.30 C454.75,275.30 455.67,277.60 456.50,279.50 C457.33,281.40 457.95,282.62 458.80,284.70 C459.65,286.78 460.65,289.62 461.60,292.00 C462.55,294.38 463.55,296.87 464.50,299.00 C465.45,301.13 466.43,303.08 467.30,304.80 C468.17,306.52 468.83,307.83 469.70,309.30 C470.57,310.77 471.45,312.40 472.50,313.60 C473.55,314.80 474.58,315.80 476.00,316.50 C477.42,317.20 478.67,317.53 481.00,317.80 C483.33,318.07 488.50,318.05 490.00,318.10 L490.00,318.10 Z" fill="#d62728" fill-opacity="0.250" stroke="none"/>
<path d="M290.00,312.80 C291.28,312.52 296.03,311.47 297.70,311.10 C299.37,310.73 298.45,310.97 300.00,310.60 C301.55,310.23 304.57,309.50 307.00,308.90 C309.43,308.30 312.10,307.65 314.60,307.00 C317.10,306.35 319.57,305.70 322.00,305.00 C324.43,304.30 326.87,303.55 329.20,302.80 C331.53,302.05 334.20,301.13 336.00,300.50 C337.80,299.87 338.33,299.52 340.00,299.00 C341.67,298.48 343.87,298.02 346.00,297.40 C348.13,296.78 350.63,296.03 352.80,295.30 C354.97,294.57 356.88,293.78 359.00,293.00 C361.12,292.22 363.35,291.47 365.50,290.60 C367.65,289.73 369.98,288.73 371.90,287.80 C373.82,286.87 375.27,286.00 377.00,285.00 C378.73,284.00 380.20,282.92 382.30,281.80 C384.40,280.68 387.17,279.52 389.60,278.30 C392.03,277.08 394.67,275.92 396.90,274.50 C399.13,273.08 401.18,271.32 403.00,269.80 C404.82,268.28 406.18,266.93 407.80,265.40 C409.42,263.87 411.27,262.10 412.70,260.60 C414.13,259.10 415.15,257.78 416.40,256.40 C417.65,255.02 419.02,253.33 420.20,252.30 C421.38,251.27 422.70,250.67 423.50,250.20 C424.30,249.73 424.33,249.70 425.00,249.50 C425.67,249.30 426.58,248.92 427.50,249.00 C428.42,249.08 429.33,249.40 430.50,250.00 C431.67,250.60 432.98,251.40 434.50,252.60 C436.02,253.80 438.02,255.92 439.60,257.20 C441.18,258.48 442.63,259.33 444.00,260.30 C445.37,261.27 446.67,261.80 447.80,263.00 C448.93,264.20 449.80,265.78 450.80,267.50 C451.80,269.22 452.85,271.30 453.80,273.30 C454.75,275.30 455.67,277.60 456.50,279.50 C457.33,281.40 457.95,282.62 458.80,284.70 C459.65,286.78 460.65,289.62 461.60,292.00 C462.55,294.38 463.55,296.87 464.50,299.00 C465.45,301.13 466.43,303.08 467.30,304.80 C468.17,306.52 468.83,307.83 469.70,309.30 C470.57,310.77 471.45,312.40 472.50,313.60 C473.55,314.80 474.58,315.80 476.00,316.50 C477.42,317.20 478.67,317.53 481.00,317.80 C483.33,318.07 488.50,318.05 490.00,318.10" fill="none" stroke="#d62728" stroke-width="0.85" stroke-linejoin="round"/>
<path d="M325.30,318.10 L325.30,318.10 C326.97,318.07 331.97,318.03 335.30,317.90 C338.63,317.77 341.97,317.57 345.30,317.30 C348.63,317.04 352.28,316.64 355.30,316.31 C358.32,315.98 360.98,315.83 363.40,315.31 C365.82,314.80 368.03,313.92 369.80,313.22 C371.57,312.53 372.77,311.70 374.00,311.14 C375.23,310.57 376.13,310.47 377.20,309.84 C378.27,309.21 379.33,308.15 380.40,307.35 C381.47,306.56 382.60,305.84 383.60,305.07 C384.60,304.29 385.45,303.41 386.40,302.68 C387.35,301.95 388.38,301.25 389.30,300.69 C390.22,300.12 391.17,299.66 391.90,299.29 C392.63,298.93 393.00,298.52 393.70,298.50 C394.40,298.48 395.20,299.18 396.10,299.20 C397.00,299.21 398.18,299.10 399.10,298.60 C400.02,298.10 400.88,297.29 401.60,296.21 C402.32,295.13 402.80,293.54 403.40,292.13 C404.00,290.72 404.48,289.15 405.20,287.75 C405.92,286.36 406.88,284.78 407.70,283.77 C408.52,282.76 409.30,282.61 410.10,281.68 C410.90,280.75 411.80,279.71 412.50,278.20 C413.20,276.69 413.78,274.29 414.30,272.63 C414.82,270.97 415.22,269.81 415.60,268.25 C415.98,266.69 416.13,265.30 416.60,263.28 C417.07,261.25 417.75,258.52 418.40,256.11 C419.05,253.71 419.80,251.42 420.50,248.85 C421.20,246.28 421.92,243.43 422.60,240.69 C423.28,237.95 424.22,234.30 424.60,232.43 C424.98,230.56 424.62,231.10 424.90,229.45 C425.18,227.79 425.83,224.89 426.30,222.48 C426.77,220.08 427.25,217.34 427.70,215.02 C428.15,212.70 428.53,210.87 429.00,208.55 C429.47,206.23 429.98,202.95 430.50,201.09 C431.02,199.23 431.57,197.66 432.10,197.41 C432.63,197.16 433.17,198.07 433.70,199.60 C434.23,201.12 434.80,203.91 435.30,206.56 C435.80,209.21 436.23,212.98 436.70,215.52 C437.17,218.05 437.63,221.45 438.10,221.78 C438.57,222.12 439.00,220.21 439.50,217.51 C440.00,214.80 440.57,209.46 441.10,205.57 C441.63,201.67 442.17,197.36 442.70,194.12 C443.23,190.89 443.78,187.99 444.30,186.16 C444.82,184.34 445.30,183.10 445.80,183.18 C446.30,183.26 446.77,184.84 447.30,186.66 C447.83,188.48 448.40,191.88 449.00,194.12 C449.60,196.36 450.25,197.97 450.90,200.09 C451.55,202.22 452.27,204.99 452.90,206.86 C453.53,208.73 454.10,210.79 454.70,211.34 C455.30,211.88 455.92,210.41 456.50,210.14 C457.08,209.88 457.73,209.26 458.20,209.74 C458.67,210.23 459.00,211.73 459.30,213.03 C459.60,214.32 459.77,215.93 460.00,217.51 C460.23,219.08 460.42,220.32 460.70,222.48 C460.98,224.64 461.40,228.20 461.70,230.44 C462.00,232.68 462.25,234.09 462.50,235.91 C462.75,237.74 462.93,238.98 463.20,241.39 C463.47,243.79 463.78,247.19 464.10,250.34 C464.42,253.49 464.77,256.97 465.10,260.29 C465.43,263.61 465.80,266.92 466.10,270.24 C466.40,273.56 466.67,277.54 466.90,280.19 C467.13,282.84 467.30,283.67 467.50,286.16 C467.70,288.65 467.87,291.96 468.10,295.12 C468.33,298.27 468.65,302.58 468.90,305.07 C469.15,307.55 469.27,308.45 469.60,310.04 C469.93,311.63 470.37,313.49 470.90,314.62 C471.43,315.75 472.07,316.29 472.80,316.81 C473.53,317.32 474.05,317.49 475.30,317.70 C476.55,317.92 479.47,318.03 480.30,318.10 L480.30,318.10 Z" fill="#9467bd" fill-opacity="0.250" stroke="none"/>
<path d="M325.30,318.10 C326.97,318.07 331.97,318.03 335.30,317.90 C338.63,317.77 341.97,317.57 345.30,317.30 C348.63,317.04 352.28,316.64 355.30,316.31 C358.32,315.98 360.98,315.83 363.40,315.31 C365.82,314.80 368.03,313.92 369.80,313.22 C371.57,312.53 372.77,311.70 374.00,311.14 C375.23,310.57 376.13,310.47 377.20,309.84 C378.27,309.21 379.33,308.15 380.40,307.35 C381.47,306.56 382.60,305.84 383.60,305.07 C384.60,304.29 385.45,303.41 386.40,302.68 C387.35,301.95 388.38,301.25 389.30,300.69 C390.22,300.12 391.17,299.66 391.90,299.29 C392.63,298.93 393.00,298.52 393.70,298.50 C394.40,298.48 395.20,299.18 396.10,299.20 C397.00,299.21 398.18,299.10 399.10,298.60 C400.02,298.10 400.88,297.29 401.60,296.21 C402.32,295.13 402.80,293.54 403.40,292.13 C404.00,290.72 404.48,289.15 405.20,287.75 C405.92,286.36 406.88,284.78 407.70,283.77 C408.52,282.76 409.30,282.61 410.10,281.68 C410.90,280.75 411.80,279.71 412.50,278.20 C413.20,276.69 413.78,274.29 414.30,272.63 C414.82,270.97 415.22,269.81 415.60,268.25 C415.98,266.69 416.13,265.30 416.60,263.28 C417.07,261.25 417.75,258.52 418.40,256.11 C419.05,253.71 419.80,251.42 420.50,248.85 C421.20,246.28 421.92,243.43 422.60,240.69 C423.28,237.95 424.22,234.30 424.60,232.43 C424.98,230.56 424.62,231.10 424.90,229.45 C425.18,227.79 425.83,224.89 426.30,222.48 C426.77,220.08 427.25,217.34 427.70,215.02 C428.15,212.70 428.53,210.87 429.00,208.55 C429.47,206.23 429.98,202.95 430.50,201.09 C431.02,199.23 431.57,197.66 432.10,197.41 C432.63,197.16 433.17,198.07 433.70,199.60 C434.23,201.12 434.80,203.91 435.30,206.56 C435.80,209.21 436.23,212.98 436.70,215.52 C437.17,218.05 437.63,221.45 438.10,221.78 C438.57,222.12 439.00,220.21 439.50,217.51 C440.00,214.80 440.57,209.46 441.10,205.57 C441.63,201.67 442.17,197.36 442.70,194.12 C443.23,190.89 443.78,187.99 444.30,186.16 C444.82,184.34 445.30,183.10 445.80,183.18 C446.30,183.26 446.77,184.84 447.30,186.66 C447.83,188.48 448.40,191.88 449.00,194.12 C449.60,196.36 450.25,197.97 450.90,200.09 C451.55,202.22 452.27,204.99 452.90,206.86 C453.53,208.73 454.10,210.79 454.70,211.34 C455.30,211.88 455.92,210.41 456.50,210.14 C457.08,209.88 457.73,209.26 458.20,209.74 C458.67,210.23 459.00,211.73 459.30,213.03 C459.60,214.32 459.77,215.93 460.00,217.51 C460.23,219.08 460.42,220.32 460.70,222.48 C460.98,224.64 461.40,228.20 461.70,230.44 C462.00,232.68 462.25,234.09 462.50,235.91 C462.75,237.74 462.93,238.98 463.20,241.39 C463.47,243.79 463.78,247.19 464.10,250.34 C464.42,253.49 464.77,256.97 465.10,260.29 C465.43,263.61 465.80,266.92 466.10,270.24 C466.40,273.56 466.67,277.54 466.90,280.19 C467.13,282.84 467.30,283.67 467.50,286.16 C467.70,288.65 467.87,291.96 468.10,295.12 C468.33,298.27 468.65,302.58 468.90,305.07 C469.15,307.55 469.27,308.45 469.60,310.04 C469.93,311.63 470.37,313.49 470.90,314.62 C471.43,315.75 472.07,316.29 472.80,316.81 C473.53,317.32 474.05,317.49 475.30,317.70 C476.55,317.92 479.47,318.03 480.30,318.10" fill="none" stroke="#9467bd" stroke-width="0.85" stroke-linejoin="round"/>
<path d="M325.10,318.10 L325.10,318.10 C326.77,318.07 331.77,318.03 335.10,317.90 C338.43,317.77 341.77,317.57 345.10,317.31 C348.43,317.05 352.08,316.66 355.10,316.33 C358.12,316.00 360.78,315.85 363.20,315.34 C365.62,314.83 367.83,313.96 369.60,313.27 C371.37,312.58 372.57,311.76 373.80,311.21 C375.03,310.65 375.93,310.55 377.00,309.92 C378.07,309.30 379.13,308.25 380.20,307.46 C381.27,306.67 382.40,305.97 383.40,305.20 C384.40,304.42 385.25,303.55 386.20,302.83 C387.15,302.11 388.18,301.42 389.10,300.86 C390.02,300.30 390.97,299.84 391.70,299.48 C392.43,299.12 392.80,298.71 393.50,298.70 C394.20,298.68 395.00,299.37 395.90,299.39 C396.80,299.40 397.98,299.29 398.90,298.79 C399.82,298.30 400.68,297.50 401.40,296.43 C402.12,295.36 402.60,293.79 403.20,292.39 C403.80,291.00 404.28,289.44 405.00,288.06 C405.72,286.68 406.68,285.12 407.50,284.12 C408.32,283.12 409.10,282.97 409.90,282.05 C410.70,281.13 411.60,280.10 412.30,278.60 C413.00,277.11 413.58,274.73 414.10,273.09 C414.62,271.44 415.02,270.29 415.40,268.75 C415.78,267.21 415.93,265.83 416.40,263.83 C416.87,261.82 417.55,259.11 418.20,256.73 C418.85,254.35 419.60,252.09 420.30,249.54 C421.00,247.00 421.72,244.18 422.40,241.47 C423.08,238.76 424.02,235.15 424.40,233.29 C424.78,231.44 424.42,231.98 424.70,230.34 C424.98,228.69 425.63,225.82 426.10,223.44 C426.57,221.06 427.05,218.35 427.50,216.05 C427.95,213.76 428.33,211.95 428.80,209.65 C429.27,207.35 429.78,204.10 430.30,202.26 C430.82,200.43 431.37,198.87 431.90,198.62 C432.43,198.37 432.97,199.28 433.50,200.79 C434.03,202.30 434.60,205.05 435.10,207.68 C435.60,210.31 436.03,214.03 436.50,216.55 C436.97,219.06 437.43,222.42 437.90,222.75 C438.37,223.08 438.80,221.19 439.30,218.52 C439.80,215.84 440.37,210.55 440.90,206.70 C441.43,202.84 441.97,198.57 442.50,195.37 C443.03,192.17 443.58,189.29 444.10,187.49 C444.62,185.68 445.10,184.45 445.60,184.53 C446.10,184.62 446.57,186.18 447.10,187.98 C447.63,189.79 448.20,193.15 448.80,195.37 C449.40,197.59 450.05,199.18 450.70,201.28 C451.35,203.38 452.07,206.12 452.70,207.98 C453.33,209.83 453.90,211.87 454.50,212.41 C455.10,212.95 455.72,211.49 456.30,211.23 C456.88,210.96 457.53,210.36 458.00,210.83 C458.47,211.31 458.80,212.80 459.10,214.08 C459.40,215.36 459.57,216.96 459.80,218.52 C460.03,220.08 460.22,221.31 460.50,223.44 C460.78,225.58 461.20,229.11 461.50,231.32 C461.80,233.54 462.05,234.93 462.30,236.74 C462.55,238.54 462.73,239.78 463.00,242.16 C463.27,244.54 463.58,247.90 463.90,251.02 C464.22,254.14 464.57,257.59 464.90,260.87 C465.23,264.15 465.60,267.44 465.90,270.72 C466.20,274.00 466.47,277.94 466.70,280.57 C466.93,283.20 467.10,284.02 467.30,286.48 C467.50,288.94 467.67,292.23 467.90,295.35 C468.13,298.47 468.45,302.73 468.70,305.20 C468.95,307.66 469.07,308.55 469.40,310.12 C469.73,311.70 470.17,313.54 470.70,314.65 C471.23,315.77 471.87,316.31 472.60,316.82 C473.33,317.33 473.85,317.49 475.10,317.71 C476.35,317.92 479.27,318.03 480.10,318.10 L480.10,318.10 Z" fill="#8c564b" fill-opacity="0.250" stroke="none"/>
<path d="M325.10,318.10 C326.77,318.07 331.77,318.03 335.10,317.90 C338.43,317.77 341.77,317.57 345.10,317.31 C348.43,317.05 352.08,316.66 355.10,316.33 C358.12,316.00 360.78,315.85 363.20,315.34 C365.62,314.83 367.83,313.96 369.60,313.27 C371.37,312.58 372.57,311.76 373.80,311.21 C375.03,310.65 375.93,310.55 377.00,309.92 C378.07,309.30 379.13,308.25 380.20,307.46 C381.27,306.67 382.40,305.97 383.40,305.20 C384.40,304.42 385.25,303.55 386.20,302.83 C387.15,302.11 388.18,301.42 389.10,300.86 C390.02,300.30 390.97,299.84 391.70,299.48 C392.43,299.12 392.80,298.71 393.50,298.70 C394.20,298.68 395.00,299.37 395.90,299.39 C396.80,299.40 397.98,299.29 398.90,298.79 C399.82,298.30 400.68,297.50 401.40,296.43 C402.12,295.36 402.60,293.79 403.20,292.39 C403.80,291.00 404.28,289.44 405.00,288.06 C405.72,286.68 406.68,285.12 407.50,284.12 C408.32,283.12 409.10,282.97 409.90,282.05 C410.70,281.13 411.60,280.10 412.30,278.60 C413.00,277.11 413.58,274.73 414.10,273.09 C414.62,271.44 415.02,270.29 415.40,268.75 C415.78,267.21 415.93,265.83 416.40,263.83 C416.87,261.82 417.55,259.11 418.20,256.73 C418.85,254.35 419.60,252.09 420.30,249.54 C421.00,247.00 421.72,244.18 422.40,241.47 C423.08,238.76 424.02,235.15 424.40,233.29 C424.78,231.44 424.42,231.98 424.70,230.34 C424.98,228.69 425.63,225.82 426.10,223.44 C426.57,221.06 427.05,218.35 427.50,216.05 C427.95,213.76 428.33,211.95 428.80,209.65 C429.27,207.35 429.78,204.10 430.30,202.26 C430.82,200.43 431.37,198.87 431.90,198.62 C432.43,198.37 432.97,199.28 433.50,200.79 C434.03,202.30 434.60,205.05 435.10,207.68 C435.60,210.31 436.03,214.03 436.50,216.55 C436.97,219.06 437.43,222.42 437.90,222.75 C438.37,223.08 438.80,221.19 439.30,218.52 C439.80,215.84 440.37,210.55 440.90,206.70 C441.43,202.84 441.97,198.57 442.50,195.37 C443.03,192.17 443.58,189.29 444.10,187.49 C444.62,185.68 445.10,184.45 445.60,184.53 C446.10,184.62 446.57,186.18 447.10,187.98 C447.63,189.79 448.20,193.15 448.80,195.37 C449.40,197.59 450.05,199.18 450.70,201.28 C451.35,203.38 452.07,206.12 452.70,207.98 C453.33,209.83 453.90,211.87 454.50,212.41 C455.10,212.95 455.72,211.49 456.30,211.23 C456.88,210.96 457.53,210.36 458.00,210.83 C458.47,211.31 458.80,212.80 459.10,214.08 C459.40,215.36 459.57,216.96 459.80,218.52 C460.03,220.08 460.22,221.31 460.50,223.44 C460.78,225.58 461.20,229.11 461.50,231.32 C461.80,233.54 462.05,234.93 462.30,236.74 C462.55,238.54 462.73,239.78 463.00,242.16 C463.27,244.54 463.58,247.90 463.90,251.02 C464.22,254.14 464.57,257.59 464.90,260.87 C465.23,264.15 465.60,267.44 465.90,270.72 C466.20,274.00 466.47,277.94 466.70,280.57 C466.93,283.20 467.10,284.02 467.30,286.48 C467.50,288.94 467.67,292.23 467.90,295.35 C468.13,298.47 468.45,302.73 468.70,305.20 C468.95,307.66 469.07,308.55 469.40,310.12 C469.73,311.70 470.17,313.54 470.70,314.65 C471.23,315.77 471.87,316.31 472.60,316.82 C473.33,317.33 473.85,317.49 475.10,317.71 C476.35,317.92 479.27,318.03 480.10,318.10" fill="none" stroke="#8c564b" stroke-width="0.85" stroke-linejoin="round"/>
<path d="M325.40,318.10 L325.40,318.10 C327.07,318.07 332.07,318.03 335.40,317.90 C338.73,317.77 342.07,317.57 345.40,317.31 C348.73,317.04 352.38,316.65 355.40,316.32 C358.42,315.99 361.08,315.84 363.50,315.33 C365.92,314.82 368.13,313.94 369.90,313.25 C371.67,312.56 372.87,311.73 374.10,311.17 C375.33,310.61 376.23,310.51 377.30,309.88 C378.37,309.26 379.43,308.20 380.50,307.41 C381.57,306.62 382.70,305.91 383.70,305.13 C384.70,304.36 385.55,303.48 386.50,302.75 C387.45,302.03 388.48,301.34 389.40,300.78 C390.32,300.21 391.27,299.75 392.00,299.39 C392.73,299.03 393.10,298.61 393.80,298.60 C394.50,298.58 395.30,299.27 396.20,299.29 C397.10,299.31 398.28,299.19 399.20,298.70 C400.12,298.20 400.98,297.39 401.70,296.32 C402.42,295.25 402.90,293.66 403.50,292.26 C404.10,290.86 404.58,289.29 405.30,287.91 C406.02,286.52 406.98,284.95 407.80,283.95 C408.62,282.94 409.40,282.79 410.20,281.87 C411.00,280.94 411.90,279.90 412.60,278.40 C413.30,276.90 413.88,274.51 414.40,272.86 C414.92,271.21 415.32,270.05 415.70,268.50 C416.08,266.95 416.23,265.56 416.70,263.55 C417.17,261.54 417.85,258.82 418.50,256.42 C419.15,254.03 419.90,251.75 420.60,249.20 C421.30,246.64 422.02,243.80 422.70,241.08 C423.38,238.36 424.32,234.73 424.70,232.86 C425.08,231.00 424.72,231.54 425.00,229.89 C425.28,228.24 425.93,225.35 426.40,222.96 C426.87,220.57 427.35,217.85 427.80,215.54 C428.25,213.23 428.63,211.41 429.10,209.10 C429.57,206.79 430.08,203.52 430.60,201.68 C431.12,199.83 431.67,198.26 432.20,198.01 C432.73,197.77 433.27,198.67 433.80,200.19 C434.33,201.71 434.90,204.48 435.40,207.12 C435.90,209.76 436.33,213.51 436.80,216.03 C437.27,218.56 437.73,221.94 438.20,222.27 C438.67,222.60 439.10,220.70 439.60,218.01 C440.10,215.32 440.67,210.01 441.20,206.13 C441.73,202.25 442.27,197.96 442.80,194.75 C443.33,191.53 443.88,188.64 444.40,186.83 C444.92,185.01 445.40,183.77 445.90,183.86 C446.40,183.94 446.87,185.51 447.40,187.32 C447.93,189.14 448.50,192.52 449.10,194.75 C449.70,196.97 450.35,198.57 451.00,200.69 C451.65,202.80 452.37,205.55 453.00,207.42 C453.63,209.28 454.20,211.33 454.80,211.87 C455.40,212.42 456.02,210.95 456.60,210.69 C457.18,210.42 457.83,209.81 458.30,210.29 C458.77,210.77 459.10,212.27 459.40,213.56 C459.70,214.84 459.87,216.44 460.10,218.01 C460.33,219.58 460.52,220.82 460.80,222.96 C461.08,225.11 461.50,228.65 461.80,230.88 C462.10,233.11 462.35,234.51 462.60,236.33 C462.85,238.14 463.03,239.38 463.30,241.77 C463.57,244.16 463.88,247.55 464.20,250.68 C464.52,253.82 464.87,257.28 465.20,260.58 C465.53,263.88 465.90,267.18 466.20,270.48 C466.50,273.78 466.77,277.74 467.00,280.38 C467.23,283.02 467.40,283.85 467.60,286.32 C467.80,288.80 467.97,292.10 468.20,295.23 C468.43,298.37 468.75,302.66 469.00,305.13 C469.25,307.61 469.37,308.50 469.70,310.08 C470.03,311.67 470.47,313.51 471.00,314.64 C471.53,315.76 472.17,316.30 472.90,316.81 C473.63,317.32 474.15,317.49 475.40,317.70 C476.65,317.92 479.57,318.03 480.40,318.10 L480.40,318.10 Z" fill="#e377c2" fill-opacity="0.250" stroke="none"/>
<path d="M325.40,318.10 C327.07,318.07 332.07,318.03 335.40,317.90 C338.73,317.77 342.07,317.57 345.40,317.31 C348.73,317.04 352.38,316.65 355.40,316.32 C358.42,315.99 361.08,315.84 363.50,315.33 C365.92,314.82 368.13,313.94 369.90,313.25 C371.67,312.56 372.87,311.73 374.10,311.17 C375.33,310.61 376.23,310.51 377.30,309.88 C378.37,309.26 379.43,308.20 380.50,307.41 C381.57,306.62 382.70,305.91 383.70,305.13 C384.70,304.36 385.55,303.48 386.50,302.75 C387.45,302.03 388.48,301.34 389.40,300.78 C390.32,300.21 391.27,299.75 392.00,299.39 C392.73,299.03 393.10,298.61 393.80,298.60 C394.50,298.58 395.30,299.27 396.20,299.29 C397.10,299.31 398.28,299.19 399.20,298.70 C400.12,298.20 400.98,297.39 401.70,296.32 C402.42,295.25 402.90,293.66 403.50,292.26 C404.10,290.86 404.58,289.29 405.30,287.91 C406.02,286.52 406.98,284.95 407.80,283.95 C408.62,282.94 409.40,282.79 410.20,281.87 C411.00,280.94 411.90,279.90 412.60,278.40 C413.30,276.90 413.88,274.51 414.40,272.86 C414.92,271.21 415.32,270.05 415.70,268.50 C416.08,266.95 416.23,265.56 416.70,263.55 C417.17,261.54 417.85,258.82 418.50,256.42 C419.15,254.03 419.90,251.75 420.60,249.20 C421.30,246.64 422.02,243.80 422.70,241.08 C423.38,238.36 424.32,234.73 424.70,232.86 C425.08,231.00 424.72,231.54 425.00,229.89 C425.28,228.24 425.93,225.35 426.40,222.96 C426.87,220.57 427.35,217.85 427.80,215.54 C428.25,213.23 428.63,211.41 429.10,209.10 C429.57,206.79 430.08,203.52 430.60,201.68 C431.12,199.83 431.67,198.26 432.20,198.01 C432.73,197.77 433.27,198.67 433.80,200.19 C434.33,201.71 434.90,204.48 435.40,207.12 C435.90,209.76 436.33,213.51 436.80,216.03 C437.27,218.56 437.73,221.94 438.20,222.27 C438.67,222.60 439.10,220.70 439.60,218.01 C440.10,215.32 440.67,210.01 441.20,206.13 C441.73,202.25 442.27,197.96 442.80,194.75 C443.33,191.53 443.88,188.64 444.40,186.83 C444.92,185.01 445.40,183.77 445.90,183.86 C446.40,183.94 446.87,185.51 447.40,187.32 C447.93,189.14 448.50,192.52 449.10,194.75 C449.70,196.97 450.35,198.57 451.00,200.69 C451.65,202.80 452.37,205.55 453.00,207.42 C453.63,209.28 454.20,211.33 454.80,211.87 C455.40,212.42 456.02,210.95 456.60,210.69 C457.18,210.42 457.83,209.81 458.30,210.29 C458.77,210.77 459.10,212.27 459.40,213.56 C459.70,214.84 459.87,216.44 460.10,218.01 C460.33,219.58 460.52,220.82 460.80,222.96 C461.08,225.11 461.50,228.65 461.80,230.88 C462.10,233.11 462.35,234.51 462.60,236.33 C462.85,238.14 463.03,239.38 463.30,241.77 C463.57,244.16 463.88,247.55 464.20,250.68 C464.52,253.82 464.87,257.28 465.20,260.58 C465.53,263.88 465.90,267.18 466.20,270.48 C466.50,273.78 466.77,277.74 467.00,280.38 C467.23,283.02 467.40,283.85 467.60,286.32 C467.80,288.80 467.97,292.10 468.20,295.23 C468.43,298.37 468.75,302.66 469.00,305.13 C469.25,307.61 469.37,308.50 469.70,310.08 C470.03,311.67 470.47,313.51 471.00,314.64 C471.53,315.76 472.17,316.30 472.90,316.81 C473.63,317.32 474.15,317.49 475.40,317.70 C476.65,317.92 479.57,318.03 480.40,318.10" fill="none" stroke="#e377c2" stroke-width="0.85" stroke-linejoin="round"/>
<path d="M325.00,318.10 L325.00,318.10 C326.67,318.07 331.67,318.03 335.00,317.90 C338.33,317.77 341.67,317.58 345.00,317.32 C348.33,317.06 351.98,316.67 355.00,316.35 C358.02,316.02 360.68,315.87 363.10,315.37 C365.52,314.87 367.73,314.00 369.50,313.32 C371.27,312.64 372.47,311.83 373.70,311.28 C374.93,310.72 375.83,310.62 376.90,310.01 C377.97,309.39 379.03,308.35 380.10,307.57 C381.17,306.79 382.30,306.09 383.30,305.33 C384.30,304.56 385.15,303.70 386.10,302.99 C387.05,302.27 388.08,301.59 389.00,301.04 C389.92,300.49 390.87,300.03 391.60,299.67 C392.33,299.31 392.70,298.91 393.40,298.89 C394.10,298.88 394.90,299.56 395.80,299.58 C396.70,299.59 397.88,299.48 398.80,298.99 C399.72,298.50 400.58,297.71 401.30,296.65 C402.02,295.59 402.50,294.03 403.10,292.65 C403.70,291.27 404.18,289.73 404.90,288.36 C405.62,287.00 406.58,285.45 407.40,284.46 C408.22,283.47 409.00,283.33 409.80,282.42 C410.60,281.50 411.50,280.48 412.20,279.00 C412.90,277.52 413.48,275.17 414.00,273.54 C414.52,271.92 414.92,270.78 415.30,269.25 C415.68,267.73 415.83,266.36 416.30,264.38 C416.77,262.39 417.45,259.71 418.10,257.36 C418.75,255.00 419.50,252.76 420.20,250.24 C420.90,247.72 421.62,244.93 422.30,242.25 C422.98,239.56 423.92,235.99 424.30,234.15 C424.68,232.32 424.32,232.85 424.60,231.23 C424.88,229.60 425.53,226.76 426.00,224.40 C426.47,222.05 426.95,219.37 427.40,217.09 C427.85,214.81 428.23,213.03 428.70,210.75 C429.17,208.48 429.68,205.26 430.20,203.44 C430.72,201.62 431.27,200.08 431.80,199.83 C432.33,199.59 432.87,200.48 433.40,201.98 C433.93,203.47 434.50,206.20 435.00,208.80 C435.50,211.40 435.93,215.09 436.40,217.58 C436.87,220.06 437.33,223.40 437.80,223.72 C438.27,224.05 438.70,222.18 439.20,219.53 C439.70,216.88 440.27,211.65 440.80,207.83 C441.33,204.01 441.87,199.78 442.40,196.62 C442.93,193.45 443.48,190.60 444.00,188.81 C444.52,187.03 445.00,185.81 445.50,185.89 C446.00,185.97 446.47,187.52 447.00,189.30 C447.53,191.09 448.10,194.42 448.70,196.62 C449.30,198.81 449.95,200.38 450.60,202.47 C451.25,204.55 451.97,207.26 452.60,209.10 C453.23,210.93 453.80,212.95 454.40,213.48 C455.00,214.02 455.62,212.57 456.20,212.31 C456.78,212.05 457.43,211.45 457.90,211.92 C458.37,212.39 458.70,213.87 459.00,215.14 C459.30,216.41 459.47,217.98 459.70,219.53 C459.93,221.07 460.12,222.29 460.40,224.40 C460.68,226.51 461.10,230.01 461.40,232.20 C461.70,234.40 461.95,235.78 462.20,237.56 C462.45,239.35 462.63,240.57 462.90,242.93 C463.17,245.28 463.48,248.61 463.80,251.70 C464.12,254.79 464.47,258.20 464.80,261.45 C465.13,264.70 465.50,267.95 465.80,271.20 C466.10,274.45 466.37,278.35 466.60,280.95 C466.83,283.55 467.00,284.37 467.20,286.80 C467.40,289.24 467.57,292.49 467.80,295.58 C468.03,298.66 468.35,302.89 468.60,305.33 C468.85,307.76 468.97,308.64 469.30,310.20 C469.63,311.76 470.07,313.58 470.60,314.69 C471.13,315.79 471.77,316.33 472.50,316.83 C473.23,317.34 473.75,317.50 475.00,317.71 C476.25,317.92 479.17,318.04 480.00,318.10 L480.00,318.10 Z" fill="#7f7f7f" fill-opacity="0.250" stroke="none"/>
<path d="M325.00,318.10 C326.67,318.07 331.67,318.03 335.00,317.90 C338.33,317.77 341.67,317.58 345.00,317.32 C348.33,317.06 351.98,316.67 355.00,316.35 C358.02,316.02 360.68,315.87 363.10,315.37 C365.52,314.87 367.73,314.00 369.50,313.32 C371.27,312.64 372.47,311.83 373.70,311.28 C374.93,310.72 375.83,310.62 376.90,310.01 C377.97,309.39 379.03,308.35 380.10,307.57 C381.17,306.79 382.30,306.09 383.30,305.33 C384.30,304.56 385.15,303.70 386.10,302.99 C387.05,302.27 388.08,301.59 389.00,301.04 C389.92,300.49 390.87,300.03 391.60,299.67 C392.33,299.31 392.70,298.91 393.40,298.89 C394.10,298.88 394.90,299.56 395.80,299.58 C396.70,299.59 397.88,299.48 398.80,298.99 C399.72,298.50 400.58,297.71 401.30,296.65 C402.02,295.59 402.50,294.03 403.10,292.65 C403.70,291.27 404.18,289.73 404.90,288.36 C405.62,287.00 406.58,285.45 407.40,284.46 C408.22,283.47 409.00,283.33 409.80,282.42 C410.60,281.50 411.50,280.48 412.20,279.00 C412.90,277.52 413.48,275.17 414.00,273.54 C414.52,271.92 414.92,270.78 415.30,269.25 C415.68,267.73 415.83,266.36 416.30,264.38 C416.77,262.39 417.45,259.71 418.10,257.36 C418.75,255.00 419.50,252.76 420.20,250.24 C420.90,247.72 421.62,244.93 422.30,242.25 C422.98,239.56 423.92,235.99 424.30,234.15 C424.68,232.32 424.32,232.85 424.60,231.23 C424.88,229.60 425.53,226.76 426.00,224.40 C426.47,222.05 426.95,219.37 427.40,217.09 C427.85,214.81 428.23,213.03 428.70,210.75 C429.17,208.48 429.68,205.26 430.20,203.44 C430.72,201.62 431.27,200.08 431.80,199.83 C432.33,199.59 432.87,200.48 433.40,201.98 C433.93,203.47 434.50,206.20 435.00,208.80 C435.50,211.40 435.93,215.09 436.40,217.58 C436.87,220.06 437.33,223.40 437.80,223.72 C438.27,224.05 438.70,222.18 439.20,219.53 C439.70,216.88 440.27,211.65 440.80,207.83 C441.33,204.01 441.87,199.78 442.40,196.62 C442.93,193.45 443.48,190.60 444.00,188.81 C444.52,187.03 445.00,185.81 445.50,185.89 C446.00,185.97 446.47,187.52 447.00,189.30 C447.53,191.09 448.10,194.42 448.70,196.62 C449.30,198.81 449.95,200.38 450.60,202.47 C451.25,204.55 451.97,207.26 452.60,209.10 C453.23,210.93 453.80,212.95 454.40,213.48 C455.00,214.02 455.62,212.57 456.20,212.31 C456.78,212.05 457.43,211.45 457.90,211.92 C458.37,212.39 458.70,213.87 459.00,215.14 C459.30,216.41 459.47,217.98 459.70,219.53 C459.93,221.07 460.12,222.29 460.40,224.40 C460.68,226.51 461.10,230.01 461.40,232.20 C461.70,234.40 461.95,235.78 462.20,237.56 C462.45,239.35 462.63,240.57 462.90,242.93 C463.17,245.28 463.48,248.61 463.80,251.70 C464.12,254.79 464.47,258.20 464.80,261.45 C465.13,264.70 465.50,267.95 465.80,271.20 C466.10,274.45 466.37,278.35 466.60,280.95 C466.83,283.55 467.00,284.37 467.20,286.80 C467.40,289.24 467.57,292.49 467.80,295.58 C468.03,298.66 468.35,302.89 468.60,305.33 C468.85,307.76 468.97,308.64 469.30,310.20 C469.63,311.76 470.07,313.58 470.60,314.69 C471.13,315.79 471.77,316.33 472.50,316.83 C473.23,317.34 473.75,317.50 475.00,317.71 C476.25,317.92 479.17,318.04 480.00,318.10" fill="none" stroke="#7f7f7f" stroke-width="0.85" stroke-linejoin="round"/>
<path d="M324.80,318.10 L324.80,318.10 C326.47,318.07 331.47,318.04 334.80,317.91 C338.13,317.78 341.47,317.59 344.80,317.33 C348.13,317.08 351.78,316.69 354.80,316.37 C357.82,316.05 360.48,315.91 362.90,315.41 C365.32,314.92 367.53,314.07 369.30,313.40 C371.07,312.72 372.27,311.92 373.50,311.38 C374.73,310.84 375.63,310.74 376.70,310.13 C377.77,309.52 378.83,308.50 379.90,307.73 C380.97,306.96 382.10,306.28 383.10,305.52 C384.10,304.77 384.95,303.92 385.90,303.22 C386.85,302.52 387.88,301.84 388.80,301.30 C389.72,300.76 390.67,300.31 391.40,299.96 C392.13,299.60 392.50,299.20 393.20,299.19 C393.90,299.17 394.70,299.84 395.60,299.86 C396.50,299.88 397.68,299.76 398.60,299.28 C399.52,298.80 400.38,298.02 401.10,296.98 C401.82,295.94 402.30,294.40 402.90,293.04 C403.50,291.68 403.98,290.16 404.70,288.82 C405.42,287.48 406.38,285.96 407.20,284.98 C408.02,284.00 408.80,283.86 409.60,282.96 C410.40,282.07 411.30,281.06 412.00,279.60 C412.70,278.15 413.28,275.83 413.80,274.23 C414.32,272.63 414.72,271.51 415.10,270.00 C415.48,268.50 415.63,267.16 416.10,265.20 C416.57,263.25 417.25,260.61 417.90,258.29 C418.55,255.97 419.30,253.76 420.00,251.28 C420.70,248.80 421.42,246.05 422.10,243.41 C422.78,240.77 423.72,237.25 424.10,235.44 C424.48,233.64 424.12,234.16 424.40,232.56 C424.68,230.96 425.33,228.16 425.80,225.84 C426.27,223.52 426.75,220.88 427.20,218.64 C427.65,216.40 428.03,214.64 428.50,212.40 C428.97,210.16 429.48,207.00 430.00,205.20 C430.52,203.41 431.07,201.89 431.60,201.65 C432.13,201.41 432.67,202.29 433.20,203.76 C433.73,205.24 434.30,207.92 434.80,210.48 C435.30,213.04 435.73,216.68 436.20,219.12 C436.67,221.57 437.13,224.85 437.60,225.17 C438.07,225.49 438.50,223.65 439.00,221.04 C439.50,218.44 440.07,213.28 440.60,209.52 C441.13,205.76 441.67,201.60 442.20,198.48 C442.73,195.36 443.28,192.56 443.80,190.80 C444.32,189.04 444.80,187.84 445.30,187.92 C445.80,188.00 446.27,189.52 446.80,191.28 C447.33,193.04 447.90,196.32 448.50,198.48 C449.10,200.64 449.75,202.20 450.40,204.24 C451.05,206.29 451.77,208.96 452.40,210.77 C453.03,212.58 453.60,214.56 454.20,215.09 C454.80,215.62 455.42,214.20 456.00,213.94 C456.58,213.68 457.23,213.09 457.70,213.56 C458.17,214.02 458.50,215.48 458.80,216.72 C459.10,217.97 459.27,219.52 459.50,221.04 C459.73,222.56 459.92,223.76 460.20,225.84 C460.48,227.92 460.90,231.36 461.20,233.52 C461.50,235.68 461.75,237.04 462.00,238.80 C462.25,240.56 462.43,241.76 462.70,244.08 C462.97,246.40 463.28,249.68 463.60,252.72 C463.92,255.76 464.27,259.12 464.60,262.32 C464.93,265.52 465.30,268.72 465.60,271.92 C465.90,275.12 466.17,278.96 466.40,281.52 C466.63,284.08 466.80,284.88 467.00,287.28 C467.20,289.68 467.37,292.88 467.60,295.92 C467.83,298.96 468.15,303.12 468.40,305.52 C468.65,307.92 468.77,308.79 469.10,310.32 C469.43,311.86 469.87,313.65 470.40,314.74 C470.93,315.83 471.57,316.36 472.30,316.85 C473.03,317.35 473.55,317.51 474.80,317.72 C476.05,317.92 478.97,318.04 479.80,318.10 L479.80,318.10 Z" fill="#bcbd22" fill-opacity="0.250" stroke="none"/>
<path d="M324.80,318.10 C326.47,318.07 331.47,318.04 334.80,317.91 C338.13,317.78 341.47,317.59 344.80,317.33 C348.13,317.08 351.78,316.69 354.80,316.37 C357.82,316.05 360.48,315.91 362.90,315.41 C365.32,314.92 367.53,314.07 369.30,313.40 C371.07,312.72 372.27,311.92 373.50,311.38 C374.73,310.84 375.63,310.74 376.70,310.13 C377.77,309.52 378.83,308.50 379.90,307.73 C380.97,306.96 382.10,306.28 383.10,305.52 C384.10,304.77 384.95,303.92 385.90,303.22 C386.85,302.52 387.88,301.84 388.80,301.30 C389.72,300.76 390.67,300.31 391.40,299.96 C392.13,299.60 392.50,299.20 393.20,299.19 C393.90,299.17 394.70,299.84 395.60,299.86 C396.50,299.88 397.68,299.76 398.60,299.28 C399.52,298.80 400.38,298.02 401.10,296.98 C401.82,295.94 402.30,294.40 402.90,293.04 C403.50,291.68 403.98,290.16 404.70,288.82 C405.42,287.48 406.38,285.96 407.20,284.98 C408.02,284.00 408.80,283.86 409.60,282.96 C410.40,282.07 411.30,281.06 412.00,279.60 C412.70,278.15 413.28,275.83 413.80,274.23 C414.32,272.63 414.72,271.51 415.10,270.00 C415.48,268.50 415.63,267.16 416.10,265.20 C416.57,263.25 417.25,260.61 417.90,258.29 C418.55,255.97 419.30,253.76 420.00,251.28 C420.70,248.80 421.42,246.05 422.10,243.41 C422.78,240.77 423.72,237.25 424.10,235.44 C424.48,233.64 424.12,234.16 424.40,232.56 C424.68,230.96 425.33,228.16 425.80,225.84 C426.27,223.52 426.75,220.88 427.20,218.64 C427.65,216.40 428.03,214.64 428.50,212.40 C428.97,210.16 429.48,207.00 430.00,205.20 C430.52,203.41 431.07,201.89 431.60,201.65 C432.13,201.41 432.67,202.29 433.20,203.76 C433.73,205.24 434.30,207.92 434.80,210.48 C435.30,213.04 435.73,216.68 436.20,219.12 C436.67,221.57 437.13,224.85 437.60,225.17 C438.07,225.49 438.50,223.65 439.00,221.04 C439.50,218.44 440.07,213.28 440.60,209.52 C441.13,205.76 441.67,201.60 442.20,198.48 C442.73,195.36 443.28,192.56 443.80,190.80 C444.32,189.04 444.80,187.84 445.30,187.92 C445.80,188.00 446.27,189.52 446.80,191.28 C447.33,193.04 447.90,196.32 448.50,198.48 C449.10,200.64 449.75,202.20 450.40,204.24 C451.05,206.29 451.77,208.96 452.40,210.77 C453.03,212.58 453.60,214.56 454.20,215.09 C454.80,215.62 455.42,214.20 456.00,213.94 C456.58,213.68 457.23,213.09 457.70,213.56 C458.17,214.02 458.50,215.48 458.80,216.72 C459.10,217.97 459.27,219.52 459.50,221.04 C459.73,222.56 459.92,223.76 460.20,225.84 C460.48,227.92 460.90,231.36 461.20,233.52 C461.50,235.68 461.75,237.04 462.00,238.80 C462.25,240.56 462.43,241.76 462.70,244.08 C462.97,246.40 463.28,249.68 463.60,252.72 C463.92,255.76 464.27,259.12 464.60,262.32 C464.93,265.52 465.30,268.72 465.60,271.92 C465.90,275.12 466.17,278.96 466.40,281.52 C466.63,284.08 466.80,284.88 467.00,287.28 C467.20,289.68 467.37,292.88 467.60,295.92 C467.83,298.96 468.15,303.12 468.40,305.52 C468.65,307.92 468.77,308.79 469.10,310.32 C469.43,311.86 469.87,313.65 470.40,314.74 C470.93,315.83 471.57,316.36 472.30,316.85 C473.03,317.35 473.55,317.51 474.80,317.72 C476.05,317.92 478.97,318.04 479.80,318.10" fill="none" stroke="#bcbd22" stroke-width="0.85" stroke-linejoin="round"/>
<path d="M324.90,318.10 L324.90,318.10 C326.57,318.07 331.57,318.03 334.90,317.90 C338.23,317.77 341.57,317.57 344.90,317.31 C348.23,317.05 351.88,316.66 354.90,316.33 C357.92,316.00 360.58,315.85 363.00,315.34 C365.42,314.83 367.63,313.96 369.40,313.27 C371.17,312.58 372.37,311.76 373.60,311.21 C374.83,310.65 375.73,310.55 376.80,309.92 C377.87,309.30 378.93,308.25 380.00,307.46 C381.07,306.67 382.20,305.97 383.20,305.20 C384.20,304.42 385.05,303.55 386.00,302.83 C386.95,302.11 387.98,301.42 388.90,300.86 C389.82,300.30 390.77,299.84 391.50,299.48 C392.23,299.12 392.60,298.71 393.30,298.70 C394.00,298.68 394.80,299.37 395.70,299.39 C396.60,299.40 397.78,299.29 398.70,298.79 C399.62,298.30 400.48,297.50 401.20,296.43 C401.92,295.36 402.40,293.79 403.00,292.39 C403.60,291.00 404.08,289.44 404.80,288.06 C405.52,286.68 406.48,285.12 407.30,284.12 C408.12,283.12 408.90,282.97 409.70,282.05 C410.50,281.13 411.40,280.10 412.10,278.60 C412.80,277.11 413.38,274.73 413.90,273.09 C414.42,271.44 414.82,270.29 415.20,268.75 C415.58,267.21 415.73,265.83 416.20,263.83 C416.67,261.82 417.35,259.11 418.00,256.73 C418.65,254.35 419.40,252.09 420.10,249.54 C420.80,247.00 421.52,244.18 422.20,241.47 C422.88,238.76 423.82,235.15 424.20,233.29 C424.58,231.44 424.22,231.98 424.50,230.34 C424.78,228.69 425.43,225.82 425.90,223.44 C426.37,221.06 426.85,218.35 427.30,216.05 C427.75,213.76 428.13,211.95 428.60,209.65 C429.07,207.35 429.58,204.10 430.10,202.26 C430.62,200.43 431.17,198.87 431.70,198.62 C432.23,198.37 432.77,199.28 433.30,200.79 C433.83,202.30 434.40,205.05 434.90,207.68 C435.40,210.31 435.83,214.03 436.30,216.55 C436.77,219.06 437.23,222.42 437.70,222.75 C438.17,223.08 438.60,221.19 439.10,218.52 C439.60,215.84 440.17,210.55 440.70,206.70 C441.23,202.84 441.77,198.57 442.30,195.37 C442.83,192.17 443.38,189.29 443.90,187.49 C444.42,185.68 444.90,184.45 445.40,184.53 C445.90,184.62 446.37,186.18 446.90,187.98 C447.43,189.79 448.00,193.15 448.60,195.37 C449.20,197.59 449.85,199.18 450.50,201.28 C451.15,203.38 451.87,206.12 452.50,207.98 C453.13,209.83 453.70,211.87 454.30,212.41 C454.90,212.95 455.52,211.49 456.10,211.23 C456.68,210.96 457.33,210.36 457.80,210.83 C458.27,211.31 458.60,212.80 458.90,214.08 C459.20,215.36 459.37,216.96 459.60,218.52 C459.83,220.08 460.02,221.31 460.30,223.44 C460.58,225.58 461.00,229.11 461.30,231.32 C461.60,233.54 461.85,234.93 462.10,236.74 C462.35,238.54 462.53,239.78 462.80,242.16 C463.07,244.54 463.38,247.90 463.70,251.02 C464.02,254.14 464.37,257.59 464.70,260.87 C465.03,264.15 465.40,267.44 465.70,270.72 C466.00,274.00 466.27,277.94 466.50,280.57 C466.73,283.20 466.90,284.02 467.10,286.48 C467.30,288.94 467.47,292.23 467.70,295.35 C467.93,298.47 468.25,302.73 468.50,305.20 C468.75,307.66 468.87,308.55 469.20,310.12 C469.53,311.70 469.97,313.54 470.50,314.65 C471.03,315.77 471.67,316.31 472.40,316.82 C473.13,317.33 473.65,317.49 474.90,317.71 C476.15,317.92 479.07,318.03 479.90,318.10 L479.90,318.10 Z" fill="#17becf" fill-opacity="0.250" stroke="none"/>
<path d="M324.90,318.10 C326.57,318.07 331.57,318.03 334.90,317.90 C338.23,317.77 341.57,317.57 344.90,317.31 C348.23,317.05 351.88,316.66 354.90,316.33 C357.92,316.00 360.58,315.85 363.00,315.34 C365.42,314.83 367.63,313.96 369.40,313.27 C371.17,312.58 372.37,311.76 373.60,311.21 C374.83,310.65 375.73,310.55 376.80,309.92 C377.87,309.30 378.93,308.25 380.00,307.46 C381.07,306.67 382.20,305.97 383.20,305.20 C384.20,304.42 385.05,303.55 386.00,302.83 C386.95,302.11 387.98,301.42 388.90,300.86 C389.82,300.30 390.77,299.84 391.50,299.48 C392.23,299.12 392.60,298.71 393.30,298.70 C394.00,298.68 394.80,299.37 395.70,299.39 C396.60,299.40 397.78,299.29 398.70,298.79 C399.62,298.30 400.48,297.50 401.20,296.43 C401.92,295.36 402.40,293.79 403.00,292.39 C403.60,291.00 404.08,289.44 404.80,288.06 C405.52,286.68 406.48,285.12 407.30,284.12 C408.12,283.12 408.90,282.97 409.70,282.05 C410.50,281.13 411.40,280.10 412.10,278.60 C412.80,277.11 413.38,274.73 413.90,273.09 C414.42,271.44 414.82,270.29 415.20,268.75 C415.58,267.21 415.73,265.83 416.20,263.83 C416.67,261.82 417.35,259.11 418.00,256.73 C418.65,254.35 419.40,252.09 420.10,249.54 C420.80,247.00 421.52,244.18 422.20,241.47 C422.88,238.76 423.82,235.15 424.20,233.29 C424.58,231.44 424.22,231.98 424.50,230.34 C424.78,228.69 425.43,225.82 425.90,223.44 C426.37,221.06 426.85,218.35 427.30,216.05 C427.75,213.76 428.13,211.95 428.60,209.65 C429.07,207.35 429.58,204.10 430.10,202.26 C430.62,200.43 431.17,198.87 431.70,198.62 C432.23,198.37 432.77,199.28 433.30,200.79 C433.83,202.30 434.40,205.05 434.90,207.68 C435.40,210.31 435.83,214.03 436.30,216.55 C436.77,219.06 437.23,222.42 437.70,222.75 C438.17,223.08 438.60,221.19 439.10,218.52 C439.60,215.84 440.17,210.55 440.70,206.70 C441.23,202.84 441.77,198.57 442.30,195.37 C442.83,192.17 443.38,189.29 443.90,187.49 C444.42,185.68 444.90,184.45 445.40,184.53 C445.90,184.62 446.37,186.18 446.90,187.98 C447.43,189.79 448.00,193.15 448.60,195.37 C449.20,197.59 449.85,199.18 450.50,201.28 C451.15,203.38 451.87,206.12 452.50,207.98 C453.13,209.83 453.70,211.87 454.30,212.41 C454.90,212.95 455.52,211.49 456.10,211.23 C456.68,210.96 457.33,210.36 457.80,210.83 C458.27,211.31 458.60,212.80 458.90,214.08 C459.20,215.36 459.37,216.96 459.60,218.52 C459.83,220.08 460.02,221.31 460.30,223.44 C460.58,225.58 461.00,229.11 461.30,231.32 C461.60,233.54 461.85,234.93 462.10,236.74 C462.35,238.54 462.53,239.78 462.80,242.16 C463.07,244.54 463.38,247.90 463.70,251.02 C464.02,254.14 464.37,257.59 464.70,260.87 C465.03,264.15 465.40,267.44 465.70,270.72 C466.00,274.00 466.27,277.94 466.50,280.57 C466.73,283.20 466.90,284.02 467.10,286.48 C467.30,288.94 467.47,292.23 467.70,295.35 C467.93,298.47 468.25,302.73 468.50,305.20 C468.75,307.66 468.87,308.55 469.20,310.12 C469.53,311.70 469.97,313.54 470.50,314.65 C471.03,315.77 471.67,316.31 472.40,316.82 C473.13,317.33 473.65,317.49 474.90,317.71 C476.15,317.92 479.07,318.03 479.90,318.10" fill="none" stroke="#17becf" stroke-width="0.85" stroke-linejoin="round"/>
</g>
<line x1="297.70" y1="174.90" x2="297.70" y2="318.10" stroke="#8a8a8a" stroke-width="0.95"/>
<line x1="297.70" y1="318.10" x2="546.50" y2="318.10" stroke="#8a8a8a" stroke-width="0.95"/>
<line x1="296.10" y1="318.10" x2="297.70" y2="318.10" stroke="#8a8a8a" stroke-width="0.95"/>
<line x1="296.10" y1="291.42" x2="297.70" y2="291.42" stroke="#8a8a8a" stroke-width="0.95"/>
<line x1="296.10" y1="264.74" x2="297.70" y2="264.74" stroke="#8a8a8a" stroke-width="0.95"/>
<line x1="296.10" y1="238.06" x2="297.70" y2="238.06" stroke="#8a8a8a" stroke-width="0.95"/>
<line x1="296.10" y1="211.38" x2="297.70" y2="211.38" stroke="#8a8a8a" stroke-width="0.95"/>
<line x1="296.10" y1="184.70" x2="297.70" y2="184.70" stroke="#8a8a8a" stroke-width="0.95"/>
<line x1="297.70" y1="318.10" x2="297.70" y2="319.70" stroke="#8a8a8a" stroke-width="0.95"/>
<line x1="343.20" y1="318.10" x2="343.20" y2="319.70" stroke="#8a8a8a" stroke-width="0.95"/>
<line x1="388.70" y1="318.10" x2="388.70" y2="319.70" stroke="#8a8a8a" stroke-width="0.95"/>
<line x1="434.20" y1="318.10" x2="434.20" y2="319.70" stroke="#8a8a8a" stroke-width="0.95"/>
<line x1="479.70" y1="318.10" x2="479.70" y2="319.70" stroke="#8a8a8a" stroke-width="0.95"/>
<line x1="525.20" y1="318.10" x2="525.20" y2="319.70" stroke="#8a8a8a" stroke-width="0.95"/>
<rect x="469.80" y="178.00" width="73.90" height="89.40" rx="1.2" ry="1.2" fill="#fff" fill-opacity="0.8" stroke="#d4d4d4" stroke-opacity="0.8" stroke-width="0.5"/>
<rect x="472.40" y="180.60" width="12.2" height="4.2" fill="#1f77b4" fill-opacity="0.25" stroke="#1f77b4" stroke-width="0.75"/>
<rect x="472.40" y="189.30" width="12.2" height="4.2" fill="#ff7f0e" fill-opacity="0.25" stroke="#ff7f0e" stroke-width="0.75"/>
<rect x="472.40" y="198.00" width="12.2" height="4.2" fill="#2ca02c" fill-opacity="0.25" stroke="#2ca02c" stroke-width="0.75"/>
<rect x="472.40" y="206.70" width="12.2" height="4.2" fill="#d62728" fill-opacity="0.25" stroke="#d62728" stroke-width="0.75"/>
<rect x="472.40" y="215.40" width="12.2" height="4.2" fill="#9467bd" fill-opacity="0.25" stroke="#9467bd" stroke-width="0.75"/>
<rect x="472.40" y="224.10" width="12.2" height="4.2" fill="#8c564b" fill-opacity="0.25" stroke="#8c564b" stroke-width="0.75"/>
<rect x="472.40" y="232.80" width="12.2" height="4.2" fill="#e377c2" fill-opacity="0.25" stroke="#e377c2" stroke-width="0.75"/>
<rect x="472.40" y="241.50" width="12.2" height="4.2" fill="#7f7f7f" fill-opacity="0.25" stroke="#7f7f7f" stroke-width="0.75"/>
<rect x="472.40" y="250.20" width="12.2" height="4.2" fill="#bcbd22" fill-opacity="0.25" stroke="#bcbd22" stroke-width="0.75"/>
<rect x="472.40" y="258.90" width="12.2" height="4.2" fill="#17becf" fill-opacity="0.25" stroke="#17becf" stroke-width="0.75"/>
<g filter="url(#gs)" stroke="#1a1a1a" stroke-width="0.28" stroke-opacity="0.6">
<text style="font-family:'Liberation Serif',serif;text-rendering:geometricPrecision" x="22.80" y="156.30" font-size="5.40" text-anchor="end" fill="#222">0.0</text>
<text style="font-family:'Liberation Serif',serif;text-rendering:geometricPrecision" x="22.80" y="137.54" font-size="5.40" text-anchor="end" fill="#222">0.002</text>
<text style="font-family:'Liberation Serif',serif;text-rendering:geometricPrecision" x="22.80" y="118.78" font-size="5.40" text-anchor="end" fill="#222">0.004</text>
<text style="font-family:'Liberation Serif',serif;text-rendering:geometricPrecision" x="22.80" y="100.02" font-size="5.40" text-anchor="end" fill="#222">0.006</text>
<text style="font-family:'Liberation Serif',serif;text-rendering:geometricPrecision" x="22.80" y="81.26" font-size="5.40" text-anchor="end" fill="#222">0.008</text>
<text style="font-family:'Liberation Serif',serif;text-rendering:geometricPrecision" x="22.80" y="62.50" font-size="5.40" text-anchor="end" fill="#222">0.01</text>
<text style="font-family:'Liberation Serif',serif;text-rendering:geometricPrecision" x="22.80" y="43.74" font-size="5.40" text-anchor="end" fill="#222">0.012</text>
<text style="font-family:'Liberation Serif',serif;text-rendering:geometricPrecision" x="22.80" y="24.98" font-size="5.40" text-anchor="end" fill="#222">0.014</text>
<text style="font-family:'Liberation Serif',serif;text-rendering:geometricPrecision" transform="translate(37.30,161.95) scale(1,1.1)" font-size="5.90" text-anchor="middle" fill="#222">0.0</text>
<text style="font-family:'Liberation Serif',serif;text-rendering:geometricPrecision" transform="translate(81.30,161.95) scale(1,1.1)" font-size="5.90" text-anchor="middle" fill="#222">200.0</text>
<text style="font-family:'Liberation Serif',serif;text-rendering:geometricPrecision" transform="translate(125.30,161.95) scale(1,1.1)" font-size="5.90" text-anchor="middle" fill="#222">400.0</text>
<text style="font-family:'Liberation Serif',serif;text-rendering:geometricPrecision" transform="translate(169.30,161.95) scale(1,1.1)" font-size="5.90" text-anchor="middle" fill="#222">600.0</text>
<text style="font-family:'Liberation Serif',serif;text-rendering:geometricPrecision" transform="translate(213.30,161.95) scale(1,1.1)" font-size="5.90" text-anchor="middle" fill="#222">800.0</text>
<text style="font-family:'Liberation Serif',serif;text-rendering:geometricPrecision" transform="translate(257.30,161.95) scale(1,1.1)" font-size="5.90" text-anchor="middle" fill="#222">1000.0</text>
<text style="font-family:'Liberation Serif',serif;text-rendering:geometricPrecision" transform="translate(150.20,8.80) scale(1,1.07)" font-size="7.72" text-anchor="middle" fill="#111">Molecular Weight</text>
<text style="font-family:'Liberation Serif',serif;text-rendering:geometricPrecision" transform="translate(8.50,82.70) rotate(-90) scale(1,1.07)" x="0" y="0" font-size="7.72" text-anchor="middle" fill="#111">Density</text>
<text style="font-family:'Liberation Serif',serif;text-rendering:geometricPrecision" x="222.20" y="20.95" font-size="6.18" fill="#222">MOSES (0)</text>
<text style="font-family:'Liberation Serif',serif;text-rendering:geometricPrecision" x="222.20" y="29.65" font-size="6.18" fill="#222">HMM (176)</text>
<text style="font-family:'Liberation Serif',serif;text-rendering:geometricPrecision" x="222.20" y="38.35" font-size="6.18" fill="#222">NGram (78)</text>
<text style="font-family:'Liberation Serif',serif;text-rendering:geometricPrecision" x="222.20" y="47.05" font-size="6.18" fill="#222">Combinatorial (66)</text>
<text style="font-family:'Liberation Serif',serif;text-rendering:geometricPrecision" x="222.20" y="55.75" font-size="6.18" fill="#222">CharRNN (2.5)</text>
<text style="font-family:'Liberation Serif',serif;text-rendering:geometricPrecision" x="222.20" y="64.45" font-size="6.18" fill="#222">AAE (9.3)</text>
<text style="font-family:'Liberation Serif',serif;text-rendering:geometricPrecision" x="222.20" y="73.15" font-size="6.18" fill="#222">VAE (1.8)</text>
<text style="font-family:'Liberation Serif',serif;text-rendering:geometricPrecision" x="222.20" y="81.85" font-size="6.18" fill="#222">JTN-VAE (2.9)</text>
<text style="font-family:'Liberation Serif',serif;text-rendering:geometricPrecision" x="222.20" y="90.55" font-size="6.18" fill="#222">LatentGAN (5.2)</text>
<text style="font-family:'Liberation Serif',serif;text-rendering:geometricPrecision" x="222.20" y="99.25" font-size="6.18" fill="#222">MolGPT (2.6)</text>
<text style="font-family:'Liberation Serif',serif;text-rendering:geometricPrecision" x="295.10" y="156.70" font-size="5.40" text-anchor="end" fill="#222">0.0</text>
<text style="font-family:'Liberation Serif',serif;text-rendering:geometricPrecision" x="295.10" y="135.50" font-size="5.40" text-anchor="end" fill="#222">0.1</text>
<text style="font-family:'Liberation Serif',serif;text-rendering:geometricPrecision" x="295.10" y="114.30" font-size="5.40" text-anchor="end" fill="#222">0.2</text>
<text style="font-family:'Liberation Serif',serif;text-rendering:geometricPrecision" x="295.10" y="93.10" font-size="5.40" text-anchor="end" fill="#222">0.3</text>
<text style="font-family:'Liberation Serif',serif;text-rendering:geometricPrecision" x="295.10" y="71.90" font-size="5.40" text-anchor="end" fill="#222">0.4</text>
<text style="font-family:'Liberation Serif',serif;text-rendering:geometricPrecision" x="295.10" y="50.70" font-size="5.40" text-anchor="end" fill="#222">0.5</text>
<text style="font-family:'Liberation Serif',serif;text-rendering:geometricPrecision" x="295.10" y="29.50" font-size="5.40" text-anchor="end" fill="#222">0.6</text>
<text style="font-family:'Liberation Serif',serif;text-rendering:geometricPrecision" transform="translate(309.50,162.35) scale(1,1.1)" font-size="5.90" text-anchor="middle" fill="#222">-5.0</text>
<text style="font-family:'Liberation Serif',serif;text-rendering:geometricPrecision" transform="translate(339.30,162.35) scale(1,1.1)" font-size="5.90" text-anchor="middle" fill="#222">-2.5</text>
<text style="font-family:'Liberation Serif',serif;text-rendering:geometricPrecision" transform="translate(369.10,162.35) scale(1,1.1)" font-size="5.90" text-anchor="middle" fill="#222">0.0</text>
<text style="font-family:'Liberation Serif',serif;text-rendering:geometricPrecision" transform="translate(398.90,162.35) scale(1,1.1)" font-size="5.90" text-anchor="middle" fill="#222">2.5</text>
<text style="font-family:'Liberation Serif',serif;text-rendering:geometricPrecision" transform="translate(428.70,162.35) scale(1,1.1)" font-size="5.90" text-anchor="middle" fill="#222">5.0</text>
<text style="font-family:'Liberation Serif',serif;text-rendering:geometricPrecision" transform="translate(458.50,162.35) scale(1,1.1)" font-size="5.90" text-anchor="middle" fill="#222">7.5</text>
<text style="font-family:'Liberation Serif',serif;text-rendering:geometricPrecision" transform="translate(488.30,162.35) scale(1,1.1)" font-size="5.90" text-anchor="middle" fill="#222">10.0</text>
<text style="font-family:'Liberation Serif',serif;text-rendering:geometricPrecision" transform="translate(518.10,162.35) scale(1,1.1)" font-size="5.90" text-anchor="middle" fill="#222">12.5</text>
<text style="font-family:'Liberation Serif',serif;text-rendering:geometricPrecision" transform="translate(422.20,8.80) scale(1,1.07)" font-size="7.72" text-anchor="middle" fill="#111">LogP</text>
<text style="font-family:'Liberation Serif',serif;text-rendering:geometricPrecision" transform="translate(284.60,82.90) rotate(-90) scale(1,1.07)" x="0" y="0" font-size="7.72" text-anchor="middle" fill="#111">Density</text>
<text style="font-family:'Liberation Serif',serif;text-rendering:geometricPrecision" x="489.50" y="20.85" font-size="6.18" fill="#222">MOSES (0)</text>
<text style="font-family:'Liberation Serif',serif;text-rendering:geometricPrecision" x="489.50" y="29.55" font-size="6.18" fill="#222">HMM (0.77)</text>
<text style="font-family:'Liberation Serif',serif;text-rendering:geometricPrecision" x="489.50" y="38.25" font-size="6.18" fill="#222">NGram (0.37)</text>
<text style="font-family:'Liberation Serif',serif;text-rendering:geometricPrecision" x="489.50" y="46.95" font-size="6.18" fill="#222">Combinatorial (0.76)</text>
<text style="font-family:'Liberation Serif',serif;text-rendering:geometricPrecision" x="489.50" y="55.65" font-size="6.18" fill="#222">CharRNN (0.057)</text>
<text style="font-family:'Liberation Serif',serif;text-rendering:geometricPrecision" x="489.50" y="64.35" font-size="6.18" fill="#222">AAE (0.055)</text>
<text style="font-family:'Liberation Serif',serif;text-rendering:geometricPrecision" x="489.50" y="73.05" font-size="6.18" fill="#222">VAE (0.023)</text>
<text style="font-family:'Liberation Serif',serif;text-rendering:geometricPrecision" x="489.50" y="81.75" font-size="6.18" fill="#222">JTN-VAE (0.069)</text>
<text style="font-family:'Liberation Serif',serif;text-rendering:geometricPrecision" x="489.50" y="90.45" font-size="6.18" fill="#222">LatentGAN (0.063)</text>
<text style="font-family:'Liberation Serif',serif;text-rendering:geometricPrecision" x="489.50" y="99.15" font-size="6.18" fill="#222">MolGPT (0.082)</text>
<text style="font-family:'Liberation Serif',serif;text-rendering:geometricPrecision" x="22.80" y="320.20" font-size="5.40" text-anchor="end" fill="#222">0.0</text>
<text style="font-family:'Liberation Serif',serif;text-rendering:geometricPrecision" x="22.80" y="292.30" font-size="5.40" text-anchor="end" fill="#222">0.2</text>
<text style="font-family:'Liberation Serif',serif;text-rendering:geometricPrecision" x="22.80" y="264.40" font-size="5.40" text-anchor="end" fill="#222">0.4</text>
<text style="font-family:'Liberation Serif',serif;text-rendering:geometricPrecision" x="22.80" y="236.50" font-size="5.40" text-anchor="end" fill="#222">0.6</text>
<text style="font-family:'Liberation Serif',serif;text-rendering:geometricPrecision" x="22.80" y="208.60" font-size="5.40" text-anchor="end" fill="#222">0.8</text>
<text style="font-family:'Liberation Serif',serif;text-rendering:geometricPrecision" x="22.80" y="180.70" font-size="5.40" text-anchor="end" fill="#222">1.0</text>
<text style="font-family:'Liberation Serif',serif;text-rendering:geometricPrecision" transform="translate(53.30,325.85) scale(1,1.1)" font-size="5.90" text-anchor="middle" fill="#222">1.0</text>
<text style="font-family:'Liberation Serif',serif;text-rendering:geometricPrecision" transform="translate(82.60,325.85) scale(1,1.1)" font-size="5.90" text-anchor="middle" fill="#222">2.0</text>
<text style="font-family:'Liberation Serif',serif;text-rendering:geometricPrecision" transform="translate(111.90,325.85) scale(1,1.1)" font-size="5.90" text-anchor="middle" fill="#222">3.0</text>
<text style="font-family:'Liberation Serif',serif;text-rendering:geometricPrecision" transform="translate(141.20,325.85) scale(1,1.1)" font-size="5.90" text-anchor="middle" fill="#222">4.0</text>
<text style="font-family:'Liberation Serif',serif;text-rendering:geometricPrecision" transform="translate(170.50,325.85) scale(1,1.1)" font-size="5.90" text-anchor="middle" fill="#222">5.0</text>
<text style="font-family:'Liberation Serif',serif;text-rendering:geometricPrecision" transform="translate(199.80,325.85) scale(1,1.1)" font-size="5.90" text-anchor="middle" fill="#222">6.0</text>
<text style="font-family:'Liberation Serif',serif;text-rendering:geometricPrecision" transform="translate(229.10,325.85) scale(1,1.1)" font-size="5.90" text-anchor="middle" fill="#222">7.0</text>
<text style="font-family:'Liberation Serif',serif;text-rendering:geometricPrecision" transform="translate(258.40,325.85) scale(1,1.1)" font-size="5.90" text-anchor="middle" fill="#222">8.0</text>
<text style="font-family:'Liberation Serif',serif;text-rendering:geometricPrecision" transform="translate(150.40,172.80) scale(1,1.07)" font-size="7.72" text-anchor="middle" fill="#111">Synthetic Accessibility</text>
<text style="font-family:'Liberation Serif',serif;text-rendering:geometricPrecision" transform="translate(12.90,246.65) rotate(-90) scale(1,1.07)" x="0" y="0" font-size="7.72" text-anchor="middle" fill="#111">Density</text>
<text style="font-family:'Liberation Serif',serif;text-rendering:geometricPrecision" x="217.60" y="184.65" font-size="6.18" fill="#222">MOSES (0)</text>
<text style="font-family:'Liberation Serif',serif;text-rendering:geometricPrecision" x="217.60" y="193.35" font-size="6.18" fill="#222">HMM (0.64)</text>
<text style="font-family:'Liberation Serif',serif;text-rendering:geometricPrecision" x="217.60" y="202.05" font-size="6.18" fill="#222">NGram (0.23)</text>
<text style="font-family:'Liberation Serif',serif;text-rendering:geometricPrecision" x="217.60" y="210.75" font-size="6.18" fill="#222">Combinatorial (0.28)</text>
<text style="font-family:'Liberation Serif',serif;text-rendering:geometricPrecision" x="217.60" y="219.45" font-size="6.18" fill="#222">CharRNN (0.016)</text>
<text style="font-family:'Liberation Serif',serif;text-rendering:geometricPrecision" x="217.60" y="228.15" font-size="6.18" fill="#222">AAE (0.066)</text>
<text style="font-family:'Liberation Serif',serif;text-rendering:geometricPrecision" x="217.60" y="236.85" font-size="6.18" fill="#222">VAE (0.014)</text>
<text style="font-family:'Liberation Serif',serif;text-rendering:geometricPrecision" x="217.60" y="245.55" font-size="6.18" fill="#222">JTN-VAE (0.16)</text>
<text style="font-family:'Liberation Serif',serif;text-rendering:geometricPrecision" x="217.60" y="254.25" font-size="6.18" fill="#222">LatentGAN (0.085)</text>
<text style="font-family:'Liberation Serif',serif;text-rendering:geometricPrecision" x="217.60" y="262.95" font-size="6.18" fill="#222">MolGPT (0.0083)</text>
<text style="font-family:'Liberation Serif',serif;text-rendering:geometricPrecision" x="295.10" y="319.90" font-size="5.40" text-anchor="end" fill="#222">0.0</text>
<text style="font-family:'Liberation Serif',serif;text-rendering:geometricPrecision" x="295.10" y="293.22" font-size="5.40" text-anchor="end" fill="#222">1.0</text>
<text style="font-family:'Liberation Serif',serif;text-rendering:geometricPrecision" x="295.10" y="266.54" font-size="5.40" text-anchor="end" fill="#222">2.0</text>
<text style="font-family:'Liberation Serif',serif;text-rendering:geometricPrecision" x="295.10" y="239.86" font-size="5.40" text-anchor="end" fill="#222">3.0</text>
<text style="font-family:'Liberation Serif',serif;text-rendering:geometricPrecision" x="295.10" y="213.18" font-size="5.40" text-anchor="end" fill="#222">4.0</text>
<text style="font-family:'Liberation Serif',serif;text-rendering:geometricPrecision" x="295.10" y="186.50" font-size="5.40" text-anchor="end" fill="#222">5.0</text>
<text style="font-family:'Liberation Serif',serif;text-rendering:geometricPrecision" transform="translate(297.70,325.55) scale(1,1.1)" font-size="5.90" text-anchor="middle" fill="#222">-0.2</text>
<text style="font-family:'Liberation Serif',serif;text-rendering:geometricPrecision" transform="translate(343.20,325.55) scale(1,1.1)" font-size="5.90" text-anchor="middle" fill="#222">0.0</text>
<text style="font-family:'Liberation Serif',serif;text-rendering:geometricPrecision" transform="translate(388.70,325.55) scale(1,1.1)" font-size="5.90" text-anchor="middle" fill="#222">0.2</text>
<text style="font-family:'Liberation Serif',serif;text-rendering:geometricPrecision" transform="translate(434.20,325.55) scale(1,1.1)" font-size="5.90" text-anchor="middle" fill="#222">0.4</text>
<text style="font-family:'Liberation Serif',serif;text-rendering:geometricPrecision" transform="translate(479.70,325.55) scale(1,1.1)" font-size="5.90" text-anchor="middle" fill="#222">0.6</text>
<text style="font-family:'Liberation Serif',serif;text-rendering:geometricPrecision" transform="translate(525.20,325.55) scale(1,1.1)" font-size="5.90" text-anchor="middle" fill="#222">0.8</text>
<text style="font-family:'Liberation Serif',serif;text-rendering:geometricPrecision" transform="translate(422.20,173.10) scale(1,1.07)" font-size="7.72" text-anchor="middle" fill="#111">QED</text>
<text style="font-family:'Liberation Serif',serif;text-rendering:geometricPrecision" transform="translate(284.70,246.50) rotate(-90) scale(1,1.07)" x="0" y="0" font-size="7.72" text-anchor="middle" fill="#111">Density</text>
<text style="font-family:'Liberation Serif',serif;text-rendering:geometricPrecision" x="489.70" y="184.75" font-size="6.18" fill="#222">MOSES (0)</text>
<text style="font-family:'Liberation Serif',serif;text-rendering:geometricPrecision" x="489.70" y="193.45" font-size="6.18" fill="#222">HMM (0.26)</text>
<text style="font-family:'Liberation Serif',serif;text-rendering:geometricPrecision" x="489.70" y="202.15" font-size="6.18" fill="#222">NGram (0.089)</text>
<text style="font-family:'Liberation Serif',serif;text-rendering:geometricPrecision" x="489.70" y="210.85" font-size="6.18" fill="#222">Combinatorial (0.15)</text>
<text style="font-family:'Liberation Serif',serif;text-rendering:geometricPrecision" x="489.70" y="219.55" font-size="6.18" fill="#222">CharRNN (0.0022)</text>
<text style="font-family:'Liberation Serif',serif;text-rendering:geometricPrecision" x="489.70" y="228.25" font-size="6.18" fill="#222">AAE (0.006)</text>
<text style="font-family:'Liberation Serif',serif;text-rendering:geometricPrecision" x="489.70" y="236.95" font-size="6.18" fill="#222">VAE (0.0006)</text>
<text style="font-family:'Liberation Serif',serif;text-rendering:geometricPrecision" x="489.70" y="245.65" font-size="6.18" fill="#222">JTN-VAE (0.0028)</text>
<text style="font-family:'Liberation Serif',serif;text-rendering:geometricPrecision" x="489.70" y="254.35" font-size="6.18" fill="#222">LatentGAN (0.0049)</text>
<text style="font-family:'Liberation Serif',serif;text-rendering:geometricPrecision" x="489.70" y="263.05" font-size="6.18" fill="#222">MolGPT (0.005)</text>
</g>
</svg></body></html>
